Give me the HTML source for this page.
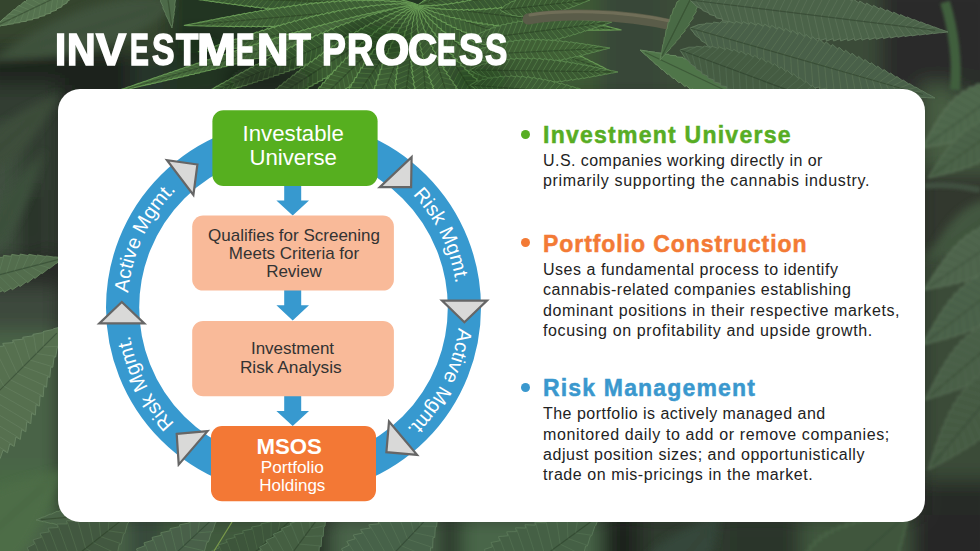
<!DOCTYPE html>
<html><head><meta charset="utf-8">
<style>
html,body{margin:0;padding:0;}
body{width:980px;height:551px;overflow:hidden;position:relative;background:#262925;font-family:"Liberation Sans",sans-serif;}
#bg{position:absolute;left:0;top:0;width:980px;height:551px;}
.tl{position:absolute;top:25px;font-weight:bold;font-size:44px;line-height:normal;color:#fff;white-space:nowrap;-webkit-text-stroke:1.6px #fff;transform-origin:0 0;}
.panel{position:absolute;left:58px;top:89px;width:867px;height:433px;background:#fff;border-radius:22px;}
#dia{position:absolute;left:0;top:0;}
.r{position:absolute;left:543px;white-space:nowrap;font-size:16px;line-height:20px;color:#222;}
.h{position:absolute;left:543px;white-space:nowrap;font-size:23px;font-weight:bold;line-height:28px;-webkit-text-stroke:0.5px currentColor;}
.dot{position:absolute;width:9px;height:9px;border-radius:50%;}
</style></head>
<body>
<svg id="bg" width="980" height="551" viewBox="0 0 980 551">
  <defs>
    <filter id="fT" x="-30%" y="-30%" width="160%" height="160%"><feGaussianBlur stdDeviation="10"/></filter>
    <filter id="fS" x="-10%" y="-10%" width="120%" height="120%"><feGaussianBlur stdDeviation="0.6"/></filter>
    <filter id="fM" x="-10%" y="-10%" width="120%" height="120%"><feGaussianBlur stdDeviation="1.8"/></filter>
    <filter id="fH" x="-20%" y="-20%" width="140%" height="140%"><feGaussianBlur stdDeviation="4"/></filter>
  </defs>
  <rect width="980" height="551" fill="#262925"/>
  <g filter="url(#fT)"><rect x="-20" y="-20" width="190" height="75" fill="#34442f"/><rect x="-20" y="50" width="155" height="60" fill="#1c211c"/><rect x="130" y="55" width="70" height="50" fill="#28342a"/><rect x="170" y="-20" width="310" height="120" fill="#213520"/><rect x="480" y="-20" width="130" height="120" fill="#3c5a36"/><rect x="600" y="-20" width="60" height="120" fill="#374638"/><rect x="660" y="-20" width="220" height="120" fill="#3a4c38"/><rect x="880" y="-20" width="120" height="120" fill="#292c29"/><rect x="-20" y="85" width="80" height="170" fill="#303e30"/><rect x="-20" y="130" width="38" height="130" fill="#3f5140"/><rect x="18" y="190" width="22" height="70" fill="#252d25"/><rect x="-20" y="285" width="80" height="45" fill="#3d483e"/><rect x="-20" y="330" width="80" height="140" fill="#4a6446"/><rect x="-20" y="470" width="80" height="110" fill="#4a6a45"/><rect x="920" y="85" width="80" height="85" fill="#465d43"/><rect x="955" y="70" width="50" height="30" fill="#2a2d2a"/><rect x="920" y="170" width="80" height="90" fill="#30392f"/><rect x="920" y="255" width="80" height="225" fill="#3a4b38"/><rect x="920" y="480" width="80" height="90" fill="#282928"/><rect x="-20" y="515" width="150" height="60" fill="#4a6446"/><rect x="130" y="515" width="30" height="60" fill="#34463a"/><rect x="160" y="515" width="140" height="60" fill="#3f5a3c"/><rect x="300" y="525" width="30" height="50" fill="#222a22"/><rect x="330" y="515" width="110" height="60" fill="#48634a"/><rect x="440" y="515" width="20" height="60" fill="#242a24"/><rect x="460" y="515" width="140" height="60" fill="#4a6648"/><rect x="600" y="515" width="40" height="60" fill="#1f241f"/><rect x="640" y="515" width="90" height="60" fill="#2e3a2e"/><rect x="730" y="515" width="70" height="60" fill="#2c362c"/><rect x="800" y="515" width="110" height="60" fill="#3f563d"/><rect x="910" y="515" width="90" height="60" fill="#262826"/></g>
  <g filter="url(#fH)"><path d="M-60.0,580.0 L-49.6,582.5 L-47.3,583.4 L-39.9,582.6 L-37.3,583.9 L-31.1,581.7 L-28.3,583.2 L-23.0,580.0 L-20.0,581.7 L-15.5,577.6 L-12.3,579.5 L-8.6,574.6 L-5.3,576.7 L-2.1,571.2 L1.2,573.3 L3.9,567.2 L7.3,569.3 L9.5,562.7 L12.8,564.8 L14.8,557.9 L18.0,559.9 L19.6,552.6 L22.8,554.5 L24.2,547.0 L27.2,548.7 L28.4,541.0 L31.3,542.6 L32.4,534.8 L35.1,536.1 L36.2,528.3 L38.6,529.4 L39.7,521.6 L42.0,522.4 L43.1,514.7 L45.1,515.3 L46.4,507.6 L48.1,507.9 L49.5,500.4 L51.0,500.5 L52.6,493.2 L53.8,492.9 L55.6,485.8 L56.6,485.3 L58.6,478.5 L59.3,477.6 L61.6,471.1 L62.0,470.0 L62.0,470.0 L60.9,470.3 L54.1,471.9 L53.2,472.5 L46.2,473.8 L45.6,474.7 L38.4,475.8 L38.0,477.0 L30.6,477.8 L30.5,479.3 L22.8,479.9 L23.0,481.7 L15.2,482.1 L15.6,484.2 L7.8,484.5 L8.4,486.8 L0.5,487.1 L1.4,489.7 L-6.5,490.0 L-5.5,492.7 L-13.4,493.1 L-12.1,496.1 L-19.9,496.5 L-18.5,499.7 L-26.1,500.3 L-24.5,503.6 L-31.9,504.5 L-30.3,507.9 L-37.4,509.1 L-35.6,512.6 L-42.4,514.2 L-40.6,517.7 L-47.0,519.8 L-45.2,523.3 L-51.1,525.9 L-49.4,529.4 L-54.6,532.6 L-53.0,536.0 L-57.6,540.0 L-56.1,543.2 L-59.9,548.1 L-58.7,551.1 L-61.5,557.0 L-60.5,559.7 L-62.1,567.0 L-61.4,569.4 L-60.0,580.0Z" fill="#4d6d47"/><path d="M-60.0,580.0 L55.9,475.5" stroke="#1a2a18" stroke-opacity="0.35" stroke-width="1.2"/><path d="M175.0,2.0 L167.9,-0.5 L166.5,-1.2 L160.1,-1.6 L158.6,-2.5 L152.5,-2.0 L151.0,-3.2 L145.0,-2.0 L143.4,-3.4 L137.6,-1.7 L136.0,-3.2 L130.4,-1.0 L128.7,-2.7 L123.2,-0.1 L121.6,-1.8 L116.2,1.2 L114.5,-0.6 L109.2,2.7 L107.5,0.9 L102.3,4.4 L100.6,2.6 L95.4,6.4 L93.7,4.6 L88.6,8.6 L87.0,6.8 L81.9,11.0 L80.3,9.3 L75.3,13.5 L73.7,11.9 L68.7,16.3 L67.1,14.8 L62.2,19.2 L60.6,17.8 L55.7,22.3 L54.1,21.0 L49.2,25.5 L47.7,24.3 L42.8,28.8 L41.4,27.8 L36.4,32.2 L35.0,31.3 L30.0,35.7 L28.7,35.0 L23.7,39.2 L22.4,38.7 L17.4,42.9 L16.2,42.5 L11.1,46.5 L9.9,46.4 L4.8,50.2 L3.7,50.3 L-1.5,54.0 L-2.5,54.2 L-7.8,57.7 L-8.8,58.1 L-14.1,61.4 L-15.0,62.0 L-15.0,62.0 L-13.9,61.9 L-7.7,61.6 L-6.6,61.4 L-0.3,61.3 L0.7,60.8 L7.0,60.9 L8.0,60.3 L14.4,60.5 L15.2,59.7 L21.7,60.0 L22.5,59.1 L29.0,59.6 L29.8,58.4 L36.3,59.0 L37.0,57.7 L43.6,58.4 L44.2,56.9 L50.8,57.7 L51.4,56.0 L58.0,56.8 L58.5,55.0 L65.1,55.9 L65.7,53.9 L72.3,54.8 L72.7,52.7 L79.3,53.5 L79.8,51.3 L86.3,52.1 L86.7,49.8 L93.3,50.4 L93.7,48.1 L100.2,48.6 L100.5,46.2 L107.0,46.5 L107.3,44.1 L113.7,44.3 L114.1,41.8 L120.4,41.7 L120.7,39.3 L127.0,38.9 L127.3,36.5 L133.4,35.8 L133.8,33.4 L139.8,32.4 L140.2,30.1 L146.1,28.7 L146.5,26.5 L152.3,24.6 L152.8,22.5 L158.3,20.1 L158.9,18.2 L164.2,15.1 L164.8,13.5 L169.9,9.5 L170.6,8.1 L175.0,2.0Z" fill="#3f523c"/><path d="M175.0,2.0 L-5.5,59.0" stroke="#1a2a18" stroke-opacity="0.35" stroke-width="1.2"/><path d="M-30.0,175.0 L-22.1,174.6 L-20.4,174.7 L-14.2,172.3 L-12.5,172.7 L-7.1,169.4 L-5.2,169.9 L-0.4,165.9 L1.6,166.5 L5.9,162.0 L7.9,162.6 L11.8,157.7 L13.8,158.2 L17.3,152.9 L19.3,153.4 L22.5,147.8 L24.4,148.3 L27.5,142.4 L29.3,142.8 L32.2,136.8 L33.9,137.0 L36.7,130.9 L38.3,131.0 L41.1,124.8 L42.5,124.8 L45.3,118.6 L46.5,118.4 L49.4,112.3 L50.5,111.9 L53.4,105.9 L54.3,105.3 L57.4,99.4 L58.2,98.6 L61.4,93.0 L62.0,92.0 L62.0,92.0 L61.0,92.5 L55.0,95.1 L54.1,95.8 L48.0,98.3 L47.3,99.1 L41.1,101.4 L40.5,102.5 L34.2,104.7 L33.8,105.9 L27.4,108.1 L27.2,109.4 L20.8,111.6 L20.7,113.1 L14.3,115.3 L14.4,117.0 L8.1,119.3 L8.3,121.1 L2.2,123.6 L2.4,125.5 L-3.5,128.2 L-3.2,130.2 L-8.8,133.2 L-8.5,135.2 L-13.8,138.6 L-13.4,140.6 L-18.3,144.5 L-18.0,146.5 L-22.4,150.8 L-22.1,152.8 L-25.9,157.8 L-25.7,159.6 L-28.8,165.5 L-28.7,167.1 L-30.0,175.0Z" fill="#3d4e3b"/><path d="M-30.0,175.0 L57.4,96.2" stroke="#1a2a18" stroke-opacity="0.35" stroke-width="1.2"/><path d="M-20.0,260.0 L-13.8,256.7 L-12.5,256.2 L-7.9,251.9 L-6.4,251.5 L-2.6,246.8 L-1.0,246.5 L2.3,241.4 L4.0,241.2 L6.8,235.9 L8.5,235.6 L11.0,230.1 L12.7,229.8 L14.8,224.1 L16.5,223.8 L18.4,217.9 L20.0,217.7 L21.7,211.6 L23.2,211.3 L24.7,205.2 L26.2,204.8 L27.6,198.7 L29.0,198.2 L30.3,192.0 L31.5,191.5 L32.9,185.3 L34.0,184.7 L35.4,178.5 L36.3,177.8 L37.8,171.7 L38.5,170.9 L40.1,164.8 L40.7,164.0 L42.4,157.9 L42.9,157.0 L44.7,151.0 L45.0,150.0 L45.0,150.0 L44.3,150.8 L39.9,155.2 L39.3,156.1 L34.8,160.5 L34.4,161.5 L29.8,165.7 L29.5,166.8 L24.8,171.0 L24.7,172.2 L19.9,176.4 L19.9,177.6 L15.1,181.8 L15.3,183.1 L10.5,187.3 L10.7,188.7 L6.0,192.9 L6.4,194.4 L1.8,198.7 L2.3,200.2 L-2.2,204.6 L-1.7,206.1 L-5.9,210.6 L-5.3,212.2 L-9.3,216.8 L-8.7,218.4 L-12.4,223.3 L-11.8,224.9 L-15.1,229.9 L-14.5,231.5 L-17.3,236.8 L-16.9,238.4 L-19.1,244.0 L-18.8,245.5 L-20.3,251.6 L-20.1,252.9 L-20.0,260.0Z" fill="#3e513c"/><path d="M-20.0,260.0 L41.8,155.5" stroke="#1a2a18" stroke-opacity="0.35" stroke-width="1.2"/><path d="M1010.0,200.0 L1001.4,198.3 L999.6,197.7 L993.1,198.8 L991.1,197.9 L985.5,200.4 L983.5,199.4 L978.6,202.7 L976.5,201.7 L972.2,205.9 L970.1,204.8 L966.2,209.6 L964.2,208.6 L960.7,214.0 L958.8,213.1 L955.6,218.8 L953.8,218.1 L950.8,224.1 L949.1,223.6 L946.2,229.8 L944.7,229.5 L941.9,235.7 L940.5,235.7 L937.7,241.9 L936.5,242.1 L933.6,248.2 L932.6,248.7 L929.6,254.6 L928.8,255.3 L925.6,261.0 L925.0,262.0 L925.0,262.0 L926.1,261.7 L932.5,260.4 L933.4,259.9 L940.0,258.8 L940.8,258.0 L947.5,257.1 L948.0,256.1 L954.8,255.3 L955.2,254.0 L962.0,253.2 L962.2,251.6 L968.9,250.8 L968.9,249.0 L975.6,248.0 L975.4,246.0 L981.9,244.8 L981.6,242.6 L987.8,241.0 L987.5,238.7 L993.2,236.5 L992.9,234.2 L998.2,231.4 L997.8,229.1 L1002.5,225.4 L1002.2,223.2 L1006.2,218.6 L1006.0,216.5 L1009.1,210.6 L1009.0,208.7 L1010.0,200.0Z" fill="#42573f"/><path d="M1010.0,200.0 L929.2,258.9" stroke="#1a2a18" stroke-opacity="0.35" stroke-width="1.2"/><path d="M640.0,610.0 L650.7,610.9 L653.1,611.5 L660.3,609.4 L663.0,610.2 L668.6,606.8 L671.4,607.8 L675.8,603.4 L678.9,604.5 L682.3,599.3 L685.3,600.4 L687.9,594.5 L691.0,595.6 L692.9,589.1 L695.9,590.2 L697.2,583.2 L700.1,584.2 L701.0,576.9 L703.7,577.7 L704.3,570.1 L706.7,570.7 L707.2,563.0 L709.4,563.4 L709.8,555.6 L711.6,555.7 L712.0,547.9 L713.6,547.8 L714.1,540.1 L715.4,539.7 L716.0,532.2 L717.0,531.5 L717.9,524.2 L718.5,523.3 L719.7,516.2 L720.0,515.0 L720.0,515.0 L718.9,515.5 L712.1,517.9 L711.3,518.6 L704.2,520.8 L703.7,521.8 L696.4,523.8 L696.2,525.1 L688.7,526.9 L688.9,528.4 L681.3,530.2 L681.8,532.0 L674.2,533.7 L674.9,535.8 L667.4,537.5 L668.4,539.8 L661.0,541.8 L662.3,544.2 L655.2,546.4 L656.7,549.1 L650.0,551.6 L651.6,554.3 L645.5,557.3 L647.1,560.1 L641.7,563.7 L643.4,566.5 L638.8,570.8 L640.4,573.6 L636.8,578.6 L638.3,581.3 L635.9,587.4 L637.1,589.9 L636.3,597.3 L637.3,599.6 L640.0,610.0Z" fill="#34463a"/><path d="M640.0,610.0 L716.0,519.8" stroke="#1a2a18" stroke-opacity="0.35" stroke-width="1.2"/></g>
  <g filter="url(#fM)"><path d="M945,2 C952,25 958,55 955,90" stroke="#3f5e3c" stroke-width="10" fill="none"/><path d="M1010.0,85.0 L999.5,82.5 L997.3,81.6 L989.5,82.8 L987.1,81.7 L980.5,84.6 L978.1,83.4 L972.5,87.6 L970.0,86.4 L965.1,91.7 L962.8,90.5 L958.5,96.7 L956.2,95.7 L952.4,102.5 L950.3,101.7 L946.8,109.0 L944.9,108.5 L941.6,116.0 L939.9,115.8 L936.6,123.4 L935.2,123.5 L931.9,131.1 L930.7,131.5 L927.3,138.9 L926.3,139.7 L922.7,146.8 L922.0,148.0 L922.0,148.0 L923.3,147.7 L931.2,146.6 L932.3,145.9 L940.4,145.1 L941.2,144.1 L949.4,143.4 L950.0,142.1 L958.3,141.5 L958.6,139.8 L966.8,139.1 L966.9,137.1 L974.9,136.1 L974.9,133.9 L982.5,132.4 L982.3,130.0 L989.5,127.9 L989.2,125.3 L995.8,122.4 L995.4,119.7 L1001.3,115.7 L1000.9,113.0 L1005.8,107.7 L1005.5,105.2 L1009.2,98.1 L1009.0,95.8 L1010.0,85.0Z" fill="#4e664b" stroke="#647d60" stroke-width="0.9"/><path d="M997.6,82.0L1010.0,85.0L1008.9,97.7M987.6,82.3L1004.6,88.9L1005.3,107.1M978.7,84.2L997.8,93.7L1000.7,114.9M970.7,87.3L991.0,98.6L995.2,121.5M963.4,91.5L984.3,103.4L988.9,127.0M956.9,96.6L977.5,108.3L981.9,131.5M950.9,102.6L970.7,113.1L974.3,135.3M945.4,109.2L964.0,118.0L966.3,138.3M940.3,116.4L957.2,122.8L957.8,140.8M935.5,124.0L950.4,127.6L949.1,142.9M930.9,131.9L943.7,132.5L940.1,144.7" fill="none" stroke="#647d60" stroke-opacity="0.45" stroke-width="1"/><path d="M1010.0,85.0 L926.4,144.8" stroke="#1a2a18" stroke-opacity="0.35" stroke-width="1.2"/><path d="M1010.0,120.0 L1000.3,118.6 L998.3,118.0 L990.8,119.7 L988.7,118.9 L982.3,122.2 L980.2,121.3 L974.6,125.7 L972.5,124.9 L967.5,130.2 L965.5,129.5 L961.0,135.5 L959.1,134.9 L954.9,141.5 L953.2,141.1 L949.3,147.9 L947.7,147.9 L943.9,154.9 L942.5,155.1 L938.8,162.1 L937.6,162.6 L933.7,169.4 L932.8,170.3 L928.7,176.9 L928.0,178.0 L928.0,178.0 L929.3,177.7 L936.9,176.1 L938.0,175.4 L945.7,174.1 L946.6,173.2 L954.5,171.9 L955.1,170.7 L963.0,169.4 L963.4,167.9 L971.2,166.5 L971.4,164.8 L978.9,163.1 L979.1,161.0 L986.2,158.8 L986.2,156.7 L992.9,153.8 L992.8,151.5 L998.8,147.7 L998.7,145.4 L1003.9,140.4 L1003.9,138.2 L1008.0,131.7 L1008.1,129.6 L1010.0,120.0Z" fill="#4a6147" stroke="#5f785b" stroke-width="0.9"/><path d="M998.5,118.3L1010.0,120.0L1007.8,131.4M989.1,119.5L1004.5,123.9L1003.5,139.9M980.7,122.0L997.7,128.7L998.3,147.0M973.0,125.6L990.9,133.5L992.4,153.0M966.0,130.2L984.0,138.4L985.7,158.1M959.6,135.7L977.2,143.2L978.4,162.3M953.6,141.8L970.4,148.0L970.7,165.9M948.1,148.4L963.5,152.9L962.6,168.9M942.8,155.5L956.7,157.7L954.2,171.5M937.8,162.9L949.9,162.5L945.5,173.8" fill="none" stroke="#5f785b" stroke-opacity="0.45" stroke-width="1"/><path d="M1010.0,120.0 L932.1,175.1" stroke="#1a2a18" stroke-opacity="0.35" stroke-width="1.2"/><path d="M925,186 C945,184 960,186 980,190" stroke="#3f5040" stroke-width="6" fill="none"/><path d="M800.0,610.0 L811.6,614.0 L814.1,615.3 L822.1,615.3 L825.0,616.9 L831.4,615.2 L834.6,617.2 L839.8,614.0 L843.2,616.3 L847.4,612.1 L851.0,614.5 L854.4,609.4 L858.1,611.9 L860.7,605.9 L864.4,608.5 L866.5,601.9 L870.1,604.4 L871.7,597.2 L875.3,599.6 L876.5,592.0 L879.9,594.2 L880.8,586.3 L884.0,588.3 L884.7,580.1 L887.7,581.9 L888.3,573.6 L891.1,575.1 L891.5,566.7 L894.1,567.9 L894.5,559.5 L896.8,560.5 L897.3,552.1 L899.3,552.7 L900.0,544.5 L901.6,544.8 L902.5,536.8 L903.8,536.7 L904.9,528.9 L905.9,528.5 L907.3,521.1 L907.9,520.2 L909.6,513.2 L910.0,512.0 L910.0,512.0 L908.8,512.2 L901.6,513.1 L900.7,513.7 L893.2,514.2 L892.6,515.1 L884.8,515.3 L884.5,516.6 L876.5,516.6 L876.6,518.2 L868.3,518.0 L868.7,520.0 L860.3,519.5 L861.0,521.9 L852.6,521.4 L853.6,524.1 L845.1,523.5 L846.3,526.5 L838.0,526.1 L839.4,529.3 L831.2,529.0 L832.9,532.5 L824.9,532.4 L826.7,536.1 L819.0,536.4 L821.0,540.2 L813.7,541.0 L815.7,544.9 L808.9,546.2 L811.0,550.1 L804.8,552.1 L806.9,556.0 L801.4,558.8 L803.4,562.6 L798.7,566.4 L800.6,570.0 L796.9,574.8 L798.5,578.2 L796.0,584.4 L797.3,587.5 L796.3,595.3 L797.3,598.0 L800.0,610.0Z" fill="#3f563d" stroke="#52704f" stroke-width="0.9"/><path d="M800.0,610.0 L904.5,516.9" stroke="#1a2a18" stroke-opacity="0.35" stroke-width="1.2"/><path d="M1020.0,225.0 L1010.0,222.8 L1008.0,222.0 L1000.3,223.2 L998.1,222.1 L991.4,224.9 L989.1,223.7 L983.3,227.6 L981.0,226.4 L975.8,231.3 L973.5,230.1 L968.8,235.8 L966.6,234.7 L962.3,241.0 L960.2,240.1 L956.2,246.8 L954.3,246.1 L950.5,253.1 L948.7,252.7 L945.1,259.8 L943.5,259.7 L939.8,266.9 L938.4,267.0 L934.7,274.1 L933.6,274.6 L929.7,281.5 L928.8,282.3 L924.7,288.9 L924.0,290.0 L924.0,290.0 L925.3,289.7 L932.9,288.4 L934.0,287.8 L941.9,286.8 L942.7,285.9 L950.7,285.1 L951.4,283.9 L959.4,283.2 L959.8,281.6 L967.8,280.9 L968.1,279.1 L976.0,278.2 L976.1,276.1 L983.8,274.9 L983.7,272.6 L991.1,271.0 L991.0,268.5 L998.0,266.3 L997.7,263.7 L1004.2,260.7 L1003.9,258.1 L1009.7,254.2 L1009.5,251.6 L1014.5,246.4 L1014.4,244.0 L1018.3,237.3 L1018.3,235.1 L1020.0,225.0Z" fill="#4d634b" stroke="#627a5f" stroke-width="0.9"/><path d="M1008.2,222.4L1020.0,225.0L1018.1,236.9M998.5,222.7L1014.5,228.7L1014.1,245.8M989.6,224.5L1007.7,233.4L1009.2,253.4M981.5,227.3L1000.8,238.0L1003.6,259.9M974.1,231.0L993.9,242.6L997.3,265.4M967.2,235.6L987.1,247.3L990.5,270.1M960.8,241.0L980.2,251.9L983.2,274.0M954.8,246.9L973.4,256.6L975.5,277.4M949.2,253.4L966.5,261.2L967.4,280.2M943.9,260.3L959.7,265.9L959.0,282.6M938.8,267.5L952.8,270.5L950.4,284.7M933.8,274.9L945.9,275.1L941.7,286.5" fill="none" stroke="#627a5f" stroke-opacity="0.45" stroke-width="1"/><path d="M1020.0,225.0 L928.8,286.8" stroke="#1a2a18" stroke-opacity="0.35" stroke-width="1.2"/><path d="M1020.0,270.0 L1010.0,268.4 L1007.9,267.7 L1000.3,269.3 L998.0,268.3 L991.5,271.3 L989.1,270.3 L983.5,274.4 L981.0,273.2 L976.0,278.2 L973.6,277.1 L969.2,282.8 L966.8,281.7 L962.9,288.1 L960.6,287.1 L956.9,293.9 L954.8,293.1 L951.4,300.2 L949.4,299.6 L946.2,306.9 L944.4,306.6 L941.2,313.9 L939.7,313.9 L936.4,321.2 L935.1,321.5 L931.8,328.7 L930.7,329.3 L927.2,336.3 L926.3,337.1 L922.7,343.9 L922.0,345.0 L922.0,345.0 L923.3,344.6 L930.7,342.9 L931.8,342.2 L939.5,340.7 L940.3,339.8 L948.1,338.5 L948.7,337.3 L956.6,336.1 L957.0,334.6 L964.9,333.4 L965.1,331.6 L973.0,330.4 L972.9,328.3 L980.7,326.9 L980.5,324.6 L988.0,322.9 L987.6,320.4 L994.8,318.3 L994.4,315.7 L1001.1,312.9 L1000.6,310.3 L1006.7,306.8 L1006.2,304.1 L1011.7,299.7 L1011.3,297.2 L1015.9,291.7 L1015.6,289.2 L1019.1,282.3 L1018.9,280.1 L1020.0,270.0Z" fill="#4a6048" stroke="#5f775c" stroke-width="0.9"/><path d="M1008.1,268.0L1020.0,270.0L1018.8,282.0M998.4,268.9L1014.8,274.0L1015.4,291.1M989.7,271.0L1008.2,279.0L1011.1,299.0M981.7,274.1L1001.7,284.0L1006.1,305.9M974.3,278.0L995.2,289.0L1000.4,312.0M967.5,282.6L988.6,294.0L994.1,317.4M961.3,288.0L982.1,299.0L987.3,322.0M955.5,294.0L975.6,304.0L980.0,326.0M950.0,300.4L969.0,309.0L972.4,329.6M944.9,307.3L962.5,314.0L964.4,332.7M940.1,314.5L956.0,319.0L956.2,335.5M935.4,321.9L949.4,324.0L947.8,338.1M930.9,329.5L942.9,329.0L939.2,340.5" fill="none" stroke="#5f775c" stroke-opacity="0.45" stroke-width="1"/><path d="M1020.0,270.0 L926.9,341.2" stroke="#1a2a18" stroke-opacity="0.35" stroke-width="1.2"/><path d="M1020.0,320.0 L1009.9,318.9 L1007.7,318.3 L1000.2,320.2 L997.9,319.4 L991.5,322.8 L989.0,321.8 L983.5,326.2 L981.0,325.2 L976.3,330.4 L973.8,329.4 L969.6,335.4 L967.2,334.4 L963.5,340.9 L961.2,340.1 L957.8,347.1 L955.6,346.4 L952.5,353.7 L950.5,353.2 L947.6,360.6 L945.8,360.4 L942.9,367.9 L941.3,368.0 L938.5,375.5 L937.1,375.8 L934.1,383.2 L933.0,383.8 L929.9,391.0 L929.0,391.9 L925.6,398.8 L925.0,400.0 L925.0,400.0 L926.3,399.6 L933.7,397.4 L934.7,396.7 L942.3,394.9 L943.1,393.9 L950.9,392.2 L951.4,390.9 L959.3,389.3 L959.6,387.8 L967.5,386.2 L967.6,384.4 L975.5,382.8 L975.4,380.7 L983.0,378.9 L982.8,376.7 L990.2,374.6 L989.7,372.1 L996.8,369.6 L996.3,367.0 L1002.9,363.9 L1002.3,361.3 L1008.3,357.5 L1007.7,354.9 L1013.0,350.2 L1012.4,347.6 L1016.8,341.9 L1016.4,339.5 L1019.6,332.4 L1019.4,330.2 L1020.0,320.0Z" fill="#485e46" stroke="#5c745a" stroke-width="0.9"/><path d="M1008.0,318.6L1020.0,320.0L1019.3,332.0M998.3,320.0L1014.9,324.3L1016.3,341.3M989.6,322.5L1008.6,329.6L1012.4,349.5M981.7,326.0L1002.3,334.9L1007.6,356.7M974.5,330.3L995.9,340.3L1002.1,363.1M967.9,335.3L989.6,345.6L996.1,368.7M961.9,341.0L983.3,350.9L989.5,373.7M956.3,347.2L976.9,356.3L982.4,378.1M951.2,353.9L970.6,361.6L974.8,382.1M946.3,361.1L964.3,366.9L967.0,385.6M941.8,368.5L957.9,372.3L958.9,388.8M937.4,376.2L951.6,377.6L950.6,391.8M933.2,384.1L945.3,382.9L942.1,394.6" fill="none" stroke="#5c745a" stroke-opacity="0.45" stroke-width="1"/><path d="M1020.0,320.0 L929.8,396.0" stroke="#1a2a18" stroke-opacity="0.35" stroke-width="1.2"/><path d="M1020.0,360.0 L1009.8,360.8 L1007.6,360.6 L1000.3,363.9 L997.9,363.5 L991.9,367.9 L989.3,367.3 L984.4,372.5 L981.6,371.9 L977.5,377.8 L974.7,377.1 L971.3,383.6 L968.5,382.9 L965.7,389.9 L963.0,389.3 L960.6,396.6 L958.0,396.1 L955.9,403.7 L953.5,403.3 L951.7,411.2 L949.4,410.9 L947.8,418.9 L945.8,418.9 L944.2,426.9 L942.4,427.0 L940.8,435.1 L939.3,435.4 L937.6,443.4 L936.3,444.0 L934.5,451.8 L933.5,452.6 L931.5,460.2 L930.7,461.3 L928.5,468.7 L928.0,470.0 L928.0,470.0 L929.2,469.3 L936.1,465.8 L937.0,464.9 L944.2,461.5 L944.8,460.4 L952.2,457.2 L952.5,455.9 L960.0,452.8 L960.1,451.2 L967.7,448.2 L967.6,446.5 L975.2,443.5 L974.8,441.5 L982.3,438.5 L981.7,436.3 L989.1,433.1 L988.3,430.8 L995.4,427.4 L994.5,425.0 L1001.3,421.3 L1000.2,418.8 L1006.5,414.7 L1005.4,412.1 L1011.2,407.6 L1010.0,405.0 L1015.1,399.9 L1014.0,397.3 L1018.2,391.5 L1017.2,389.0 L1020.5,382.4 L1019.7,380.1 L1021.6,372.3 L1021.0,370.2 L1020.0,360.0Z" fill="#455a43" stroke="#586f55" stroke-width="0.9"/><path d="M1007.9,360.9L1020.0,360.0L1021.3,372.1M998.4,364.0L1015.7,365.2L1019.9,381.9M990.0,367.9L1010.3,371.6L1017.5,390.9M982.4,372.6L1004.8,378.1L1014.3,399.2M975.6,377.9L999.4,384.6L1010.3,406.8M969.5,383.7L994.0,391.1L1005.6,413.9M963.9,390.1L988.6,397.5L1000.3,420.5M958.9,396.9L983.2,404.0L994.5,426.7M954.4,404.1L977.8,410.5L988.2,432.4M950.3,411.6L972.4,416.9L981.5,437.8M946.5,419.5L967.0,423.4L974.5,442.9M943.0,427.6L961.6,429.9L967.1,447.7M939.8,435.9L956.1,436.4L959.5,452.4M936.7,444.3L950.7,442.8L951.8,456.9M933.8,452.8L945.3,449.3L943.9,461.3" fill="none" stroke="#586f55" stroke-opacity="0.45" stroke-width="1"/><path d="M1020.0,360.0 L932.6,464.5" stroke="#1a2a18" stroke-opacity="0.35" stroke-width="1.2"/></g>
  <g filter="url(#fS)"><path d="M80.0,-14.0 L73.5,-15.2 L72.2,-15.6 L66.6,-14.9 L65.2,-15.5 L60.0,-13.9 L58.6,-14.5 L53.7,-12.3 L52.3,-13.0 L47.7,-10.2 L46.3,-11.0 L41.8,-7.8 L40.4,-8.4 L36.1,-4.9 L34.8,-5.5 L30.6,-1.7 L29.4,-2.2 L25.3,1.8 L24.1,1.5 L20.0,5.6 L18.9,5.4 L14.9,9.5 L13.8,9.5 L9.8,13.6 L8.8,13.8 L4.8,17.8 L3.8,18.1 L-0.2,22.1 L-1.1,22.6 L-5.2,26.4 L-6.0,27.0 L-6.0,27.0 L-5.0,26.8 L0.5,26.0 L1.4,25.6 L7.1,24.9 L7.9,24.4 L13.6,23.8 L14.3,23.1 L20.1,22.6 L20.7,21.8 L26.5,21.3 L27.0,20.2 L32.7,19.7 L33.2,18.5 L38.9,17.9 L39.3,16.6 L44.9,15.7 L45.3,14.3 L50.8,13.2 L51.1,11.7 L56.4,10.3 L56.7,8.8 L61.8,6.9 L62.1,5.4 L67.0,2.9 L67.3,1.5 L71.8,-1.6 L72.2,-3.0 L76.3,-6.9 L76.8,-8.2 L80.0,-14.0Z" fill="#55724f" stroke="#6f8f66" stroke-width="0.9"/><path d="M72.3,-15.4L80.0,-14.0L76.2,-7.1M65.4,-15.1L75.4,-11.8L71.7,-2.0M58.8,-14.1L69.7,-9.1L66.8,2.5M52.6,-12.5L63.9,-6.3L61.6,6.4M46.5,-10.4L58.2,-3.6L56.1,9.8M40.7,-7.9L52.5,-0.9L50.5,12.7M35.1,-4.9L46.7,1.9L44.7,15.2M29.6,-1.7L41.0,4.6L38.7,17.4M24.3,1.9L35.3,7.3L32.5,19.3M19.1,5.8L29.5,10.1L26.3,20.9M14.0,9.8L23.8,12.8L19.9,22.3M8.9,14.0L18.1,15.5L13.5,23.6M3.9,18.3L12.3,18.3L7.0,24.8" fill="none" stroke="#6a8a62" stroke-opacity="0.45" stroke-width="1"/><path d="M80.0,-14.0 L-1.7,24.9" stroke="#1a2a18" stroke-opacity="0.35" stroke-width="1.2"/><path d="M163.0,-35.0 L160.0,-28.5 L159.2,-27.3 L158.7,-21.2 L157.8,-20.0 L158.5,-14.0 L157.7,-12.8 L159.3,-7.0 L158.7,-5.8 L160.9,-0.1 L160.4,1.1 L163.1,6.8 L162.8,7.9 L165.7,13.5 L165.7,14.6 L168.6,20.3 L168.8,21.3 L171.6,27.0 L172.0,28.0 L172.0,28.0 L172.1,26.9 L173.2,20.7 L173.1,19.6 L174.3,13.4 L174.0,12.4 L175.2,6.1 L174.6,5.1 L175.6,-1.1 L174.8,-2.0 L175.3,-8.2 L174.4,-9.1 L174.3,-15.2 L173.2,-16.1 L172.2,-22.0 L171.0,-22.9 L168.8,-28.7 L167.7,-29.6 L163.0,-35.0Z" fill="#4d6a48" stroke="#62805c" stroke-width="0.9"/><path d="M163.0,-35.0 L171.6,24.8" stroke="#1a2a18" stroke-opacity="0.35" stroke-width="1.2"/><path d="M418.0,5.0 L413.3,3.1 L412.5,2.7 L407.8,1.6 L407.0,1.1 L402.2,0.3 L401.4,-0.3 L396.7,-0.8 L395.9,-1.6 L391.2,-1.9 L390.3,-2.7 L385.6,-2.8 L384.8,-3.7 L380.0,-3.7 L379.2,-4.6 L374.5,-4.4 L373.7,-5.4 L368.9,-5.2 L368.1,-6.2 L363.4,-5.8 L362.6,-6.9 L357.8,-6.4 L357.0,-7.5 L352.2,-6.9 L351.4,-8.0 L346.7,-7.3 L345.9,-8.5 L341.1,-7.7 L340.3,-8.9 L335.5,-8.1 L334.7,-9.2 L329.9,-8.3 L329.2,-9.5 L324.4,-8.6 L323.6,-9.7 L318.8,-8.8 L318.0,-9.9 L313.2,-8.9 L312.4,-10.0 L307.6,-9.0 L306.8,-10.1 L302.0,-9.0 L301.2,-10.1 L296.5,-9.0 L295.7,-10.1 L290.9,-9.0 L290.1,-10.0 L285.3,-8.9 L284.5,-9.9 L279.7,-8.8 L278.9,-9.8 L274.1,-8.7 L273.3,-9.6 L268.5,-8.5 L267.7,-9.4 L262.9,-8.3 L262.1,-9.2 L257.3,-8.1 L256.5,-8.9 L251.7,-7.8 L250.9,-8.6 L246.1,-7.6 L245.3,-8.3 L240.6,-7.3 L239.7,-7.9 L235.0,-7.0 L234.1,-7.6 L229.4,-6.7 L228.5,-7.2 L223.8,-6.3 L222.9,-6.8 L218.2,-6.0 L217.3,-6.4 L212.6,-5.6 L211.7,-6.0 L207.0,-5.3 L206.1,-5.5 L201.4,-4.9 L200.5,-5.1 L195.8,-4.5 L194.9,-4.7 L190.2,-4.2 L189.3,-4.2 L184.6,-3.8 L183.7,-3.8 L179.0,-3.4 L178.1,-3.4 L178.1,-3.4 L179.0,-3.3 L183.7,-2.6 L184.5,-2.5 L189.3,-1.7 L190.1,-1.7 L194.8,-0.9 L195.7,-1.0 L200.4,-0.1 L201.2,-0.2 L205.9,0.7 L206.8,0.5 L211.5,1.6 L212.3,1.3 L217.0,2.4 L217.9,2.0 L222.6,3.1 L223.4,2.8 L228.2,3.9 L229.0,3.5 L233.7,4.7 L234.6,4.2 L239.3,5.5 L240.1,4.9 L244.8,6.2 L245.7,5.6 L250.4,6.9 L251.3,6.2 L256.0,7.6 L256.8,6.9 L261.5,8.2 L262.4,7.5 L267.1,8.9 L267.9,8.0 L272.6,9.5 L273.5,8.6 L278.2,10.0 L279.1,9.1 L283.8,10.6 L284.6,9.6 L289.3,11.1 L290.2,10.1 L294.9,11.5 L295.8,10.5 L300.5,11.9 L301.4,10.9 L306.0,12.3 L306.9,11.2 L311.6,12.6 L312.5,11.5 L317.2,12.9 L318.1,11.8 L322.8,13.1 L323.7,12.0 L328.4,13.3 L329.2,12.2 L333.9,13.4 L334.8,12.3 L339.5,13.4 L340.4,12.3 L345.1,13.4 L346.0,12.3 L350.7,13.3 L351.6,12.3 L356.3,13.2 L357.2,12.1 L361.9,13.0 L362.7,12.0 L367.5,12.7 L368.3,11.7 L373.1,12.3 L373.9,11.4 L378.7,11.9 L379.5,11.0 L384.3,11.3 L385.1,10.5 L389.9,10.7 L390.7,10.0 L395.5,10.0 L396.3,9.3 L401.1,9.1 L402.0,8.5 L406.7,8.1 L407.6,7.6 L412.3,6.9 L413.2,6.5 L418.0,5.0Z" fill="#395830" stroke="#689a55" stroke-width="1.1"/><path d="M412.5,2.8L418.0,5.0L412.4,6.8M407.0,1.2L413.5,4.8L406.7,8.0M401.4,-0.1L408.0,4.6L401.1,8.9M395.9,-1.3L402.4,4.5L395.5,9.7M390.3,-2.3L396.8,4.3L389.9,10.4M384.8,-3.3L391.2,4.1L384.3,11.0M379.2,-4.2L385.6,3.9L378.7,11.5M373.7,-5.0L380.1,3.7L373.1,11.9M368.1,-5.7L374.5,3.5L367.5,12.2M362.5,-6.4L368.9,3.3L361.9,12.5M357.0,-7.0L363.3,3.1L356.3,12.7M351.4,-7.5L357.8,2.9L350.7,12.8M345.8,-7.9L352.2,2.7L345.1,12.9M340.3,-8.3L346.6,2.5L339.5,12.9M334.7,-8.7L341.0,2.3L334.0,12.8M329.1,-8.9L335.4,2.1L328.4,12.7M323.6,-9.2L329.9,1.9L322.8,12.5M318.0,-9.3L324.3,1.7L317.2,12.3M312.4,-9.5L318.7,1.5L311.6,12.1M306.8,-9.5L313.1,1.3L306.1,11.8M301.2,-9.6L307.6,1.1L300.5,11.4M295.6,-9.6L302.0,0.9L294.9,11.0M290.1,-9.5L296.4,0.8L289.4,10.5M284.5,-9.4L290.8,0.6L283.8,10.1M278.9,-9.3L285.2,0.4L278.2,9.6M273.3,-9.1L279.7,0.2L272.7,9.0M267.7,-8.9L274.1,-0.0L267.1,8.4M262.1,-8.7L268.5,-0.2L261.5,7.8M256.5,-8.5L262.9,-0.4L256.0,7.2M250.9,-8.2L257.4,-0.6L250.4,6.5M245.3,-7.9L251.8,-0.8L244.8,5.8M239.7,-7.6L246.2,-1.0L239.3,5.1M234.1,-7.2L240.6,-1.2L233.7,4.4M228.5,-6.9L235.0,-1.4L228.2,3.7M222.9,-6.5L229.5,-1.6L222.6,2.9M217.3,-6.2L223.9,-1.8L217.0,2.1M211.7,-5.8L218.3,-2.0L211.5,1.4M206.1,-5.4L212.7,-2.2L205.9,0.6M200.5,-5.0L207.2,-2.4L200.4,-0.2M194.9,-4.6L201.6,-2.6L194.8,-1.0M189.3,-4.2L196.0,-2.8L189.3,-1.8" fill="none" stroke="#64984f" stroke-opacity="0.35" stroke-width="1"/><path d="M418.0,5.0 L190.1,-3.0" stroke="#1a2a18" stroke-opacity="0.35" stroke-width="1.2"/><path d="M418.0,5.0 L413.1,3.7 L412.2,3.3 L407.4,2.9 L406.5,2.4 L401.8,2.2 L400.9,1.7 L396.1,1.8 L395.2,1.1 L390.4,1.4 L389.5,0.7 L384.8,1.1 L383.9,0.3 L379.2,0.9 L378.3,0.1 L373.5,0.8 L372.6,-0.1 L367.9,0.8 L367.0,-0.1 L362.3,0.9 L361.4,-0.1 L356.7,1.0 L355.8,-0.0 L351.1,1.2 L350.2,0.1 L345.5,1.4 L344.6,0.3 L339.9,1.7 L339.0,0.6 L334.3,2.1 L333.4,1.0 L328.8,2.5 L327.8,1.4 L323.2,3.0 L322.2,1.9 L317.6,3.5 L316.7,2.4 L312.0,4.1 L311.1,3.0 L306.5,4.7 L305.6,3.7 L300.9,5.3 L300.0,4.3 L295.4,6.0 L294.4,5.1 L289.8,6.8 L288.9,5.9 L284.3,7.6 L283.3,6.7 L278.7,8.4 L277.8,7.5 L273.2,9.2 L272.3,8.4 L267.6,10.1 L266.7,9.3 L262.1,11.0 L261.2,10.3 L256.6,11.9 L255.7,11.3 L251.0,12.9 L250.1,12.3 L245.5,13.8 L244.6,13.3 L240.0,14.8 L239.1,14.4 L234.4,15.8 L233.6,15.4 L228.9,16.9 L228.0,16.5 L223.4,17.9 L222.5,17.6 L217.9,18.9 L217.0,18.7 L212.3,20.0 L211.5,19.8 L206.8,21.1 L206.0,21.0 L201.3,22.1 L200.4,22.1 L195.8,23.2 L194.9,23.2 L190.2,24.3 L189.4,24.4 L184.7,25.3 L183.9,25.5 L183.9,25.5 L184.7,25.5 L189.5,25.6 L190.4,25.6 L195.2,25.8 L196.0,25.7 L200.8,25.9 L201.6,25.8 L206.4,26.1 L207.2,25.9 L212.0,26.2 L212.9,25.9 L217.7,26.4 L218.5,26.0 L223.3,26.5 L224.1,26.1 L228.9,26.6 L229.7,26.1 L234.6,26.8 L235.3,26.2 L240.2,26.8 L241.0,26.2 L245.8,26.9 L246.6,26.2 L251.4,27.0 L252.2,26.2 L257.0,27.0 L257.8,26.2 L262.7,27.0 L263.4,26.2 L268.3,27.0 L269.0,26.1 L273.9,26.9 L274.6,26.0 L279.5,26.9 L280.3,25.9 L285.1,26.7 L285.9,25.7 L290.7,26.6 L291.5,25.5 L296.3,26.4 L297.1,25.3 L301.9,26.1 L302.6,25.0 L307.5,25.8 L308.2,24.7 L313.1,25.5 L313.8,24.3 L318.7,25.1 L319.4,23.9 L324.2,24.7 L325.0,23.5 L329.8,24.2 L330.5,23.0 L335.4,23.6 L336.1,22.4 L340.9,23.0 L341.7,21.8 L346.5,22.3 L347.2,21.1 L352.1,21.6 L352.8,20.4 L357.6,20.8 L358.3,19.6 L363.1,19.9 L363.9,18.7 L368.7,18.9 L369.4,17.8 L374.2,17.9 L374.9,16.8 L379.7,16.7 L380.5,15.7 L385.2,15.5 L386.0,14.6 L390.7,14.2 L391.5,13.3 L396.2,12.8 L397.0,12.0 L401.7,11.3 L402.5,10.6 L407.2,9.6 L408.0,9.0 L412.6,7.6 L413.4,7.1 L418.0,5.0Z" fill="#3e5e35" stroke="#689a55" stroke-width="1.1"/><path d="M412.2,3.4L418.0,5.0L412.6,7.5M406.6,2.6L413.5,5.4L407.2,9.4M400.9,1.9L408.0,5.9L401.7,11.0M395.2,1.4L402.4,6.4L396.2,12.5M389.6,1.0L396.8,6.9L390.7,13.9M383.9,0.7L391.2,7.3L385.2,15.1M378.3,0.5L385.7,7.8L379.7,16.3M372.7,0.4L380.1,8.3L374.2,17.4M367.0,0.3L374.5,8.8L368.6,18.4M361.4,0.4L368.9,9.3L363.1,19.4M355.8,0.5L363.4,9.8L357.6,20.2M350.2,0.7L357.8,10.3L352.0,21.0M344.6,0.9L352.2,10.8L346.5,21.8M339.0,1.2L346.7,11.2L340.9,22.5M333.5,1.6L341.1,11.7L335.3,23.1M327.9,2.0L335.5,12.2L329.8,23.6M322.3,2.5L329.9,12.7L324.2,24.1M316.7,3.0L324.4,13.2L318.6,24.6M311.2,3.6L318.8,13.7L313.0,25.0M305.6,4.2L313.2,14.2L307.4,25.3M300.0,4.9L307.6,14.7L301.9,25.6M294.5,5.6L302.1,15.1L296.3,25.8M288.9,6.4L296.5,15.6L290.7,26.1M283.4,7.2L290.9,16.1L285.1,26.2M277.8,8.0L285.3,16.6L279.5,26.4M272.3,8.9L279.8,17.1L273.8,26.5M266.8,9.8L274.2,17.6L268.2,26.6M261.2,10.7L268.6,18.1L262.6,26.6M255.7,11.7L263.0,18.6L257.0,26.6M250.2,12.6L257.5,19.0L251.4,26.6M244.6,13.7L251.9,19.5L245.8,26.6M239.1,14.7L246.3,20.0L240.2,26.5M233.6,15.7L240.7,20.5L234.5,26.5M228.1,16.8L235.2,21.0L228.9,26.4M222.5,17.8L229.6,21.5L223.3,26.3M217.0,18.9L224.0,22.0L217.7,26.2M211.5,20.0L218.5,22.5L212.0,26.1M206.0,21.1L212.9,22.9L206.4,26.0M200.5,22.2L207.3,23.4L200.8,25.8M194.9,23.3L201.7,23.9L195.1,25.7" fill="none" stroke="#64984f" stroke-opacity="0.35" stroke-width="1"/><path d="M418.0,5.0 L195.6,24.5" stroke="#1a2a18" stroke-opacity="0.35" stroke-width="1.2"/><path d="M418.0,5.0 L413.0,4.2 L412.0,4.0 L407.2,4.1 L406.2,3.7 L401.4,4.1 L400.5,3.6 L395.7,4.3 L394.7,3.7 L390.0,4.6 L389.0,4.0 L384.4,5.0 L383.4,4.3 L378.7,5.5 L377.7,4.8 L373.1,6.1 L372.1,5.3 L367.5,6.8 L366.4,6.0 L361.9,7.6 L360.8,6.7 L356.3,8.4 L355.3,7.5 L350.8,9.3 L349.7,8.3 L345.2,10.2 L344.2,9.3 L339.7,11.2 L338.6,10.3 L334.2,12.3 L333.1,11.4 L328.7,13.5 L327.6,12.5 L323.2,14.7 L322.1,13.7 L317.7,15.9 L316.6,15.0 L312.2,17.2 L311.1,16.3 L306.7,18.6 L305.7,17.7 L301.3,19.9 L300.2,19.1 L295.8,21.4 L294.8,20.6 L290.4,22.9 L289.4,22.1 L285.0,24.4 L283.9,23.7 L279.5,25.9 L278.5,25.2 L274.1,27.5 L273.1,26.9 L268.7,29.1 L267.7,28.5 L263.3,30.7 L262.3,30.2 L257.9,32.4 L257.0,31.9 L252.5,34.1 L251.6,33.7 L247.1,35.8 L246.2,35.4 L241.7,37.5 L240.8,37.2 L236.4,39.2 L235.5,39.0 L231.0,40.9 L230.1,40.8 L225.6,42.7 L224.7,42.6 L220.2,44.5 L219.4,44.5 L214.8,46.2 L214.0,46.3 L209.5,48.0 L208.6,48.1 L204.1,49.8 L203.3,49.9 L198.7,51.5 L197.9,51.8 L197.9,51.8 L198.8,51.7 L203.6,51.3 L204.4,51.1 L209.2,50.8 L210.0,50.5 L214.8,50.3 L215.6,50.0 L220.5,49.7 L221.3,49.4 L226.1,49.2 L226.9,48.8 L231.8,48.7 L232.5,48.2 L237.4,48.2 L238.2,47.6 L243.0,47.6 L243.8,47.0 L248.7,47.1 L249.4,46.4 L254.3,46.5 L255.0,45.8 L259.9,45.9 L260.6,45.1 L265.5,45.3 L266.2,44.4 L271.2,44.6 L271.8,43.7 L276.8,43.9 L277.4,43.0 L282.4,43.2 L283.0,42.2 L288.0,42.5 L288.6,41.4 L293.5,41.7 L294.2,40.6 L299.1,40.9 L299.7,39.7 L304.7,40.0 L305.3,38.8 L310.2,39.1 L310.8,37.9 L315.8,38.1 L316.4,36.9 L321.3,37.1 L321.9,35.8 L326.8,36.0 L327.4,34.8 L332.3,34.9 L332.9,33.6 L337.8,33.7 L338.4,32.4 L343.3,32.5 L343.9,31.2 L348.8,31.1 L349.4,29.8 L354.2,29.7 L354.8,28.5 L359.7,28.3 L360.3,27.0 L365.1,26.7 L365.7,25.5 L370.5,25.1 L371.1,23.9 L375.9,23.4 L376.5,22.2 L381.3,21.6 L381.9,20.5 L386.6,19.7 L387.3,18.7 L391.9,17.7 L392.6,16.7 L397.3,15.6 L397.9,14.7 L402.5,13.4 L403.2,12.6 L407.8,11.0 L408.5,10.3 L413.0,8.4 L413.7,7.7 L418.0,5.0Z" fill="#3b5b33" stroke="#689a55" stroke-width="1.1"/><path d="M412.1,4.1L418.0,5.0L412.9,8.3M406.3,3.9L413.6,5.9L407.7,10.8M400.5,3.9L408.1,7.1L402.5,13.1M394.8,4.0L402.6,8.3L397.2,15.3M389.1,4.3L397.1,9.4L391.9,17.4M383.4,4.7L391.6,10.6L386.5,19.3M377.8,5.2L386.1,11.8L381.2,21.2M372.2,5.8L380.6,13.0L375.8,22.9M366.5,6.4L375.1,14.1L370.4,24.6M361.0,7.2L369.6,15.3L365.0,26.2M355.4,8.0L364.1,16.5L359.6,27.7M349.8,8.9L358.6,17.6L354.1,29.2M344.3,9.8L353.1,18.8L348.7,30.6M338.7,10.8L347.6,20.0L343.2,31.9M333.2,11.9L342.1,21.1L337.7,33.2M327.7,13.1L336.6,22.3L332.2,34.3M322.2,14.3L331.1,23.5L326.7,35.5M316.7,15.5L325.6,24.6L321.2,36.6M311.3,16.9L320.1,25.8L315.7,37.6M305.8,18.2L314.6,27.0L310.1,38.6M300.3,19.6L309.1,28.2L304.6,39.5M294.9,21.1L303.6,29.3L299.0,40.4M289.5,22.6L298.1,30.5L293.4,41.2M284.0,24.1L292.6,31.7L287.9,42.0M278.6,25.7L287.1,32.8L282.3,42.8M273.2,27.3L281.5,34.0L276.7,43.5M267.8,28.9L276.0,35.2L271.1,44.2M262.4,30.6L270.5,36.3L265.5,44.9M257.0,32.3L265.0,37.5L259.8,45.5M251.6,34.0L259.5,38.7L254.2,46.2M246.3,35.7L254.0,39.9L248.6,46.8M240.9,37.5L248.5,41.0L243.0,47.4M235.5,39.2L243.0,42.2L237.4,47.9M230.1,41.0L237.5,43.4L231.7,48.5M224.8,42.8L232.0,44.5L226.1,49.1M219.4,44.6L226.5,45.7L220.5,49.6M214.0,46.4L221.0,46.9L214.8,50.2M208.7,48.2L215.5,48.0L209.2,50.7" fill="none" stroke="#64984f" stroke-opacity="0.35" stroke-width="1"/><path d="M418.0,5.0 L208.9,49.4" stroke="#1a2a18" stroke-opacity="0.35" stroke-width="1.2"/><path d="M418.0,5.0 L413.2,5.4 L412.3,5.4 L407.6,6.2 L406.7,6.2 L402.1,7.1 L401.2,7.0 L396.6,8.2 L395.6,8.0 L391.1,9.2 L390.1,9.0 L385.6,10.3 L384.6,10.1 L380.1,11.4 L379.1,11.1 L374.6,12.6 L373.7,12.3 L369.2,13.8 L368.2,13.4 L363.7,15.0 L362.7,14.6 L358.3,16.3 L357.3,15.9 L352.8,17.6 L351.8,17.1 L347.4,18.9 L346.4,18.4 L342.0,20.2 L341.0,19.8 L336.6,21.6 L335.6,21.1 L331.2,23.0 L330.2,22.5 L325.8,24.4 L324.7,23.9 L320.4,25.8 L319.4,25.3 L315.0,27.3 L314.0,26.7 L309.6,28.7 L308.6,28.2 L304.2,30.2 L303.2,29.7 L298.9,31.8 L297.8,31.2 L293.5,33.3 L292.5,32.8 L288.1,34.8 L287.1,34.3 L282.8,36.4 L281.8,35.9 L277.4,38.0 L276.4,37.5 L272.1,39.6 L271.1,39.1 L266.7,41.2 L265.7,40.7 L261.4,42.8 L260.4,42.4 L256.1,44.5 L255.1,44.0 L250.8,46.2 L249.8,45.7 L245.4,47.8 L244.4,47.4 L240.1,49.5 L239.1,49.1 L234.8,51.2 L233.8,50.8 L229.5,52.9 L228.5,52.6 L224.2,54.7 L223.2,54.3 L218.9,56.4 L217.9,56.1 L213.6,58.1 L212.6,57.8 L208.3,59.9 L207.3,59.6 L203.0,61.7 L202.0,61.4 L197.7,63.4 L196.7,63.2 L192.4,65.2 L191.5,65.0 L187.1,67.0 L186.2,66.8 L181.8,68.8 L180.9,68.7 L176.5,70.6 L175.6,70.5 L171.2,72.4 L170.3,72.3 L165.9,74.2 L165.1,74.1 L160.6,76.0 L159.8,76.0 L155.4,77.8 L154.5,77.8 L150.1,79.6 L149.2,79.7 L144.8,81.4 L144.0,81.5 L139.5,83.3 L138.7,83.4 L134.2,85.1 L133.4,85.2 L129.0,86.9 L128.1,87.1 L123.7,88.7 L122.9,88.9 L118.4,90.6 L117.6,90.8 L113.1,92.4 L112.3,92.7 L112.3,92.7 L113.1,92.5 L117.8,91.4 L118.6,91.2 L123.2,90.2 L124.0,90.0 L128.7,89.0 L129.5,88.7 L134.1,87.8 L134.9,87.5 L139.6,86.5 L140.4,86.2 L145.0,85.3 L145.8,84.9 L150.5,84.1 L151.2,83.7 L155.9,82.9 L156.7,82.4 L161.4,81.6 L162.1,81.2 L166.8,80.4 L167.6,79.9 L172.3,79.2 L173.0,78.6 L177.7,77.9 L178.4,77.4 L183.2,76.7 L183.9,76.1 L188.6,75.4 L189.3,74.8 L194.1,74.2 L194.8,73.5 L199.5,72.9 L200.2,72.2 L204.9,71.6 L205.6,70.9 L210.4,70.3 L211.0,69.6 L215.8,69.0 L216.5,68.3 L221.2,67.7 L221.9,66.9 L226.7,66.4 L227.3,65.6 L232.1,65.1 L232.7,64.2 L237.5,63.7 L238.1,62.9 L242.9,62.4 L243.5,61.5 L248.3,61.0 L249.0,60.1 L253.7,59.6 L254.4,58.7 L259.2,58.2 L259.8,57.3 L264.5,56.8 L265.2,55.9 L269.9,55.4 L270.5,54.4 L275.3,53.9 L275.9,53.0 L280.7,52.5 L281.3,51.5 L286.1,51.0 L286.7,50.0 L291.5,49.5 L292.1,48.5 L296.8,48.0 L297.4,47.0 L302.2,46.4 L302.8,45.4 L307.6,44.9 L308.1,43.9 L312.9,43.3 L313.5,42.3 L318.2,41.7 L318.8,40.7 L323.6,40.1 L324.2,39.1 L328.9,38.4 L329.5,37.4 L334.2,36.7 L334.8,35.8 L339.6,35.0 L340.2,34.1 L344.9,33.3 L345.5,32.4 L350.2,31.5 L350.8,30.6 L355.5,29.8 L356.1,28.9 L360.7,27.9 L361.4,27.1 L366.0,26.1 L366.6,25.3 L371.3,24.2 L371.9,23.4 L376.5,22.3 L377.2,21.5 L381.8,20.4 L382.4,19.6 L387.0,18.4 L387.7,17.7 L392.2,16.4 L392.9,15.7 L397.5,14.3 L398.1,13.7 L402.7,12.2 L403.4,11.6 L407.8,10.0 L408.5,9.5 L413.0,7.7 L413.7,7.2 L418.0,5.0Z" fill="#44663b" stroke="#689a55" stroke-width="1.1"/><path d="M412.3,5.4L418.0,5.0L413.0,7.6M406.8,6.3L413.7,6.2L407.8,9.9M401.2,7.2L408.3,7.8L402.6,12.1M395.7,8.1L403.0,9.3L397.4,14.2M390.2,9.2L397.6,10.8L392.2,16.2M384.7,10.3L392.3,12.4L387.0,18.2M379.2,11.4L386.9,13.9L381.7,20.2M373.7,12.5L381.5,15.5L376.5,22.1M368.3,13.7L376.2,17.0L371.2,24.0M362.8,14.9L370.8,18.5L365.9,25.8M357.4,16.2L365.4,20.1L360.7,27.6M351.9,17.5L360.1,21.6L355.4,29.4M346.5,18.8L354.7,23.1L350.1,31.2M341.1,20.1L349.4,24.7L344.8,33.0M335.7,21.5L344.0,26.2L339.5,34.7M330.3,22.8L338.6,27.8L334.1,36.4M324.9,24.2L333.3,29.3L328.8,38.0M319.5,25.7L327.9,30.8L323.5,39.7M314.1,27.1L322.5,32.4L318.1,41.3M308.7,28.6L317.2,33.9L312.8,42.9M303.3,30.1L311.8,35.4L307.4,44.5M297.9,31.6L306.5,37.0L302.1,46.1M292.6,33.1L301.1,38.5L296.7,47.6M287.2,34.7L295.7,40.1L291.4,49.1M281.9,36.3L290.4,41.6L286.0,50.6M276.5,37.9L285.0,43.1L280.6,52.1M271.2,39.5L279.6,44.7L275.2,53.6M265.8,41.1L274.3,46.2L269.8,55.0M260.5,42.7L268.9,47.7L264.4,56.5M255.2,44.4L263.6,49.3L259.0,57.9M249.9,46.1L258.2,50.8L253.6,59.3M244.5,47.7L252.8,52.4L248.2,60.7M239.2,49.4L247.5,53.9L242.8,62.0M233.9,51.2L242.1,55.4L237.4,63.4M228.6,52.9L236.7,57.0L232.0,64.8M223.3,54.6L231.4,58.5L226.6,66.1M218.0,56.4L226.0,60.1L221.2,67.4M212.7,58.1L220.6,61.6L215.7,68.7M207.4,59.9L215.3,63.1L210.3,70.0M202.1,61.7L209.9,64.7L204.9,71.3M196.8,63.5L204.6,66.2L199.4,72.6M191.5,65.2L199.2,67.7L194.0,73.9M186.2,67.0L193.8,69.3L188.6,75.2M180.9,68.9L188.5,70.8L183.1,76.5M175.7,70.7L183.1,72.4L177.7,77.7M170.4,72.5L177.7,73.9L172.2,79.0M165.1,74.3L172.4,75.4L166.8,80.2M159.8,76.1L167.0,77.0L161.4,81.5M154.5,78.0L161.7,78.5L155.9,82.7M149.3,79.8L156.3,80.0L150.5,84.0M144.0,81.6L150.9,81.6L145.0,85.2M138.7,83.5L145.6,83.1L139.6,86.5M133.4,85.3L140.2,84.7L134.1,87.7M128.1,87.1L134.8,86.2L128.7,88.9M122.9,89.0L129.5,87.7L123.2,90.2" fill="none" stroke="#64984f" stroke-opacity="0.35" stroke-width="1"/><path d="M418.0,5.0 L127.6,88.3" stroke="#1a2a18" stroke-opacity="0.35" stroke-width="1.2"/><path d="M418.0,5.0 L413.0,5.2 L412.0,5.1 L407.3,6.1 L406.3,5.9 L401.8,7.2 L400.7,7.0 L396.2,8.5 L395.2,8.1 L390.8,9.8 L389.7,9.4 L385.4,11.3 L384.2,10.8 L380.0,12.8 L378.8,12.2 L374.6,14.4 L373.4,13.8 L369.3,16.0 L368.1,15.4 L364.0,17.8 L362.8,17.1 L358.7,19.5 L357.5,18.8 L353.4,21.4 L352.2,20.6 L348.2,23.3 L347.0,22.5 L343.0,25.2 L341.8,24.4 L337.8,27.2 L336.6,26.4 L332.7,29.3 L331.4,28.5 L327.5,31.4 L326.3,30.6 L322.4,33.5 L321.1,32.7 L317.3,35.7 L316.0,34.9 L312.2,38.0 L311.0,37.2 L307.1,40.2 L305.9,39.5 L302.1,42.6 L300.8,41.8 L297.0,44.9 L295.8,44.2 L292.0,47.3 L290.8,46.6 L287.0,49.7 L285.8,49.1 L282.0,52.2 L280.8,51.5 L277.0,54.6 L275.9,54.1 L272.1,57.2 L270.9,56.6 L267.1,59.7 L266.0,59.2 L262.1,62.2 L261.1,61.8 L257.2,64.8 L256.1,64.4 L252.3,67.4 L251.2,67.1 L247.3,70.0 L246.3,69.8 L242.4,72.7 L241.4,72.4 L237.5,75.3 L236.5,75.1 L232.6,78.0 L231.7,77.9 L227.7,80.7 L226.8,80.6 L222.8,83.4 L221.9,83.3 L217.9,86.0 L217.0,86.1 L213.0,88.7 L212.2,88.9 L208.2,91.4 L207.3,91.6 L203.3,94.2 L202.5,94.4 L198.4,96.9 L197.6,97.1 L193.5,99.6 L192.7,99.9 L188.6,102.3 L187.9,102.7 L187.9,102.7 L188.7,102.4 L193.2,101.1 L194.0,100.8 L198.6,99.5 L199.4,99.2 L204.0,98.0 L204.7,97.5 L209.3,96.4 L210.0,95.9 L214.7,94.8 L215.4,94.3 L220.1,93.2 L220.7,92.6 L225.4,91.6 L226.1,91.0 L230.8,90.0 L231.4,89.3 L236.1,88.4 L236.7,87.6 L241.5,86.8 L242.0,86.0 L246.8,85.2 L247.4,84.3 L252.2,83.5 L252.7,82.6 L257.5,81.8 L258.0,80.8 L262.8,80.2 L263.3,79.1 L268.1,78.4 L268.6,77.3 L273.4,76.7 L273.8,75.6 L278.7,74.9 L279.1,73.8 L284.0,73.2 L284.4,71.9 L289.2,71.3 L289.6,70.1 L294.5,69.5 L294.8,68.2 L299.7,67.6 L300.1,66.2 L304.9,65.7 L305.3,64.3 L310.1,63.7 L310.5,62.3 L315.3,61.7 L315.6,60.3 L320.5,59.6 L320.8,58.2 L325.6,57.6 L325.9,56.1 L330.8,55.4 L331.0,54.0 L335.9,53.2 L336.2,51.8 L341.0,51.0 L341.2,49.5 L346.0,48.7 L346.3,47.2 L351.1,46.3 L351.3,44.9 L356.1,43.9 L356.4,42.5 L361.1,41.5 L361.4,40.1 L366.0,38.9 L366.3,37.6 L371.0,36.4 L371.3,35.0 L375.9,33.7 L376.2,32.4 L380.7,31.0 L381.1,29.7 L385.6,28.2 L386.0,26.9 L390.4,25.3 L390.8,24.1 L395.2,22.3 L395.6,21.2 L399.9,19.2 L400.4,18.2 L404.6,16.1 L405.1,15.1 L409.2,12.7 L409.8,11.9 L413.8,9.2 L414.3,8.5 L418.0,5.0Z" fill="#35562e" stroke="#689a55" stroke-width="1.1"/><path d="M412.1,5.2L418.0,5.0L413.7,9.1M406.4,6.1L413.9,6.7L409.1,12.6M400.8,7.2L408.8,8.9L404.5,15.8M395.3,8.4L403.7,11.1L399.8,19.0M389.8,9.7L398.6,13.2L395.0,22.0M384.4,11.1L393.5,15.4L390.2,24.9M379.0,12.6L388.3,17.6L385.4,27.8M373.6,14.2L383.2,19.8L380.6,30.5M368.3,15.8L378.1,21.9L375.7,33.2M363.0,17.5L373.0,24.1L370.7,35.9M357.7,19.3L367.9,26.3L365.8,38.4M352.4,21.1L362.8,28.4L360.8,41.0M347.2,23.0L357.7,30.6L355.8,43.4M342.0,25.0L352.5,32.8L350.8,45.8M336.8,27.0L347.4,35.0L345.8,48.1M331.6,29.0L342.3,37.1L340.7,50.4M326.5,31.1L337.2,39.3L335.6,52.7M321.4,33.3L332.1,41.5L330.5,54.8M316.3,35.5L327.0,43.6L325.4,57.0M311.2,37.7L321.9,45.8L320.3,59.1M306.1,40.0L316.7,48.0L315.1,61.1M301.1,42.4L311.6,50.2L309.9,63.2M296.1,44.7L306.5,52.3L304.7,65.1M291.0,47.1L301.4,54.5L299.5,67.1M286.0,49.6L296.3,56.7L294.3,69.0M281.0,52.0L291.2,58.8L289.0,70.8M276.1,54.5L286.1,61.0L283.8,72.7M271.1,57.1L280.9,63.2L278.5,74.5M266.2,59.6L275.8,65.3L273.2,76.3M261.2,62.2L270.7,67.5L267.9,78.0M256.3,64.8L265.6,69.7L262.6,79.8M251.4,67.5L260.5,71.9L257.3,81.5M246.5,70.1L255.4,74.0L252.0,83.2M241.6,72.8L250.3,76.2L246.7,84.8M236.7,75.4L245.1,78.4L241.4,86.5M231.8,78.1L240.0,80.5L236.0,88.2M226.9,80.8L234.9,82.7L230.7,89.8M222.0,83.6L229.8,84.9L225.3,91.4M217.1,86.3L224.7,87.1L220.0,93.0M212.2,89.0L219.6,89.2L214.6,94.7M207.4,91.7L214.5,91.4L209.3,96.3M202.5,94.5L209.4,93.6L203.9,97.9M197.6,97.2L204.2,95.7L198.6,99.5" fill="none" stroke="#64984f" stroke-opacity="0.35" stroke-width="1"/><path d="M418.0,5.0 L199.4,97.8" stroke="#1a2a18" stroke-opacity="0.35" stroke-width="1.2"/><path d="M418.0,5.0 L413.0,5.9 L412.1,6.0 L407.6,7.7 L406.6,7.6 L402.3,9.6 L401.2,9.5 L397.1,11.7 L396.0,11.5 L392.0,13.9 L390.8,13.6 L386.9,16.2 L385.7,15.9 L381.9,18.6 L380.7,18.2 L377.0,21.1 L375.7,20.6 L372.1,23.6 L370.7,23.1 L367.2,26.2 L365.9,25.7 L362.4,28.9 L361.0,28.3 L357.6,31.6 L356.2,31.1 L352.8,34.4 L351.5,33.9 L348.1,37.3 L346.8,36.7 L343.5,40.2 L342.1,39.6 L338.8,43.2 L337.5,42.6 L334.3,46.2 L332.9,45.6 L329.7,49.3 L328.3,48.7 L325.2,52.4 L323.8,51.8 L320.6,55.5 L319.3,55.0 L316.2,58.7 L314.9,58.3 L311.7,62.0 L310.4,61.5 L307.3,65.3 L306.0,64.8 L302.9,68.6 L301.6,68.2 L298.5,71.9 L297.3,71.6 L294.1,75.3 L293.0,75.0 L289.8,78.7 L288.6,78.5 L285.4,82.1 L284.3,81.9 L281.1,85.6 L280.0,85.4 L276.8,89.0 L275.8,88.9 L272.5,92.5 L271.5,92.5 L268.2,96.0 L267.3,96.0 L263.9,99.5 L263.0,99.6 L259.7,103.0 L258.8,103.2 L255.4,106.6 L254.6,106.8 L251.2,110.1 L250.4,110.4 L246.9,113.7 L246.1,114.0 L242.6,117.2 L241.9,117.6 L238.4,120.7 L237.7,121.2 L234.1,124.3 L233.5,124.8 L233.5,124.8 L234.2,124.5 L238.5,122.4 L239.2,122.0 L243.5,120.1 L244.2,119.6 L248.5,117.7 L249.1,117.1 L253.5,115.3 L254.1,114.7 L258.5,112.9 L259.1,112.2 L263.5,110.5 L264.0,109.8 L268.5,108.1 L269.0,107.3 L273.5,105.7 L273.9,104.8 L278.5,103.2 L278.9,102.3 L283.5,100.8 L283.8,99.8 L288.4,98.3 L288.7,97.3 L293.4,95.8 L293.6,94.7 L298.3,93.3 L298.5,92.2 L303.2,90.8 L303.4,89.6 L308.1,88.2 L308.3,87.0 L312.9,85.6 L313.1,84.3 L317.8,82.9 L317.9,81.6 L322.6,80.3 L322.7,78.9 L327.4,77.6 L327.5,76.2 L332.2,74.8 L332.2,73.4 L336.9,72.0 L336.9,70.5 L341.6,69.1 L341.6,67.7 L346.3,66.2 L346.3,64.7 L350.9,63.3 L350.9,61.8 L355.5,60.2 L355.5,58.8 L360.1,57.2 L360.1,55.7 L364.6,54.0 L364.6,52.5 L369.1,50.8 L369.1,49.4 L373.5,47.6 L373.5,46.1 L377.9,44.2 L377.9,42.8 L382.2,40.8 L382.3,39.4 L386.5,37.3 L386.6,35.9 L390.8,33.7 L390.9,32.4 L394.9,30.1 L395.1,28.8 L399.1,26.3 L399.3,25.1 L403.1,22.5 L403.4,21.3 L407.1,18.5 L407.4,17.4 L411.0,14.4 L411.3,13.4 L414.7,10.0 L415.1,9.2 L418.0,5.0Z" fill="#3a5b32" stroke="#689a55" stroke-width="1.1"/><path d="M412.1,6.1L418.0,5.0L414.6,9.9M406.7,7.8L414.3,7.4L410.9,14.2M401.4,9.7L409.7,10.4L406.9,18.3M396.2,11.8L405.1,13.4L402.9,22.2M391.0,14.0L400.5,16.4L398.8,26.0M385.9,16.2L395.9,19.4L394.7,29.7M380.9,18.6L391.2,22.4L390.5,33.3M376.0,21.0L386.6,25.4L386.2,36.9M371.0,23.6L382.0,28.4L381.9,40.4M366.2,26.2L377.4,31.4L377.6,43.8M361.3,28.8L372.8,34.4L373.2,47.1M356.6,31.6L368.2,37.4L368.7,50.3M351.8,34.4L363.6,40.3L364.3,53.5M347.1,37.2L359.0,43.3L359.7,56.7M342.4,40.1L354.3,46.3L355.2,59.7M337.8,43.1L349.7,49.3L350.6,62.7M333.2,46.1L345.1,52.3L345.9,65.7M328.7,49.2L340.5,55.3L341.3,68.6M324.1,52.4L335.9,58.3L336.6,71.5M319.7,55.5L331.3,61.3L331.8,74.3M315.2,58.7L326.7,64.3L327.1,77.1M310.7,62.0L322.1,67.3L322.3,79.8M306.3,65.3L317.4,70.3L317.5,82.5M301.9,68.6L312.8,73.3L312.7,85.2M297.6,72.0L308.2,76.3L307.8,87.8M293.2,75.4L303.6,79.3L302.9,90.4M288.9,78.8L299.0,82.3L298.0,92.9M284.6,82.3L294.4,85.3L293.1,95.5M280.3,85.7L289.8,88.3L288.2,98.0M276.0,89.2L285.2,91.3L283.3,100.5M271.7,92.8L280.5,94.3L278.3,103.0M267.4,96.3L275.9,97.3L273.4,105.4M263.2,99.8L271.3,100.3L268.4,107.9M258.9,103.4L266.7,103.3L263.4,110.3M254.7,106.9L262.1,106.2L258.4,112.7M250.4,110.5L257.5,109.2L253.5,115.2M246.2,114.1L252.9,112.2L248.5,117.6M242.0,117.7L248.3,115.2L243.5,120.0" fill="none" stroke="#64984f" stroke-opacity="0.35" stroke-width="1"/><path d="M418.0,5.0 L242.7,118.8" stroke="#1a2a18" stroke-opacity="0.35" stroke-width="1.2"/><path d="M418.0,5.0 L413.2,6.8 L412.2,7.0 L408.0,9.5 L407.0,9.6 L403.1,12.4 L402.0,12.4 L398.3,15.4 L397.1,15.4 L393.7,18.6 L392.4,18.5 L389.1,21.8 L387.8,21.7 L384.6,25.2 L383.2,25.0 L380.1,28.6 L378.8,28.3 L375.8,32.1 L374.4,31.8 L371.5,35.6 L370.1,35.3 L367.3,39.2 L365.8,38.9 L363.1,42.9 L361.6,42.6 L359.0,46.7 L357.5,46.4 L355.0,50.5 L353.5,50.2 L351.0,54.3 L349.5,54.0 L347.0,58.3 L345.6,58.0 L343.1,62.2 L341.7,62.0 L339.3,66.2 L337.9,66.0 L335.5,70.3 L334.1,70.1 L331.7,74.4 L330.4,74.2 L328.0,78.5 L326.7,78.4 L324.3,82.7 L323.0,82.6 L320.6,86.9 L319.4,86.8 L317.0,91.1 L315.8,91.1 L313.4,95.4 L312.2,95.4 L309.8,99.7 L308.7,99.8 L306.2,104.0 L305.2,104.1 L302.7,108.3 L301.7,108.5 L299.1,112.7 L298.2,112.9 L295.6,117.0 L294.8,117.3 L292.1,121.4 L291.3,121.7 L288.6,125.7 L287.9,126.2 L285.1,130.1 L284.4,130.6 L281.6,134.5 L281.0,135.0 L278.1,138.9 L277.6,139.5 L274.7,143.3 L274.1,143.9 L274.1,143.9 L274.8,143.4 L278.7,140.7 L279.3,140.1 L283.2,137.4 L283.8,136.8 L287.8,134.1 L288.3,133.4 L292.4,130.8 L292.8,130.1 L296.9,127.5 L297.3,126.7 L301.5,124.2 L301.8,123.4 L306.0,120.9 L306.3,120.0 L310.5,117.6 L310.7,116.6 L315.0,114.3 L315.2,113.3 L319.5,110.9 L319.6,109.8 L323.9,107.5 L324.0,106.4 L328.4,104.1 L328.4,103.0 L332.8,100.7 L332.8,99.5 L337.1,97.2 L337.1,96.0 L341.5,93.7 L341.4,92.4 L345.8,90.2 L345.6,88.8 L350.0,86.6 L349.9,85.2 L354.2,82.9 L354.1,81.5 L358.4,79.3 L358.2,77.8 L362.5,75.5 L362.3,74.1 L366.6,71.7 L366.3,70.3 L370.6,67.9 L370.3,66.4 L374.6,64.0 L374.3,62.5 L378.4,60.0 L378.2,58.5 L382.3,56.0 L382.0,54.5 L386.0,51.9 L385.8,50.4 L389.7,47.7 L389.5,46.3 L393.3,43.4 L393.1,42.0 L396.8,39.1 L396.7,37.7 L400.3,34.6 L400.2,33.3 L403.6,30.1 L403.6,28.8 L406.9,25.5 L406.9,24.3 L410.0,20.7 L410.1,19.6 L413.0,15.8 L413.2,14.8 L415.8,10.7 L416.1,9.8 L418.0,5.0Z" fill="#3c5d33" stroke="#689a55" stroke-width="1.1"/><path d="M412.3,7.1L418.0,5.0L415.7,10.6M407.1,9.8L414.8,8.1L412.9,15.7M402.2,12.6L410.8,11.9L409.8,20.5M397.4,15.7L406.8,15.8L406.6,25.2M392.7,18.8L402.8,19.7L403.3,29.8M388.1,22.0L398.8,23.5L400.0,34.3M383.6,25.3L394.8,27.4L396.5,38.7M379.1,28.7L390.8,31.2L392.9,43.0M374.7,32.2L386.8,35.1L389.3,47.3M370.5,35.7L382.8,39.0L385.6,51.4M366.2,39.4L378.8,42.8L381.9,55.5M362.1,43.0L374.8,46.7L378.0,59.6M358.0,46.8L370.8,50.5L374.1,63.5M353.9,50.6L366.8,54.4L370.2,67.4M349.9,54.5L362.9,58.3L366.2,71.3M346.0,58.4L358.9,62.1L362.1,75.1M342.1,62.4L354.9,66.0L358.0,78.8M338.3,66.4L350.9,69.8L353.8,82.5M334.5,70.5L346.9,73.7L349.6,86.2M330.8,74.6L342.9,77.6L345.4,89.8M327.0,78.8L338.9,81.4L341.1,93.3M323.4,83.0L334.9,85.3L336.8,96.8M319.7,87.2L330.9,89.1L332.4,100.3M316.1,91.4L326.9,93.0L328.1,103.8M312.5,95.7L322.9,96.8L323.6,107.2M309.0,100.0L318.9,100.7L319.2,110.6M305.4,104.4L314.9,104.6L314.8,114.0M301.9,108.7L310.9,108.4L310.3,117.4M298.4,113.1L306.9,112.3L305.8,120.7M294.9,117.5L302.9,116.1L301.3,124.1M291.5,121.9L298.9,120.0L296.8,127.4M288.0,126.3L294.9,123.9L292.3,130.7M284.5,130.7L290.9,127.7L287.7,134.0M281.1,135.1L286.9,131.6L283.2,137.3" fill="none" stroke="#64984f" stroke-opacity="0.35" stroke-width="1"/><path d="M418.0,5.0 L281.3,137.0" stroke="#1a2a18" stroke-opacity="0.35" stroke-width="1.2"/><path d="M418.0,5.0 L413.5,7.7 L412.6,8.1 L408.9,11.4 L407.9,11.7 L404.7,15.3 L403.5,15.5 L400.5,19.3 L399.3,19.4 L396.6,23.3 L395.3,23.5 L392.7,27.5 L391.4,27.6 L389.0,31.7 L387.6,31.8 L385.3,36.0 L383.9,36.1 L381.8,40.4 L380.3,40.4 L378.3,44.9 L376.9,44.9 L375.0,49.4 L373.5,49.4 L371.7,53.9 L370.2,53.9 L368.5,58.5 L367.0,58.5 L365.4,63.2 L363.9,63.2 L362.4,67.9 L360.9,67.9 L359.4,72.6 L358.0,72.7 L356.5,77.4 L355.1,77.5 L353.6,82.3 L352.3,82.4 L350.8,87.1 L349.5,87.3 L348.1,92.1 L346.8,92.2 L345.4,97.0 L344.1,97.2 L342.7,102.0 L341.5,102.2 L340.1,106.9 L339.0,107.2 L337.5,112.0 L336.4,112.3 L334.9,117.0 L333.9,117.4 L332.4,122.0 L331.5,122.4 L329.8,127.1 L329.0,127.6 L327.3,132.2 L326.6,132.7 L324.8,137.2 L324.2,137.8 L322.3,142.3 L321.8,142.9 L319.9,147.4 L319.4,148.1 L317.4,152.5 L317.0,153.2 L314.9,157.6 L314.5,158.4 L314.5,158.4 L315.1,157.7 L318.4,154.2 L318.9,153.5 L322.3,150.1 L322.7,149.3 L326.2,145.9 L326.5,145.1 L330.0,141.8 L330.3,140.9 L333.9,137.6 L334.1,136.7 L337.7,133.4 L337.8,132.5 L341.5,129.2 L341.6,128.3 L345.3,125.0 L345.3,124.0 L349.1,120.8 L349.0,119.7 L352.8,116.6 L352.7,115.5 L356.5,112.3 L356.3,111.1 L360.2,108.0 L359.9,106.8 L363.8,103.7 L363.5,102.5 L367.4,99.3 L367.0,98.1 L370.9,94.9 L370.5,93.6 L374.3,90.5 L373.9,89.2 L377.7,86.0 L377.2,84.7 L381.0,81.5 L380.5,80.1 L384.3,76.9 L383.8,75.6 L387.5,72.3 L386.9,70.9 L390.5,67.6 L390.0,66.2 L393.5,62.9 L393.0,61.5 L396.4,58.1 L395.9,56.7 L399.3,53.2 L398.7,51.8 L402.0,48.3 L401.5,46.9 L404.5,43.3 L404.1,41.9 L407.0,38.2 L406.6,36.9 L409.4,33.0 L409.0,31.7 L411.6,27.7 L411.3,26.5 L413.7,22.4 L413.5,21.2 L415.6,16.9 L415.5,15.8 L417.2,11.2 L417.2,10.2 L418.0,5.0Z" fill="#385830" stroke="#689a55" stroke-width="1.1"/><path d="M412.7,8.2L418.0,5.0L417.1,11.1M408.1,11.8L415.5,8.7L415.4,16.7M403.8,15.7L412.4,13.4L413.4,22.2M399.6,19.7L409.2,18.0L411.3,27.5M395.6,23.7L406.1,22.7L409.0,32.8M391.7,27.9L403.0,27.3L406.6,37.9M388.0,32.1L399.8,32.0L404.1,43.0M384.3,36.4L396.7,36.6L401.5,48.0M380.8,40.8L393.5,41.3L398.8,52.9M377.3,45.2L390.4,45.9L396.0,57.8M374.0,49.7L387.3,50.5L393.0,62.5M370.7,54.3L384.1,55.2L390.0,67.3M367.5,58.9L381.0,59.8L386.9,72.0M364.4,63.5L377.9,64.5L383.8,76.6M361.4,68.3L374.7,69.1L380.5,81.2M358.5,73.0L371.6,73.8L377.2,85.7M355.6,77.8L368.5,78.4L373.9,90.2M352.7,82.7L365.3,83.1L370.4,94.6M349.9,87.6L362.2,87.7L366.9,99.0M347.2,92.5L359.1,92.4L363.4,103.4M344.5,97.5L355.9,97.0L359.8,107.7M341.9,102.4L352.8,101.7L356.2,112.0M339.3,107.5L349.7,106.3L352.5,116.3M336.8,112.5L346.5,111.0L348.8,120.6M334.2,117.5L343.4,115.6L345.0,124.8M331.7,122.6L340.3,120.3L341.3,129.1M329.2,127.7L337.1,124.9L337.5,133.3M326.8,132.8L334.0,129.6L333.7,137.5M324.3,137.9L330.9,134.2L329.9,141.7M321.9,143.0L327.7,138.9L326.0,145.8M319.4,148.1L324.6,143.5L322.2,150.0" fill="none" stroke="#64984f" stroke-opacity="0.35" stroke-width="1"/><path d="M418.0,5.0 L319.7,150.7" stroke="#1a2a18" stroke-opacity="0.35" stroke-width="1.2"/><path d="M418.0,5.0 L414.0,8.6 L413.2,9.2 L410.3,13.3 L409.3,13.8 L406.9,18.0 L405.8,18.5 L403.7,22.9 L402.5,23.3 L400.7,27.8 L399.4,28.2 L397.9,32.8 L396.5,33.2 L395.2,37.8 L393.8,38.2 L392.6,42.9 L391.2,43.3 L390.2,48.0 L388.7,48.4 L387.9,53.2 L386.4,53.6 L385.7,58.4 L384.2,58.8 L383.6,63.7 L382.1,64.1 L381.6,69.0 L380.2,69.4 L379.7,74.4 L378.3,74.7 L377.9,79.7 L376.5,80.1 L376.2,85.2 L374.9,85.6 L374.5,90.6 L373.3,91.0 L373.0,96.1 L371.8,96.5 L371.5,101.5 L370.3,102.0 L370.0,107.1 L368.9,107.6 L368.6,112.6 L367.6,113.1 L367.2,118.1 L366.3,118.7 L365.9,123.7 L365.1,124.3 L364.6,129.3 L363.9,129.9 L363.4,134.9 L362.7,135.5 L362.1,140.5 L361.6,141.2 L360.9,146.1 L360.5,146.8 L359.7,151.7 L359.3,152.4 L358.5,157.3 L358.2,158.1 L357.3,162.9 L357.1,163.7 L357.1,163.7 L357.5,163.0 L360.0,158.8 L360.4,158.0 L363.0,153.8 L363.2,153.0 L365.9,148.9 L366.0,148.0 L368.8,143.9 L368.9,143.0 L371.7,139.0 L371.7,138.1 L374.6,134.0 L374.5,133.1 L377.5,129.1 L377.3,128.1 L380.3,124.1 L380.0,123.0 L383.1,119.1 L382.7,118.0 L385.8,114.0 L385.4,113.0 L388.5,109.0 L388.0,107.9 L391.1,103.9 L390.5,102.8 L393.7,98.8 L393.0,97.7 L396.1,93.7 L395.4,92.5 L398.5,88.6 L397.8,87.4 L400.8,83.4 L400.0,82.2 L403.0,78.2 L402.2,76.9 L405.1,72.9 L404.3,71.7 L407.1,67.6 L406.3,66.4 L409.0,62.2 L408.1,61.0 L410.7,56.8 L409.9,55.6 L412.3,51.4 L411.5,50.2 L413.8,45.9 L413.0,44.7 L415.1,40.3 L414.4,39.1 L416.3,34.7 L415.6,33.5 L417.2,29.0 L416.6,27.8 L418.0,23.2 L417.5,22.1 L418.5,17.3 L418.2,16.3 L418.8,11.4 L418.5,10.4 L418.0,5.0Z" fill="#3e5f35" stroke="#689a55" stroke-width="1.1"/><path d="M413.3,9.3L418.0,5.0L418.6,11.3M409.6,13.9L416.4,9.2L418.3,17.3M406.1,18.6L414.3,14.5L417.7,23.1M402.9,23.5L412.3,19.8L416.9,28.8M399.9,28.4L410.3,25.1L415.8,34.5M397.0,33.4L408.3,30.4L414.6,40.1M394.3,38.4L406.2,35.7L413.3,45.7M391.7,43.5L404.2,41.0L411.8,51.2M389.3,48.6L402.2,46.3L410.2,56.6M387.0,53.8L400.1,51.6L408.4,62.0M384.8,59.0L398.1,56.8L406.5,67.4M382.7,64.3L396.1,62.1L404.6,72.7M380.7,69.6L394.0,67.4L402.5,77.9M378.9,75.0L392.0,72.7L400.3,83.2M377.1,80.3L390.0,78.0L398.0,88.4M375.4,85.8L387.9,83.3L395.6,93.5M373.8,91.2L385.9,88.6L393.2,98.7M372.3,96.7L383.9,93.9L390.6,103.8M370.8,102.2L381.9,99.2L388.1,108.8M369.4,107.7L379.8,104.5L385.4,113.9M368.0,113.3L377.8,109.7L382.7,118.9M366.7,118.8L375.8,115.0L380.0,123.9M365.4,124.4L373.7,120.3L377.2,128.9M364.2,130.0L371.7,125.6L374.3,133.9M363.0,135.6L369.7,130.9L371.5,138.9M361.8,141.2L367.6,136.2L368.6,143.9M360.6,146.8L365.6,141.5L365.8,148.8M359.4,152.5L363.6,146.8L362.9,153.8" fill="none" stroke="#64984f" stroke-opacity="0.35" stroke-width="1"/><path d="M418.0,5.0 L360.1,155.8" stroke="#1a2a18" stroke-opacity="0.35" stroke-width="1.2"/><path d="M418.0,5.0 L414.9,9.3 L414.2,10.0 L412.3,14.5 L411.5,15.2 L410.1,19.8 L409.1,20.5 L408.0,25.1 L407.0,25.7 L406.2,30.4 L405.1,31.0 L404.6,35.7 L403.4,36.4 L403.1,41.1 L401.9,41.7 L401.8,46.5 L400.5,47.1 L400.7,51.9 L399.3,52.5 L399.6,57.3 L398.3,57.9 L398.7,62.7 L397.4,63.4 L397.9,68.2 L396.6,68.9 L397.3,73.7 L396.0,74.3 L396.7,79.2 L395.4,79.8 L396.2,84.7 L395.0,85.3 L395.8,90.2 L394.7,90.9 L395.5,95.7 L394.4,96.4 L395.3,101.3 L394.3,102.0 L395.2,106.8 L394.2,107.5 L395.1,112.4 L394.2,113.1 L395.0,117.9 L394.2,118.7 L395.0,123.5 L394.3,124.2 L395.1,129.1 L394.5,129.8 L395.1,134.7 L394.6,135.4 L395.2,140.2 L394.8,141.0 L395.3,145.8 L395.1,146.6 L395.5,151.4 L395.3,152.2 L395.6,157.0 L395.5,157.8 L395.7,162.6 L395.7,163.4 L395.7,163.4 L396.0,162.6 L397.5,158.1 L397.6,157.3 L399.3,152.8 L399.3,152.0 L401.0,147.5 L401.0,146.6 L402.8,142.1 L402.6,141.3 L404.5,136.8 L404.2,135.9 L406.2,131.5 L405.9,130.6 L407.9,126.1 L407.4,125.3 L409.5,120.8 L409.0,119.9 L411.1,115.5 L410.5,114.5 L412.6,110.1 L411.9,109.2 L414.1,104.7 L413.3,103.8 L415.4,99.4 L414.6,98.4 L416.8,94.0 L415.8,93.0 L418.0,88.6 L417.0,87.6 L419.1,83.2 L418.0,82.2 L420.1,77.7 L419.0,76.7 L421.0,72.3 L419.9,71.3 L421.7,66.8 L420.6,65.8 L422.4,61.3 L421.3,60.3 L422.9,55.8 L421.8,54.8 L423.2,50.3 L422.1,49.3 L423.4,44.8 L422.3,43.8 L423.4,39.2 L422.4,38.2 L423.3,33.6 L422.3,32.6 L422.9,28.0 L422.0,27.0 L422.3,22.3 L421.6,21.4 L421.5,16.6 L420.8,15.7 L420.3,10.9 L419.8,10.0 L418.0,5.0Z" fill="#385830" stroke="#689a55" stroke-width="1.1"/><path d="M414.3,10.1L418.0,5.0L420.1,10.9M411.7,15.3L417.4,9.4L421.2,16.6M409.4,20.5L416.6,14.8L422.0,22.3M407.4,25.8L415.9,20.3L422.5,27.9M405.5,31.1L415.1,25.8L422.8,33.5M403.9,36.4L414.3,31.2L422.9,39.1M402.4,41.8L413.5,36.7L422.9,44.7M401.1,47.2L412.8,42.2L422.6,50.2M399.9,52.6L412.0,47.6L422.3,55.7M398.9,58.0L411.2,53.1L421.8,61.2M398.0,63.5L410.5,58.5L421.1,66.7M397.2,68.9L409.7,64.0L420.4,72.2M396.6,74.4L408.9,69.5L419.5,77.6M396.0,79.9L408.2,74.9L418.5,83.1M395.6,85.4L407.4,80.4L417.4,88.5M395.2,90.9L406.6,85.9L416.2,93.9M395.0,96.5L405.9,91.3L414.9,99.3M394.8,102.0L405.1,96.8L413.6,104.7M394.7,107.6L404.3,102.3L412.1,110.0M394.6,113.1L403.6,107.7L410.7,115.4M394.6,118.7L402.8,113.2L409.1,120.8M394.7,124.3L402.0,118.6L407.5,126.1M394.8,129.9L401.3,124.1L405.9,131.4M394.9,135.5L400.5,129.6L404.3,136.8M395.0,141.1L399.7,135.0L402.6,142.1M395.2,146.7L399.0,140.5L400.9,147.5M395.4,152.2L398.2,146.0L399.2,152.8" fill="none" stroke="#64984f" stroke-opacity="0.35" stroke-width="1"/><path d="M418.0,5.0 L396.8,155.5" stroke="#1a2a18" stroke-opacity="0.35" stroke-width="1.2"/><path d="M418.0,5.0 L415.8,9.9 L415.3,10.8 L414.4,15.6 L413.7,16.5 L413.3,21.3 L412.5,22.2 L412.5,27.0 L411.6,27.9 L411.9,32.6 L410.9,33.5 L411.6,38.2 L410.5,39.1 L411.4,43.8 L410.2,44.7 L411.3,49.4 L410.2,50.3 L411.5,54.9 L410.3,55.9 L411.8,60.5 L410.6,61.4 L412.2,66.0 L411.1,67.0 L412.8,71.5 L411.7,72.5 L413.5,77.1 L412.4,78.0 L414.3,82.6 L413.2,83.5 L415.2,88.1 L414.2,89.0 L416.2,93.6 L415.3,94.5 L417.3,99.0 L416.5,99.9 L418.4,104.5 L417.7,105.4 L419.7,110.0 L419.0,110.9 L421.0,115.4 L420.4,116.3 L422.3,120.9 L421.9,121.8 L423.7,126.4 L423.3,127.2 L425.1,131.8 L424.9,132.7 L426.5,137.3 L426.4,138.1 L428.0,142.7 L428.0,143.5 L429.4,148.2 L429.5,149.0 L430.9,153.6 L431.1,154.4 L431.1,154.4 L431.1,153.6 L431.7,148.8 L431.6,148.0 L432.3,143.2 L432.1,142.3 L432.8,137.5 L432.6,136.7 L433.4,131.9 L433.1,131.1 L434.0,126.3 L433.5,125.5 L434.5,120.7 L433.9,119.9 L434.9,115.1 L434.3,114.3 L435.4,109.4 L434.6,108.7 L435.7,103.8 L434.9,103.1 L436.0,98.2 L435.1,97.5 L436.2,92.6 L435.2,91.9 L436.3,87.0 L435.2,86.3 L436.3,81.5 L435.1,80.7 L436.2,75.9 L435.0,75.2 L436.0,70.3 L434.7,69.6 L435.6,64.8 L434.3,64.1 L435.1,59.3 L433.8,58.6 L434.4,53.8 L433.1,53.0 L433.6,48.3 L432.3,47.5 L432.5,42.8 L431.3,42.0 L431.3,37.3 L430.1,36.6 L429.9,31.8 L428.8,31.1 L428.3,26.4 L427.2,25.7 L426.4,21.0 L425.4,20.2 L424.3,15.6 L423.4,14.8 L421.7,10.3 L421.0,9.5 L418.0,5.0Z" fill="#3b5c33" stroke="#689a55" stroke-width="1.1"/><path d="M415.4,10.8L418.0,5.0L421.5,10.3M413.9,16.5L418.4,9.4L424.0,15.6M412.8,22.2L418.9,15.0L426.1,21.0M412.0,27.8L419.4,20.5L427.9,26.4M411.4,33.5L419.8,26.0L429.5,31.9M411.0,39.1L420.3,31.6L430.8,37.3M410.8,44.7L420.8,37.1L432.0,42.8M410.8,50.2L421.3,42.6L433.0,48.3M410.9,55.8L421.8,48.2L433.8,53.8M411.2,61.4L422.3,53.7L434.5,59.3M411.7,66.9L422.7,59.2L435.0,64.9M412.3,72.4L423.2,64.8L435.4,70.4M413.0,77.9L423.7,70.3L435.6,76.0M413.8,83.4L424.2,75.8L435.7,81.5M414.8,88.9L424.7,81.4L435.8,87.1M415.8,94.4L425.2,86.9L435.7,92.7M416.9,99.9L425.7,92.4L435.5,98.3M418.2,105.4L426.1,98.0L435.3,103.9M419.4,110.8L426.6,103.5L435.0,109.5M420.8,116.3L427.1,109.0L434.6,115.1M422.2,121.7L427.6,114.6L434.2,120.7M423.6,127.2L428.1,120.1L433.7,126.3M425.1,132.6L428.6,125.7L433.2,131.9M426.6,138.1L429.0,131.2L432.7,137.6M428.1,143.5L429.5,136.7L432.1,143.2" fill="none" stroke="#64984f" stroke-opacity="0.35" stroke-width="1"/><path d="M418.0,5.0 L430.4,147.0" stroke="#1a2a18" stroke-opacity="0.35" stroke-width="1.2"/><path d="M418.0,5.0 L417.1,10.2 L416.8,11.2 L417.1,16.0 L416.6,17.1 L417.3,21.7 L416.8,22.8 L417.8,27.4 L417.2,28.5 L418.5,33.0 L417.8,34.1 L419.4,38.5 L418.6,39.6 L420.5,43.9 L419.6,45.1 L421.6,49.4 L420.7,50.5 L423.0,54.7 L422.0,55.9 L424.4,60.1 L423.5,61.2 L426.0,65.4 L425.1,66.5 L427.7,70.6 L426.8,71.8 L429.5,75.8 L428.6,77.0 L431.4,81.0 L430.5,82.2 L433.3,86.2 L432.5,87.3 L435.4,91.3 L434.7,92.4 L437.6,96.4 L436.9,97.5 L439.8,101.5 L439.2,102.5 L442.1,106.5 L441.6,107.6 L444.4,111.6 L444.0,112.6 L446.8,116.6 L446.5,117.6 L449.3,121.6 L449.0,122.6 L451.8,126.6 L451.6,127.5 L454.3,131.6 L454.2,132.5 L456.8,136.5 L456.8,137.4 L459.4,141.5 L459.5,142.4 L461.9,146.5 L462.1,147.3 L464.5,151.5 L464.8,152.2 L467.1,156.4 L467.4,157.2 L467.4,157.2 L467.3,156.3 L466.7,151.6 L466.5,150.8 L465.9,146.1 L465.6,145.3 L465.2,140.5 L464.8,139.8 L464.4,134.9 L463.9,134.2 L463.6,129.4 L463.0,128.7 L462.8,123.9 L462.1,123.2 L462.0,118.3 L461.2,117.7 L461.1,112.8 L460.2,112.2 L460.2,107.3 L459.2,106.8 L459.2,101.8 L458.2,101.3 L458.2,96.4 L457.1,95.9 L457.1,90.9 L455.9,90.4 L455.9,85.5 L454.6,85.0 L454.6,80.1 L453.3,79.7 L453.2,74.8 L451.9,74.3 L451.7,69.4 L450.4,69.0 L450.2,64.2 L448.7,63.8 L448.5,58.9 L447.0,58.5 L446.6,53.7 L445.2,53.3 L444.7,48.6 L443.2,48.1 L442.5,43.4 L441.1,43.0 L440.3,38.4 L438.9,37.9 L437.9,33.4 L436.5,32.9 L435.3,28.4 L434.0,27.9 L432.5,23.5 L431.3,23.0 L429.5,18.7 L428.4,18.2 L426.2,13.9 L425.2,13.4 L422.6,9.3 L421.8,8.7 L418.0,5.0Z" fill="#3e5f35" stroke="#689a55" stroke-width="1.1"/><path d="M416.9,11.1L418.0,5.0L422.5,9.3M416.8,17.0L419.4,9.2L426.0,14.0M417.1,22.7L421.1,14.4L429.2,18.8M417.6,28.3L422.8,19.7L432.1,23.6M418.2,33.9L424.5,24.9L434.8,28.5M419.1,39.5L426.2,30.2L437.4,33.5M420.1,44.9L427.9,35.4L439.8,38.5M421.3,50.3L429.6,40.7L442.0,43.6M422.6,55.7L431.3,45.9L444.1,48.7M424.1,61.0L433.0,51.2L446.0,53.9M425.6,66.3L434.7,56.4L447.9,59.1M427.3,71.6L436.4,61.7L449.6,64.4M429.2,76.8L438.1,66.9L451.2,69.6M431.1,82.0L439.8,72.2L452.7,75.0M433.1,87.1L441.5,77.4L454.0,80.3M435.2,92.2L443.2,82.7L455.3,85.7M437.4,97.3L444.9,87.9L456.6,91.1M439.7,102.4L446.6,93.2L457.7,96.5M442.0,107.4L448.3,98.4L458.8,102.0M444.4,112.4L450.1,103.6L459.8,107.4M446.8,117.5L451.8,108.9L460.8,112.9M449.3,122.4L453.5,114.1L461.7,118.4M451.9,127.4L455.2,119.4L462.6,123.9M454.4,132.4L456.9,124.6L463.4,129.5M457.0,137.4L458.6,129.9L464.2,135.0M459.6,142.3L460.3,135.1L465.0,140.5M462.2,147.3L462.0,140.4L465.8,146.1" fill="none" stroke="#64984f" stroke-opacity="0.35" stroke-width="1"/><path d="M418.0,5.0 L465.0,149.6" stroke="#1a2a18" stroke-opacity="0.35" stroke-width="1.2"/><path d="M418.0,5.0 L418.6,10.3 L418.5,11.3 L420.1,16.0 L419.9,17.1 L421.8,21.6 L421.6,22.7 L423.8,27.0 L423.4,28.2 L425.9,32.4 L425.5,33.6 L428.1,37.6 L427.7,38.9 L430.5,42.8 L430.0,44.1 L433.0,47.9 L432.4,49.2 L435.6,52.9 L435.0,54.3 L438.3,57.9 L437.7,59.2 L441.1,62.8 L440.5,64.1 L444.1,67.6 L443.5,69.0 L447.1,72.4 L446.5,73.8 L450.1,77.1 L449.6,78.5 L453.3,81.8 L452.8,83.1 L456.5,86.4 L456.0,87.7 L459.8,91.0 L459.4,92.3 L463.2,95.6 L462.8,96.8 L466.6,100.1 L466.2,101.3 L470.1,104.6 L469.8,105.8 L473.6,109.1 L473.4,110.2 L477.1,113.5 L477.0,114.6 L480.7,117.9 L480.6,119.0 L484.3,122.3 L484.3,123.3 L488.0,126.7 L488.1,127.6 L491.7,131.0 L491.8,131.9 L495.4,135.4 L495.6,136.2 L499.1,139.7 L499.4,140.5 L502.8,144.1 L503.2,144.8 L506.5,148.4 L506.9,149.1 L510.2,152.8 L510.7,153.4 L510.7,153.4 L510.4,152.6 L508.5,148.1 L508.1,147.4 L506.3,142.8 L505.8,142.2 L504.2,137.6 L503.6,136.9 L501.9,132.3 L501.3,131.7 L499.7,127.0 L499.0,126.5 L497.5,121.7 L496.7,121.3 L495.2,116.5 L494.3,116.1 L493.0,111.3 L492.0,110.9 L490.6,106.1 L489.6,105.7 L488.3,100.9 L487.2,100.6 L485.9,95.7 L484.7,95.5 L483.4,90.6 L482.2,90.4 L480.9,85.5 L479.6,85.3 L478.3,80.5 L477.0,80.3 L475.7,75.4 L474.3,75.3 L473.0,70.5 L471.6,70.4 L470.2,65.6 L468.7,65.5 L467.3,60.7 L465.8,60.6 L464.3,55.9 L462.8,55.9 L461.3,51.2 L459.8,51.1 L458.1,46.5 L456.6,46.4 L454.8,41.9 L453.3,41.8 L451.4,37.4 L450.0,37.3 L447.9,32.9 L446.5,32.8 L444.2,28.5 L442.9,28.4 L440.4,24.3 L439.1,24.1 L436.5,20.1 L435.3,19.8 L432.4,16.0 L431.2,15.7 L428.1,12.0 L427.0,11.7 L423.5,8.2 L422.5,7.8 L418.0,5.0Z" fill="#395930" stroke="#689a55" stroke-width="1.1"/><path d="M418.6,11.3L418.0,5.0L423.3,8.3M420.1,17.0L420.4,8.8L427.9,12.1M421.8,22.6L423.4,13.6L432.1,16.1M423.8,28.0L426.4,18.4L436.2,20.3M425.8,33.4L429.4,23.2L440.1,24.5M428.1,38.6L432.4,28.0L443.8,28.8M430.4,43.8L435.4,32.8L447.4,33.2M432.9,48.9L438.3,37.6L450.9,37.7M435.5,54.0L441.3,42.3L454.3,42.2M438.2,58.9L444.3,47.1L457.6,46.8M441.1,63.8L447.3,51.9L460.8,51.5M444.0,68.6L450.3,56.7L463.8,56.2M447.0,73.4L453.3,61.5L466.8,61.0M450.1,78.1L456.3,66.3L469.7,65.9M453.3,82.8L459.3,71.1L472.5,70.8M456.5,87.4L462.3,75.9L475.2,75.8M459.8,92.0L465.3,80.6L477.9,80.8M463.2,96.6L468.3,85.4L480.5,85.8M466.7,101.1L471.2,90.2L483.0,90.9M470.2,105.5L474.2,95.0L485.5,96.0M473.7,110.0L477.2,99.8L487.9,101.1M477.3,114.4L480.2,104.6L490.3,106.3M481.0,118.8L483.2,109.4L492.7,111.5M484.6,123.1L486.2,114.2L495.0,116.7M488.3,127.5L489.2,118.9L497.3,121.9M492.0,131.8L492.2,123.7L499.5,127.1M495.7,136.1L495.2,128.5L501.8,132.4M499.5,140.5L498.2,133.3L504.0,137.6M503.2,144.8L501.2,138.1L506.3,142.9" fill="none" stroke="#64984f" stroke-opacity="0.35" stroke-width="1"/><path d="M418.0,5.0 L506.1,146.0" stroke="#1a2a18" stroke-opacity="0.35" stroke-width="1.2"/><path d="M418.0,5.0 L419.8,9.9 L420.0,10.9 L422.6,15.0 L422.7,16.1 L425.6,19.9 L425.6,21.1 L428.7,24.7 L428.7,25.9 L431.9,29.4 L431.8,30.7 L435.3,34.0 L435.1,35.3 L438.7,38.4 L438.5,39.8 L442.2,42.8 L442.0,44.2 L445.8,47.1 L445.6,48.5 L449.5,51.3 L449.2,52.8 L453.3,55.5 L453.0,57.0 L457.1,59.6 L456.8,61.1 L460.9,63.6 L460.7,65.1 L464.9,67.6 L464.6,69.0 L468.9,71.5 L468.6,72.9 L472.9,75.3 L472.7,76.7 L477.1,79.1 L476.8,80.5 L481.2,82.9 L481.0,84.2 L485.4,86.6 L485.3,87.9 L489.7,90.2 L489.6,91.5 L493.9,93.8 L493.9,95.1 L498.3,97.4 L498.2,98.6 L502.6,101.0 L502.6,102.1 L507.0,104.5 L507.1,105.6 L511.4,108.0 L511.5,109.0 L515.8,111.5 L516.0,112.5 L520.3,114.9 L520.5,115.9 L524.7,118.4 L525.0,119.2 L529.2,121.8 L529.6,122.6 L533.7,125.2 L534.1,126.0 L538.2,128.6 L538.7,129.3 L542.7,132.0 L543.2,132.7 L547.2,135.4 L547.8,136.0 L551.7,138.8 L552.4,139.4 L552.4,139.4 L551.8,138.7 L549.0,134.8 L548.4,134.2 L545.7,130.2 L545.0,129.7 L542.3,125.7 L541.6,125.2 L539.0,121.1 L538.2,120.7 L535.6,116.6 L534.8,116.2 L532.2,112.0 L531.4,111.7 L528.9,107.5 L527.9,107.3 L525.5,103.0 L524.5,102.8 L522.0,98.5 L521.0,98.4 L518.6,94.1 L517.5,94.0 L515.1,89.6 L514.0,89.6 L511.6,85.2 L510.4,85.3 L508.1,80.9 L506.8,80.9 L504.5,76.6 L503.2,76.7 L500.9,72.3 L499.6,72.4 L497.2,68.0 L495.9,68.2 L493.5,63.8 L492.1,64.1 L489.7,59.7 L488.3,59.9 L485.9,55.6 L484.5,55.9 L482.0,51.6 L480.6,51.9 L478.1,47.7 L476.6,47.9 L474.1,43.8 L472.6,44.1 L470.0,40.0 L468.5,40.3 L465.8,36.2 L464.3,36.5 L461.5,32.6 L460.1,32.8 L457.2,29.0 L455.8,29.2 L452.8,25.5 L451.4,25.7 L448.3,22.1 L447.0,22.3 L443.7,18.8 L442.4,18.9 L438.9,15.7 L437.7,15.7 L434.1,12.6 L432.9,12.6 L429.1,9.7 L428.0,9.6 L423.9,7.0 L422.9,6.8 L418.0,5.0Z" fill="#3c5d33" stroke="#689a55" stroke-width="1.1"/><path d="M420.1,10.8L418.0,5.0L423.8,7.1M422.9,15.9L421.2,8.2L428.9,9.9M425.8,20.9L425.1,12.1L433.9,12.8M428.9,25.7L429.1,16.1L438.7,15.9M432.1,30.4L433.0,20.0L443.4,19.1M435.5,35.0L437.0,24.0L448.0,22.5M438.9,39.4L440.9,27.9L452.4,25.9M442.4,43.8L444.9,31.9L456.8,29.4M446.0,48.1L448.8,35.8L461.1,33.0M449.6,52.4L452.8,39.8L465.4,36.6M453.4,56.5L456.7,43.7L469.5,40.4M457.2,60.6L460.7,47.7L473.6,44.2M461.1,64.6L464.6,51.6L477.6,48.1M465.1,68.6L468.6,55.6L481.6,52.1M469.1,72.5L472.5,59.5L485.5,56.1M473.1,76.3L476.5,63.5L489.3,60.1M477.3,80.1L480.4,67.4L493.1,64.3M481.4,83.8L484.4,71.4L496.8,68.4M485.7,87.5L488.3,75.3L500.5,72.7M489.9,91.1L492.3,79.3L504.1,76.9M494.2,94.7L496.2,83.2L507.7,81.2M498.6,98.3L500.2,87.2L511.3,85.6M503.0,101.8L504.1,91.1L514.8,90.0M507.4,105.3L508.1,95.1L518.3,94.4M511.8,108.8L512.0,99.0L521.8,98.8M516.3,112.2L516.0,103.0L525.2,103.3M520.7,115.6L519.9,106.9L528.6,107.7M525.2,119.1L523.9,110.9L532.1,112.2M529.7,122.5L527.9,114.9L535.5,116.7M534.2,125.8L531.8,118.8L538.8,121.2M538.8,129.2L535.8,122.8L542.2,125.8M543.3,132.6L539.7,126.7L545.6,130.3" fill="none" stroke="#64984f" stroke-opacity="0.35" stroke-width="1"/><path d="M418.0,5.0 L545.6,132.6" stroke="#1a2a18" stroke-opacity="0.35" stroke-width="1.2"/><path d="M418.0,5.0 L420.9,9.3 L421.3,10.2 L424.8,13.6 L425.1,14.6 L428.8,17.6 L429.1,18.7 L432.9,21.5 L433.1,22.7 L437.1,25.3 L437.3,26.6 L441.3,29.0 L441.5,30.3 L445.7,32.6 L445.8,33.9 L450.0,36.0 L450.1,37.4 L454.5,39.4 L454.6,40.9 L459.0,42.7 L459.0,44.2 L463.5,45.9 L463.6,47.4 L468.1,49.1 L468.1,50.6 L472.7,52.2 L472.8,53.7 L477.4,55.2 L477.4,56.7 L482.1,58.1 L482.2,59.6 L486.8,61.0 L486.9,62.5 L491.6,63.8 L491.7,65.2 L496.5,66.6 L496.6,68.0 L501.3,69.3 L501.4,70.7 L506.2,71.9 L506.4,73.3 L511.1,74.6 L511.3,75.9 L516.1,77.1 L516.3,78.4 L521.0,79.7 L521.3,80.9 L526.0,82.2 L526.3,83.3 L531.0,84.7 L531.3,85.7 L536.0,87.1 L536.4,88.1 L541.1,89.5 L541.5,90.5 L546.1,91.9 L546.6,92.8 L551.2,94.3 L551.7,95.1 L556.3,96.6 L556.8,97.4 L561.4,99.0 L561.9,99.7 L566.5,101.3 L567.1,102.0 L571.6,103.7 L572.2,104.2 L576.6,106.0 L577.3,106.5 L581.7,108.3 L582.5,108.7 L586.8,110.6 L587.6,111.0 L587.6,111.0 L587.0,110.4 L583.3,107.4 L582.6,106.9 L579.0,103.7 L578.3,103.3 L574.8,100.1 L574.0,99.8 L570.5,96.5 L569.7,96.2 L566.2,92.8 L565.3,92.7 L561.9,89.2 L561.0,89.1 L557.6,85.6 L556.6,85.6 L553.3,82.1 L552.3,82.1 L548.9,78.5 L547.9,78.6 L544.6,75.0 L543.5,75.1 L540.2,71.5 L539.1,71.7 L535.9,68.0 L534.7,68.2 L531.5,64.6 L530.3,64.9 L527.0,61.1 L525.8,61.5 L522.6,57.8 L521.3,58.2 L518.1,54.5 L516.8,54.9 L513.6,51.2 L512.3,51.7 L509.0,48.0 L507.7,48.5 L504.5,44.8 L503.1,45.4 L499.8,41.8 L498.5,42.3 L495.2,38.7 L493.8,39.3 L490.5,35.8 L489.1,36.4 L485.7,32.9 L484.4,33.5 L480.9,30.1 L479.6,30.7 L476.1,27.3 L474.7,27.9 L471.2,24.7 L469.9,25.3 L466.3,22.1 L464.9,22.7 L461.2,19.7 L459.9,20.2 L456.2,17.3 L454.9,17.8 L451.0,15.0 L449.8,15.5 L445.8,12.9 L444.6,13.2 L440.6,10.8 L439.4,11.1 L435.2,8.9 L434.1,9.1 L429.7,7.2 L428.7,7.3 L424.1,5.7 L423.1,5.7 L418.0,5.0Z" fill="#395a31" stroke="#689a55" stroke-width="1.1"/><path d="M421.4,10.0L418.0,5.0L424.0,5.8M425.2,14.4L421.8,7.4L429.6,7.4M429.2,18.5L426.5,10.3L435.0,9.2M433.3,22.4L431.2,13.2L440.4,11.1M437.5,26.2L435.9,16.2L445.6,13.2M441.7,29.9L440.6,19.1L450.8,15.4M446.0,33.5L445.3,22.1L455.9,17.7M450.4,37.0L450.0,25.0L461.0,20.1M454.8,40.4L454.7,28.0L466.0,22.6M459.3,43.7L459.5,30.9L470.9,25.2M463.9,46.9L464.2,33.9L475.8,27.8M468.4,50.1L468.9,36.8L480.6,30.6M473.1,53.1L473.6,39.7L485.4,33.4M477.8,56.1L478.3,42.7L490.2,36.3M482.5,59.1L483.0,45.6L494.9,39.3M487.2,61.9L487.7,48.6L499.5,42.3M492.0,64.7L492.4,51.5L504.1,45.4M496.9,67.5L497.2,54.5L508.7,48.5M501.7,70.2L501.9,57.4L513.3,51.7M506.6,72.8L506.6,60.3L517.8,54.9M511.6,75.4L511.3,63.3L522.3,58.2M516.5,78.0L516.0,66.2L526.8,61.6M521.5,80.5L520.7,69.2L531.2,65.0M526.5,82.9L525.4,72.1L535.6,68.4M531.5,85.4L530.1,75.1L540.0,71.8M536.6,87.8L534.8,78.0L544.4,75.3M541.7,90.2L539.6,81.0L548.8,78.8M546.7,92.5L544.3,83.9L553.1,82.3M551.8,94.9L549.0,86.8L557.4,85.9M556.9,97.2L553.7,89.8L561.8,89.4M562.0,99.5L558.4,92.7L566.1,93.0M567.1,101.8L563.1,95.7L570.4,96.6M572.3,104.1L567.8,98.6L574.7,100.2M577.4,106.4L572.5,101.6L579.0,103.8" fill="none" stroke="#64984f" stroke-opacity="0.35" stroke-width="1"/><path d="M418.0,5.0 L579.1,105.7" stroke="#1a2a18" stroke-opacity="0.35" stroke-width="1.2"/><path d="M418.0,5.0 L421.8,8.5 L422.4,9.2 L426.5,11.8 L427.1,12.6 L431.3,14.8 L431.9,15.8 L436.2,17.7 L436.7,18.7 L441.1,20.4 L441.6,21.5 L446.1,23.0 L446.5,24.2 L451.1,25.5 L451.5,26.8 L456.1,27.9 L456.5,29.2 L461.2,30.2 L461.6,31.6 L466.3,32.4 L466.7,33.8 L471.4,34.5 L471.8,35.9 L476.6,36.6 L477.0,38.0 L481.7,38.5 L482.1,40.0 L487.0,40.4 L487.3,41.9 L492.2,42.3 L492.6,43.7 L497.4,44.0 L497.8,45.4 L502.7,45.7 L503.1,47.1 L508.0,47.4 L508.4,48.7 L513.3,48.9 L513.7,50.3 L518.7,50.5 L519.1,51.8 L524.0,51.9 L524.5,53.2 L529.4,53.4 L529.8,54.6 L534.8,54.8 L535.2,55.9 L540.2,56.1 L540.7,57.2 L545.6,57.4 L546.1,58.5 L551.0,58.7 L551.5,59.7 L556.4,60.0 L557.0,60.9 L561.9,61.2 L562.4,62.0 L567.3,62.4 L567.9,63.1 L572.7,63.6 L573.4,64.3 L578.2,64.7 L578.9,65.4 L583.7,65.9 L584.4,66.4 L589.1,67.0 L589.9,67.5 L594.6,68.2 L595.3,68.6 L600.1,69.3 L600.8,69.6 L605.5,70.4 L606.3,70.7 L611.0,71.6 L611.8,71.7 L611.8,71.7 L611.1,71.4 L606.8,69.2 L606.1,68.9 L601.9,66.6 L601.1,66.4 L596.9,64.1 L596.1,63.9 L591.9,61.6 L591.0,61.5 L586.9,59.0 L586.0,59.0 L581.9,56.5 L581.0,56.6 L576.9,54.0 L576.0,54.1 L571.9,51.5 L571.0,51.7 L566.9,49.0 L565.9,49.3 L561.9,46.6 L560.9,46.9 L556.9,44.1 L555.9,44.6 L551.8,41.7 L550.8,42.2 L546.8,39.4 L545.7,39.9 L541.7,37.1 L540.6,37.7 L536.7,34.8 L535.6,35.5 L531.6,32.6 L530.4,33.3 L526.5,30.4 L525.3,31.1 L521.3,28.3 L520.2,29.1 L516.2,26.2 L515.0,27.0 L511.0,24.2 L509.8,25.1 L505.8,22.3 L504.6,23.2 L500.6,20.4 L499.4,21.3 L495.3,18.6 L494.2,19.5 L490.1,16.9 L488.9,17.8 L484.8,15.3 L483.6,16.2 L479.5,13.7 L478.3,14.6 L474.1,12.3 L472.9,13.1 L468.7,10.9 L467.5,11.7 L463.3,9.7 L462.1,10.4 L457.8,8.5 L456.7,9.2 L452.3,7.4 L451.2,8.1 L446.8,6.5 L445.7,7.1 L441.2,5.7 L440.1,6.2 L435.6,5.1 L434.5,5.5 L429.9,4.6 L428.9,4.9 L424.1,4.4 L423.1,4.6 L418.0,5.0Z" fill="#3e5e35" stroke="#689a55" stroke-width="1.1"/><path d="M422.4,9.1L418.0,5.0L424.0,4.5M427.2,12.4L422.2,6.4L429.8,4.8M432.0,15.5L427.4,8.2L435.5,5.3M436.8,18.4L432.7,10.1L441.1,6.0M441.7,21.2L437.9,11.9L446.6,6.9M446.7,23.8L443.1,13.7L452.2,7.9M451.7,26.3L448.4,15.5L457.7,8.9M456.7,28.7L453.6,17.3L463.1,10.1M461.8,31.0L458.9,19.1L468.5,11.4M466.9,33.3L464.1,20.9L473.9,12.8M472.0,35.4L469.3,22.7L479.3,14.3M477.1,37.4L474.6,24.5L484.6,15.8M482.3,39.4L479.8,26.3L489.9,17.5M487.5,41.3L485.1,28.1L495.1,19.2M492.8,43.1L490.3,29.9L500.4,21.0M498.0,44.9L495.5,31.7L505.6,22.9M503.3,46.5L500.8,33.5L510.8,24.8M508.6,48.2L506.0,35.3L516.0,26.8M513.9,49.7L511.2,37.1L521.1,28.8M519.3,51.2L516.5,38.9L526.3,30.9M524.6,52.7L521.7,40.7L531.4,33.1M530.0,54.1L527.0,42.5L536.5,35.3M535.4,55.4L532.2,44.3L541.6,37.5M540.8,56.8L537.4,46.1L546.6,39.8M546.2,58.0L542.7,47.9L551.7,42.2M551.7,59.3L547.9,49.7L556.7,44.5M557.1,60.5L553.2,51.5L561.8,46.9M562.6,61.7L558.4,53.3L566.8,49.3M568.0,62.9L563.6,55.1L571.8,51.8M573.5,64.0L568.9,57.0L576.8,54.2M578.9,65.1L574.1,58.8L581.8,56.7M584.4,66.2L579.4,60.6L586.9,59.2M589.9,67.4L584.6,62.4L591.9,61.7M595.4,68.5L589.8,64.2L596.8,64.2M600.9,69.5L595.1,66.0L601.8,66.7" fill="none" stroke="#64984f" stroke-opacity="0.35" stroke-width="1"/><path d="M418.0,5.0 L602.1,68.4" stroke="#1a2a18" stroke-opacity="0.35" stroke-width="1.2"/><path d="M418.0,5.0 L422.4,7.5 L423.2,8.0 L427.8,9.6 L428.5,10.3 L433.1,11.5 L433.9,12.2 L438.5,13.2 L439.2,14.0 L443.9,14.7 L444.6,15.7 L449.3,16.2 L450.0,17.2 L454.7,17.5 L455.4,18.6 L460.1,18.8 L460.8,19.9 L465.6,20.0 L466.3,21.1 L471.0,21.0 L471.7,22.2 L476.5,22.0 L477.2,23.3 L481.9,22.9 L482.6,24.2 L487.4,23.8 L488.1,25.0 L492.9,24.5 L493.6,25.8 L498.4,25.2 L499.1,26.5 L503.9,25.9 L504.6,27.1 L509.4,26.4 L510.1,27.6 L514.9,27.0 L515.6,28.1 L520.5,27.4 L521.2,28.6 L526.0,27.8 L526.7,28.9 L531.5,28.2 L532.2,29.2 L537.1,28.5 L537.8,29.5 L542.6,28.8 L543.4,29.7 L548.2,29.0 L548.9,29.9 L553.7,29.2 L554.5,30.0 L559.3,29.4 L560.1,30.1 L564.9,29.5 L565.6,30.2 L570.4,29.6 L571.2,30.2 L576.0,29.7 L576.8,30.3 L581.6,29.8 L582.4,30.3 L587.2,29.8 L587.9,30.3 L592.7,29.9 L593.5,30.2 L598.3,29.9 L599.1,30.2 L603.9,29.9 L604.7,30.1 L609.5,29.9 L610.3,30.1 L615.1,30.0 L615.9,30.0 L620.6,30.0 L621.5,30.0 L621.5,30.0 L620.7,29.8 L616.1,28.6 L615.2,28.5 L610.7,27.2 L609.8,27.1 L605.2,25.8 L604.4,25.8 L599.8,24.4 L599.0,24.5 L594.4,23.0 L593.6,23.2 L589.0,21.6 L588.1,21.8 L583.6,20.2 L582.7,20.6 L578.2,18.9 L577.3,19.3 L572.8,17.6 L571.9,18.0 L567.3,16.3 L566.4,16.8 L561.9,15.0 L561.0,15.6 L556.5,13.7 L555.6,14.4 L551.0,12.5 L550.1,13.2 L545.6,11.3 L544.7,12.1 L540.2,10.2 L539.2,11.0 L534.7,9.1 L533.8,10.0 L529.3,8.1 L528.3,9.0 L523.8,7.1 L522.9,8.0 L518.3,6.2 L517.4,7.1 L512.9,5.3 L511.9,6.3 L507.4,4.5 L506.4,5.5 L501.9,3.8 L500.9,4.8 L496.4,3.1 L495.4,4.2 L490.9,2.5 L489.9,3.6 L485.4,2.0 L484.4,3.1 L479.8,1.6 L478.9,2.6 L474.3,1.3 L473.3,2.3 L468.7,1.0 L467.8,2.0 L463.2,0.9 L462.2,1.8 L457.6,0.8 L456.6,1.7 L452.0,0.9 L451.1,1.7 L446.4,1.1 L445.5,1.8 L440.8,1.4 L439.9,2.0 L435.1,1.8 L434.2,2.4 L429.5,2.4 L428.6,2.9 L423.8,3.3 L422.9,3.7 L418.0,5.0Z" fill="#3b5b33" stroke="#689a55" stroke-width="1.1"/><path d="M423.2,7.9L418.0,5.0L423.8,3.4M428.5,10.1L422.4,5.5L429.5,2.6M433.9,12.0L427.9,6.2L435.1,2.1M439.3,13.7L433.4,6.9L440.7,1.7M444.6,15.3L438.9,7.6L446.3,1.4M450.0,16.8L444.4,8.2L451.9,1.3M455.5,18.2L449.9,8.9L457.5,1.3M460.9,19.5L455.4,9.6L463.1,1.3M466.3,20.6L460.9,10.3L468.7,1.5M471.8,21.7L466.4,10.9L474.2,1.8M477.2,22.7L471.9,11.6L479.8,2.1M482.7,23.6L477.4,12.3L485.3,2.6M488.2,24.5L482.9,13.0L490.8,3.1M493.7,25.2L488.4,13.6L496.3,3.7M499.2,25.9L493.9,14.3L501.8,4.3M504.7,26.5L499.4,15.0L507.3,5.1M510.2,27.1L504.9,15.7L512.8,5.9M515.7,27.6L510.4,16.3L518.3,6.7M521.2,28.0L515.9,17.0L523.7,7.6M526.8,28.4L521.4,17.7L529.2,8.6M532.3,28.7L526.9,18.4L534.7,9.6M537.9,29.0L532.4,19.0L540.1,10.7M543.4,29.3L537.9,19.7L545.6,11.8M549.0,29.5L543.4,20.4L551.0,13.0M554.5,29.6L548.9,21.1L556.4,14.1M560.1,29.8L554.4,21.7L561.9,15.4M565.7,29.9L559.9,22.4L567.3,16.6M571.2,29.9L565.4,23.1L572.7,17.9M576.8,30.0L570.9,23.8L578.1,19.2M582.4,30.0L576.4,24.4L583.6,20.5M588.0,30.0L581.9,25.1L589.0,21.8M593.6,30.0L587.4,25.8L594.4,23.2M599.1,30.0L592.9,26.5L599.8,24.5M604.7,30.0L598.4,27.1L605.2,25.9M610.3,30.0L603.9,27.8L610.6,27.3" fill="none" stroke="#64984f" stroke-opacity="0.35" stroke-width="1"/><path d="M418.0,5.0 L611.3,28.7" stroke="#1a2a18" stroke-opacity="0.35" stroke-width="1.2"/><path d="M418.0,5.0 L422.9,6.4 L423.8,6.8 L428.6,7.4 L429.5,7.9 L434.3,8.1 L435.1,8.7 L439.9,8.6 L440.8,9.3 L445.6,8.9 L446.5,9.7 L451.2,9.2 L452.1,10.0 L456.8,9.3 L457.7,10.2 L462.4,9.4 L463.3,10.3 L468.0,9.3 L468.9,10.3 L473.6,9.2 L474.5,10.1 L479.2,8.9 L480.1,9.9 L484.8,8.6 L485.7,9.6 L490.4,8.2 L491.3,9.2 L495.9,7.7 L496.9,8.7 L501.5,7.2 L502.4,8.1 L507.0,6.6 L508.0,7.5 L512.6,5.9 L513.5,6.8 L518.1,5.1 L519.1,6.0 L523.7,4.4 L524.6,5.2 L529.2,3.5 L530.1,4.3 L534.8,2.6 L535.7,3.3 L540.3,1.7 L541.2,2.4 L545.8,0.7 L546.7,1.3 L551.3,-0.3 L552.2,0.3 L556.8,-1.3 L557.7,-0.8 L562.4,-2.4 L563.2,-2.0 L567.9,-3.5 L568.7,-3.1 L573.4,-4.6 L574.3,-4.3 L578.9,-5.7 L579.8,-5.5 L584.4,-6.8 L585.3,-6.7 L589.9,-8.0 L590.8,-7.9 L595.4,-9.1 L596.3,-9.1 L600.9,-10.2 L601.8,-10.3 L606.5,-11.4 L607.3,-11.6 L607.3,-11.6 L606.4,-11.6 L601.6,-11.8 L600.8,-11.8 L596.0,-12.0 L595.2,-11.9 L590.4,-12.3 L589.6,-12.1 L584.8,-12.5 L583.9,-12.3 L579.1,-12.8 L578.3,-12.4 L573.5,-13.0 L572.7,-12.6 L567.9,-13.2 L567.1,-12.7 L562.2,-13.4 L561.4,-12.8 L556.6,-13.5 L555.8,-12.9 L551.0,-13.6 L550.2,-13.0 L545.4,-13.7 L544.6,-13.0 L539.8,-13.8 L539.0,-13.0 L534.2,-13.8 L533.4,-12.9 L528.5,-13.8 L527.8,-12.8 L522.9,-13.7 L522.2,-12.7 L517.4,-13.5 L516.6,-12.5 L511.8,-13.3 L511.0,-12.3 L506.2,-13.1 L505.4,-12.0 L500.6,-12.7 L499.8,-11.6 L495.0,-12.3 L494.3,-11.2 L489.5,-11.8 L488.7,-10.7 L483.9,-11.3 L483.1,-10.1 L478.3,-10.6 L477.6,-9.5 L472.8,-9.9 L472.1,-8.8 L467.3,-9.0 L466.5,-7.9 L461.7,-8.1 L461.0,-7.0 L456.2,-7.0 L455.5,-6.0 L450.7,-5.9 L450.0,-4.9 L445.2,-4.6 L444.4,-3.7 L439.7,-3.2 L439.0,-2.3 L434.3,-1.6 L433.5,-0.8 L428.8,0.2 L428.0,0.8 L423.4,2.2 L422.6,2.7 L418.0,5.0Z" fill="#395830" stroke="#689a55" stroke-width="1.1"/><path d="M423.8,6.7L418.0,5.0L423.4,2.3M429.5,7.7L422.5,4.6L428.8,0.4M435.1,8.4L428.0,4.1L434.3,-1.3M440.8,8.9L433.6,3.6L439.8,-2.8M446.4,9.3L439.2,3.1L445.2,-4.2M452.1,9.6L444.7,2.7L450.7,-5.5M457.7,9.8L450.3,2.2L456.3,-6.6M463.3,9.8L455.9,1.7L461.8,-7.6M468.9,9.8L461.4,1.2L467.3,-8.5M474.5,9.6L467.0,0.7L472.8,-9.4M480.1,9.4L472.6,0.2L478.4,-10.1M485.7,9.1L478.1,-0.3L483.9,-10.8M491.2,8.7L483.7,-0.7L489.5,-11.3M496.8,8.2L489.3,-1.2L495.1,-11.8M502.4,7.6L494.8,-1.7L500.6,-12.2M507.9,7.0L500.4,-2.2L506.2,-12.6M513.5,6.3L506.0,-2.7L511.8,-12.8M519.0,5.5L511.5,-3.2L517.4,-13.1M524.6,4.7L517.1,-3.7L523.0,-13.2M530.1,3.8L522.7,-4.2L528.6,-13.3M535.6,2.9L528.2,-4.6L534.2,-13.4M541.1,2.0L533.8,-5.1L539.8,-13.4M546.7,1.0L539.4,-5.6L545.4,-13.4M552.2,-0.1L544.9,-6.1L551.0,-13.3M557.7,-1.2L550.5,-6.6L556.6,-13.2M563.2,-2.2L556.1,-7.1L562.3,-13.1M568.7,-3.4L561.6,-7.6L567.9,-12.9M574.2,-4.5L567.2,-8.1L573.5,-12.8M579.7,-5.7L572.8,-8.5L579.1,-12.6M585.3,-6.8L578.3,-9.0L584.8,-12.4M590.8,-8.0L583.9,-9.5L590.4,-12.2M596.3,-9.2L589.5,-10.0L596.0,-12.0" fill="none" stroke="#64984f" stroke-opacity="0.35" stroke-width="1"/><path d="M418.0,5.0 L597.8,-10.7" stroke="#1a2a18" stroke-opacity="0.35" stroke-width="1.2"/><path d="M418.0,5.0 L423.1,5.6 L424.1,5.8 L429.0,5.5 L430.0,5.8 L434.8,5.1 L435.7,5.6 L440.5,4.6 L441.5,5.1 L446.2,3.9 L447.2,4.5 L451.8,3.1 L452.9,3.7 L457.4,2.2 L458.5,2.9 L463.0,1.2 L464.1,1.9 L468.6,0.0 L469.7,0.7 L474.1,-1.2 L475.2,-0.5 L479.6,-2.5 L480.7,-1.8 L485.1,-4.0 L486.2,-3.2 L490.6,-5.5 L491.6,-4.8 L496.0,-7.0 L497.1,-6.4 L501.4,-8.7 L502.5,-8.1 L506.9,-10.4 L507.9,-9.8 L512.2,-12.2 L513.3,-11.6 L517.6,-14.0 L518.6,-13.5 L523.0,-15.9 L524.0,-15.5 L528.3,-17.9 L529.3,-17.5 L533.7,-19.8 L534.6,-19.5 L539.0,-21.9 L539.9,-21.6 L544.3,-23.9 L545.2,-23.7 L549.6,-26.0 L550.5,-25.8 L554.9,-28.1 L555.8,-28.0 L560.2,-30.2 L561.1,-30.2 L565.5,-32.3 L566.4,-32.4 L570.8,-34.4 L571.7,-34.6 L576.1,-36.5 L576.9,-36.8 L581.4,-38.7 L582.2,-39.0 L582.2,-39.0 L581.4,-38.9 L576.5,-38.3 L575.7,-38.1 L570.9,-37.5 L570.1,-37.3 L565.2,-36.8 L564.4,-36.5 L559.5,-36.1 L558.8,-35.7 L553.9,-35.3 L553.1,-34.8 L548.2,-34.6 L547.5,-34.0 L542.5,-33.8 L541.8,-33.1 L536.9,-32.9 L536.2,-32.2 L531.3,-32.1 L530.6,-31.3 L525.6,-31.2 L525.0,-30.4 L520.0,-30.3 L519.4,-29.4 L514.4,-29.3 L513.8,-28.3 L508.8,-28.2 L508.2,-27.2 L503.3,-27.1 L502.7,-26.1 L497.7,-25.9 L497.1,-24.9 L492.2,-24.7 L491.6,-23.6 L486.7,-23.4 L486.1,-22.2 L481.2,-21.9 L480.6,-20.8 L475.7,-20.4 L475.1,-19.3 L470.3,-18.8 L469.7,-17.7 L464.9,-17.1 L464.3,-16.0 L459.5,-15.3 L458.9,-14.2 L454.1,-13.4 L453.6,-12.3 L448.8,-11.3 L448.2,-10.3 L443.5,-9.2 L442.9,-8.2 L438.3,-6.8 L437.7,-5.9 L433.1,-4.4 L432.4,-3.5 L427.9,-1.7 L427.3,-0.9 L422.9,1.3 L422.2,1.9 L418.0,5.0Z" fill="#385730" stroke="#689a55" stroke-width="1.1"/><path d="M424.1,5.7L418.0,5.0L422.9,1.4M429.9,5.6L422.4,3.8L428.0,-1.5M435.7,5.3L427.9,2.4L433.2,-4.1M441.4,4.8L433.3,0.9L438.4,-6.5M447.1,4.2L438.8,-0.6L443.6,-8.8M452.8,3.4L444.3,-2.0L448.9,-11.0M458.4,2.5L449.7,-3.5L454.2,-13.0M464.0,1.4L455.2,-5.0L459.6,-14.9M469.5,0.3L460.7,-6.4L465.0,-16.7M475.1,-0.9L466.2,-7.9L470.4,-18.4M480.6,-2.3L471.6,-9.4L475.8,-20.0M486.1,-3.7L477.1,-10.8L481.3,-21.5M491.5,-5.2L482.6,-12.3L486.8,-22.9M497.0,-6.8L488.1,-13.8L492.3,-24.2M502.4,-8.5L493.5,-15.2L497.8,-25.5M507.8,-10.3L499.0,-16.7L503.4,-26.7M513.2,-12.1L504.5,-18.2L508.9,-27.8M518.5,-13.9L510.0,-19.6L514.5,-28.9M523.9,-15.8L515.4,-21.1L520.1,-29.9M529.2,-17.8L520.9,-22.6L525.7,-30.9M534.5,-19.8L526.4,-24.0L531.3,-31.8M539.9,-21.9L531.9,-25.5L537.0,-32.7M545.2,-24.0L537.3,-27.0L542.6,-33.5M550.5,-26.1L542.8,-28.4L548.3,-34.3M555.8,-28.2L548.3,-29.9L553.9,-35.1M561.1,-30.3L553.7,-31.4L559.6,-35.9M566.3,-32.5L559.2,-32.8L565.2,-36.7M571.6,-34.7L564.7,-34.3L570.9,-37.5" fill="none" stroke="#64984f" stroke-opacity="0.35" stroke-width="1"/><path d="M418.0,5.0 L574.0,-36.8" stroke="#1a2a18" stroke-opacity="0.35" stroke-width="1.2"/><path d="M470.0,40.0 L475.0,42.2 L475.9,42.8 L480.7,43.6 L481.6,44.3 L486.4,44.6 L487.3,45.4 L492.0,45.2 L493.0,46.2 L497.6,45.7 L498.6,46.7 L503.2,45.9 L504.2,47.0 L508.8,45.9 L509.7,47.0 L514.3,45.7 L515.3,46.9 L519.8,45.3 L520.8,46.5 L525.3,44.8 L526.2,46.0 L530.7,44.1 L531.7,45.2 L536.2,43.2 L537.1,44.4 L541.6,42.3 L542.6,43.3 L547.0,41.2 L548.0,42.2 L552.4,39.9 L553.4,40.9 L557.8,38.6 L558.7,39.5 L563.2,37.2 L564.1,38.0 L568.5,35.7 L569.4,36.4 L573.9,34.2 L574.8,34.7 L579.2,32.6 L580.1,33.0 L584.6,30.9 L585.4,31.2 L589.9,29.2 L590.7,29.4 L595.2,27.5 L596.1,27.6 L600.5,25.8 L601.4,25.7 L605.9,24.0 L606.7,23.9 L611.2,22.3 L612.0,22.0 L612.0,22.0 L611.2,21.9 L606.4,21.5 L605.6,21.6 L600.8,21.0 L600.0,21.2 L595.2,20.6 L594.4,20.9 L589.6,20.1 L588.8,20.5 L584.0,19.7 L583.2,20.2 L578.4,19.3 L577.6,19.9 L572.8,19.0 L572.0,19.7 L567.2,18.7 L566.5,19.5 L561.6,18.5 L560.9,19.4 L556.0,18.4 L555.3,19.4 L550.5,18.4 L549.8,19.5 L545.0,18.4 L544.3,19.7 L539.4,18.7 L538.8,20.0 L533.9,19.0 L533.3,20.4 L528.4,19.5 L527.8,20.9 L523.0,20.2 L522.3,21.6 L517.5,21.0 L516.9,22.4 L512.1,22.0 L511.5,23.4 L506.7,23.3 L506.1,24.6 L501.4,24.7 L500.7,26.0 L496.0,26.3 L495.3,27.6 L490.7,28.2 L490.0,29.4 L485.4,30.4 L484.7,31.5 L480.2,32.9 L479.5,33.9 L475.0,35.8 L474.3,36.6 L470.0,40.0Z" fill="#3c5d34" stroke="#5e8a50" stroke-width="0.9"/><path d="M475.9,42.6L470.0,40.0L475.0,36.0M481.6,44.0L474.4,39.4L480.2,33.2M487.3,45.1L479.8,38.8L485.5,30.8M492.9,45.8L485.3,38.1L490.8,28.7M498.5,46.2L490.8,37.4L496.1,26.8M504.1,46.4L496.2,36.7L501.4,25.2M509.7,46.5L501.7,36.0L506.8,23.9M515.2,46.3L507.1,35.3L512.2,22.7M520.7,45.9L512.6,34.6L517.6,21.7M526.2,45.3L518.1,33.9L523.1,20.8M531.6,44.6L523.5,33.2L528.5,20.2M537.1,43.7L529.0,32.5L534.0,19.7M542.5,42.7L534.4,31.8L539.5,19.3M547.9,41.6L539.9,31.1L545.0,19.0M553.3,40.3L545.4,30.4L550.6,18.9M558.7,39.0L550.8,29.8L556.1,18.9M564.0,37.5L556.3,29.1L561.7,19.0M569.4,36.0L561.8,28.4L567.2,19.1M574.7,34.3L567.2,27.7L572.8,19.3M580.1,32.7L572.7,27.0L578.4,19.6M585.4,31.0L578.1,26.3L584.0,20.0M590.7,29.2L583.6,25.6L589.6,20.3M596.0,27.4L589.1,24.9L595.2,20.7M601.4,25.6L594.5,24.2L600.8,21.2" fill="none" stroke="#6a9a58" stroke-opacity="0.45" stroke-width="1"/><path d="M470.0,40.0 L604.9,22.9" stroke="#1a2a18" stroke-opacity="0.35" stroke-width="1.2"/><path d="M470.0,55.0 L474.9,57.6 L475.8,58.3 L480.6,59.5 L481.5,60.3 L486.3,61.0 L487.2,61.9 L492.0,62.1 L492.9,63.1 L497.6,62.9 L498.5,64.1 L503.3,63.5 L504.2,64.8 L508.9,63.9 L509.8,65.2 L514.5,64.1 L515.4,65.4 L520.1,64.1 L521.0,65.4 L525.7,63.9 L526.6,65.2 L531.3,63.6 L532.2,64.8 L536.9,63.1 L537.8,64.2 L542.5,62.4 L543.4,63.5 L548.1,61.7 L549.0,62.7 L553.7,60.8 L554.5,61.7 L559.2,59.8 L560.1,60.6 L564.8,58.7 L565.7,59.5 L570.3,57.5 L571.2,58.2 L575.9,56.3 L576.8,56.8 L581.4,55.0 L582.3,55.4 L587.0,53.7 L587.8,54.0 L592.5,52.4 L593.4,52.5 L598.1,51.0 L598.9,51.0 L603.6,49.6 L604.5,49.5 L609.2,48.2 L610.0,48.0 L610.0,48.0 L609.2,47.9 L604.3,47.1 L603.5,47.1 L598.7,46.1 L597.8,46.2 L593.0,45.2 L592.2,45.4 L587.4,44.2 L586.5,44.6 L581.7,43.4 L580.9,43.8 L576.0,42.5 L575.2,43.1 L570.4,41.7 L569.6,42.5 L564.7,41.0 L563.9,41.9 L559.1,40.4 L558.3,41.3 L553.5,39.9 L552.7,40.9 L547.8,39.5 L547.0,40.6 L542.2,39.2 L541.4,40.4 L536.6,39.0 L535.8,40.3 L531.0,39.0 L530.2,40.3 L525.4,39.2 L524.6,40.6 L519.8,39.6 L519.0,40.9 L514.2,40.1 L513.4,41.5 L508.6,40.9 L507.8,42.2 L503.0,41.9 L502.3,43.2 L497.5,43.1 L496.7,44.4 L491.9,44.6 L491.2,45.8 L486.4,46.4 L485.6,47.4 L480.9,48.5 L480.1,49.4 L475.4,51.1 L474.6,51.9 L470.0,55.0Z" fill="#3f6136" stroke="#5e8a50" stroke-width="0.9"/><path d="M475.8,58.1L470.0,55.0L475.4,51.3M481.5,60.1L474.5,54.8L480.9,48.8M487.2,61.5L480.1,54.5L486.4,46.8M492.8,62.7L485.7,54.2L492.0,45.1M498.5,63.6L491.3,53.9L497.5,43.6M504.1,64.2L496.9,53.7L503.1,42.5M509.8,64.6L502.5,53.4L508.6,41.5M515.4,64.8L508.1,53.1L514.2,40.8M521.0,64.7L513.7,52.8L519.8,40.2M526.6,64.5L519.3,52.5L525.4,39.9M532.2,64.2L524.9,52.3L531.0,39.7M537.8,63.6L530.5,52.0L536.6,39.7M543.4,62.9L536.1,51.7L542.2,39.8M549.0,62.1L541.7,51.4L547.8,40.0M554.5,61.2L547.3,51.1L553.5,40.4M560.1,60.1L552.9,50.9L559.1,40.9M565.6,59.0L558.5,50.6L564.8,41.5M571.2,57.8L564.1,50.3L570.4,42.1M576.7,56.5L569.7,50.0L576.1,42.9M582.3,55.1L575.3,49.7L581.7,43.7M587.8,53.8L580.9,49.5L587.4,44.5M593.4,52.3L586.5,49.2L593.0,45.3M598.9,50.9L592.1,48.9L598.7,46.2" fill="none" stroke="#6a9a58" stroke-opacity="0.45" stroke-width="1"/><path d="M470.0,55.0 L603.0,48.4" stroke="#1a2a18" stroke-opacity="0.35" stroke-width="1.2"/><path d="M470.0,70.0 L474.8,72.9 L475.6,73.6 L480.5,75.0 L481.3,75.9 L486.1,76.8 L487.0,77.8 L491.8,78.3 L492.6,79.4 L497.5,79.5 L498.3,80.7 L503.2,80.5 L504.0,81.7 L508.8,81.2 L509.7,82.5 L514.5,81.8 L515.4,83.1 L520.2,82.2 L521.1,83.5 L525.9,82.4 L526.7,83.8 L531.6,82.5 L532.4,83.8 L537.3,82.4 L538.1,83.7 L543.0,82.2 L543.8,83.4 L548.7,81.9 L549.5,83.0 L554.4,81.4 L555.2,82.5 L560.1,80.9 L560.9,81.9 L565.8,80.3 L566.6,81.1 L571.5,79.5 L572.3,80.3 L577.2,78.7 L578.0,79.4 L582.9,77.9 L583.8,78.5 L588.6,77.0 L589.5,77.4 L594.3,76.1 L595.2,76.4 L600.0,75.1 L600.9,75.3 L605.7,74.1 L606.6,74.2 L611.4,73.1 L612.3,73.1 L617.1,72.1 L618.0,72.0 L618.0,72.0 L617.1,71.8 L612.3,70.7 L611.5,70.7 L606.6,69.5 L605.8,69.5 L601.0,68.2 L600.1,68.4 L595.3,67.0 L594.4,67.3 L589.6,65.8 L588.8,66.2 L583.9,64.6 L583.1,65.2 L578.3,63.5 L577.4,64.2 L572.6,62.5 L571.7,63.2 L566.9,61.5 L566.0,62.3 L561.2,60.6 L560.4,61.5 L555.5,59.8 L554.7,60.8 L549.9,59.1 L549.0,60.2 L544.2,58.6 L543.3,59.7 L538.5,58.2 L537.6,59.4 L532.8,57.9 L531.9,59.2 L527.1,57.8 L526.2,59.1 L521.4,57.8 L520.5,59.2 L515.7,58.1 L514.8,59.4 L510.0,58.5 L509.1,59.8 L504.3,59.2 L503.4,60.4 L498.6,60.1 L497.7,61.3 L492.9,61.2 L492.0,62.3 L487.2,62.7 L486.3,63.6 L481.5,64.4 L480.6,65.2 L475.7,66.6 L474.9,67.3 L470.0,70.0Z" fill="#3a5a32" stroke="#5e8a50" stroke-width="0.9"/><path d="M475.6,73.4L470.0,70.0L475.7,66.7M481.3,75.6L474.6,70.1L481.5,64.7M487.0,77.4L480.2,70.1L487.2,63.0M492.7,78.9L485.9,70.2L492.9,61.7M498.3,80.2L491.6,70.3L498.6,60.6M504.0,81.1L497.3,70.4L504.3,59.8M509.7,81.9L503.0,70.4L510.0,59.1M515.4,82.5L508.7,70.5L515.7,58.7M521.1,82.9L514.4,70.6L521.4,58.5M526.8,83.1L520.1,70.7L527.1,58.4M532.4,83.2L525.8,70.8L532.8,58.5M538.1,83.1L531.5,70.8L538.5,58.8M543.8,82.8L537.2,70.9L544.2,59.2M549.5,82.4L542.9,71.0L549.8,59.7M555.2,81.9L548.6,71.1L555.5,60.4M560.9,81.3L554.2,71.1L561.2,61.1M566.6,80.6L559.9,71.2L566.9,62.0M572.3,79.9L565.6,71.3L572.6,62.9M578.1,79.0L571.3,71.4L578.3,63.9M583.8,78.1L577.0,71.4L583.9,65.0M589.5,77.2L582.7,71.5L589.6,66.1M595.2,76.2L588.4,71.6L595.3,67.2M600.9,75.1L594.1,71.7L601.0,68.4M606.6,74.1L599.8,71.8L606.6,69.6" fill="none" stroke="#6a9a58" stroke-opacity="0.45" stroke-width="1"/><path d="M470.0,70.0 L610.6,71.9" stroke="#1a2a18" stroke-opacity="0.35" stroke-width="1.2"/><path d="M470.0,85.0 L474.6,88.4 L475.4,89.3 L480.0,91.1 L480.8,92.1 L485.6,93.4 L486.3,94.5 L491.1,95.2 L491.9,96.4 L496.7,96.8 L497.4,98.1 L502.3,98.1 L503.0,99.4 L507.9,99.1 L508.6,100.5 L513.5,99.9 L514.2,101.3 L519.1,100.5 L519.9,101.9 L524.8,100.9 L525.5,102.2 L530.4,101.1 L531.2,102.4 L536.1,101.2 L536.9,102.4 L541.8,101.0 L542.6,102.2 L547.5,100.8 L548.3,101.8 L553.2,100.4 L554.0,101.4 L559.0,100.0 L559.8,100.8 L564.7,99.4 L565.5,100.1 L570.4,98.8 L571.2,99.4 L576.2,98.1 L577.0,98.5 L581.9,97.4 L582.7,97.7 L587.6,96.6 L588.5,96.8 L593.4,95.9 L594.2,95.9 L599.1,95.1 L600.0,95.0 L600.0,95.0 L599.2,94.8 L594.5,93.2 L593.6,93.1 L588.9,91.5 L588.0,91.5 L583.4,89.7 L582.5,89.9 L577.8,88.0 L576.9,88.3 L572.2,86.3 L571.4,86.7 L566.7,84.7 L565.8,85.2 L561.1,83.1 L560.2,83.8 L555.5,81.7 L554.6,82.5 L550.0,80.3 L549.0,81.2 L544.4,79.1 L543.4,80.1 L538.8,78.1 L537.8,79.2 L533.1,77.2 L532.2,78.3 L527.5,76.5 L526.6,77.7 L521.9,76.0 L520.9,77.2 L516.2,75.7 L515.3,76.9 L510.5,75.6 L509.6,76.8 L504.8,75.8 L503.9,77.0 L499.1,76.3 L498.2,77.4 L493.4,77.0 L492.4,78.1 L487.6,78.1 L486.7,79.1 L481.8,79.6 L480.9,80.5 L475.9,81.6 L475.0,82.3 L470.0,85.0Z" fill="#3c5d34" stroke="#5e8a50" stroke-width="0.9"/><path d="M475.4,89.1L470.0,85.0L475.9,81.8M480.8,91.8L474.5,85.3L481.8,79.9M486.4,94.1L480.2,85.8L487.6,78.5M491.9,96.0L485.8,86.2L493.3,77.5M497.5,97.5L491.5,86.7L499.1,76.8M503.0,98.8L497.1,87.1L504.8,76.4M508.7,99.9L502.8,87.5L510.5,76.2M514.3,100.7L508.4,88.0L516.2,76.3M519.9,101.2L514.1,88.4L521.8,76.6M525.6,101.6L519.7,88.8L527.5,77.1M531.3,101.8L525.4,89.3L533.1,77.8M536.9,101.8L531.0,89.7L538.7,78.7M542.6,101.6L536.7,90.1L544.3,79.7M548.3,101.3L542.3,90.6L549.9,80.9M554.1,100.9L548.0,91.0L555.5,82.2M559.8,100.3L553.7,91.4L561.1,83.6M565.5,99.7L559.3,91.9L566.7,85.1M571.3,99.0L565.0,92.3L572.2,86.6M577.0,98.3L570.6,92.7L577.8,88.2M582.8,97.5L576.3,93.2L583.3,89.9M588.5,96.7L581.9,93.6L588.9,91.6" fill="none" stroke="#6a9a58" stroke-opacity="0.45" stroke-width="1"/><path d="M470.0,85.0 L593.5,94.5" stroke="#1a2a18" stroke-opacity="0.35" stroke-width="1.2"/><path d="M500.0,10.0 L505.2,12.8 L506.1,13.6 L511.0,14.6 L512.0,15.5 L516.9,15.7 L517.8,16.7 L522.6,16.3 L523.6,17.3 L528.3,16.4 L529.3,17.4 L534.0,16.1 L535.0,17.2 L539.6,15.5 L540.6,16.5 L545.2,14.6 L546.2,15.5 L550.8,13.4 L551.7,14.1 L556.3,11.9 L557.2,12.5 L561.8,10.2 L562.7,10.7 L567.3,8.4 L568.2,8.8 L572.8,6.5 L573.7,6.7 L578.3,4.5 L579.1,4.5 L583.7,2.4 L584.6,2.2 L589.2,0.3 L590.0,0.0 L590.0,0.0 L589.1,-0.1 L584.2,-1.0 L583.3,-1.0 L578.4,-2.0 L577.6,-1.8 L572.6,-2.9 L571.8,-2.5 L566.8,-3.8 L566.0,-3.2 L561.0,-4.5 L560.3,-3.8 L555.3,-5.0 L554.5,-4.2 L549.5,-5.4 L548.8,-4.4 L543.8,-5.5 L543.1,-4.4 L538.2,-5.2 L537.4,-4.1 L532.5,-4.7 L531.8,-3.5 L527.0,-3.7 L526.2,-2.5 L521.4,-2.3 L520.7,-1.1 L515.9,-0.4 L515.2,0.8 L510.5,2.0 L509.8,3.1 L505.2,5.2 L504.4,6.1 L500.0,10.0Z" fill="#3a5a32" stroke="#5e8a50" stroke-width="0.9"/><path d="M506.1,13.3L500.0,10.0L505.2,5.4M512.0,15.1L504.5,9.5L510.5,2.4M517.8,16.2L510.1,8.9L516.0,0.0M523.5,16.8L515.8,8.2L521.5,-1.8M529.2,16.9L521.4,7.6L527.0,-3.2M534.9,16.6L527.0,7.0L532.6,-4.1M540.5,15.9L532.6,6.4L538.2,-4.7M546.1,14.9L538.2,5.8L543.9,-4.9M551.7,13.6L543.9,5.1L549.6,-4.9M557.2,12.1L549.5,4.5L555.3,-4.6M562.7,10.4L555.1,3.9L561.1,-4.1M568.2,8.4L560.8,3.2L566.8,-3.4M573.6,6.4L566.4,2.6L572.6,-2.7M579.1,4.3L572.0,2.0L578.4,-1.8" fill="none" stroke="#6a9a58" stroke-opacity="0.45" stroke-width="1"/><path d="M500.0,10.0 L585.5,0.5" stroke="#1a2a18" stroke-opacity="0.35" stroke-width="1.2"/><path d="M528,19 C560,13 620,13 672,25" stroke="#5a5c48" stroke-width="11" fill="none" stroke-linecap="round"/><path d="M530,15 C560,10 620,10 670,21" stroke="#76735c" stroke-width="3" fill="none" stroke-linecap="round" opacity="0.8"/><path d="M735.0,95.0 L731.5,88.4 L731.1,86.9 L726.6,82.5 L726.2,80.9 L721.2,77.5 L720.8,75.8 L715.5,73.1 L715.2,71.4 L709.5,69.3 L709.2,67.6 L703.3,66.1 L703.0,64.3 L696.9,63.2 L696.5,61.6 L690.3,60.8 L689.9,59.3 L683.6,58.7 L683.0,57.4 L676.7,56.9 L676.1,55.7 L669.7,55.3 L669.0,54.3 L662.6,53.9 L661.8,53.1 L655.4,52.6 L654.6,52.0 L648.3,51.4 L647.3,51.0 L641.1,50.2 L640.0,50.0 L640.0,50.0 L640.8,50.7 L645.4,55.0 L646.3,55.5 L650.8,60.0 L651.8,60.3 L656.2,64.9 L657.3,65.0 L661.7,69.7 L662.9,69.6 L667.3,74.3 L668.6,74.0 L673.0,78.6 L674.3,78.2 L678.8,82.7 L680.2,82.1 L684.8,86.4 L686.3,85.7 L691.0,89.7 L692.6,88.8 L697.5,92.4 L699.0,91.6 L704.2,94.6 L705.7,93.8 L711.2,96.2 L712.7,95.4 L718.5,97.1 L720.0,96.4 L726.3,97.1 L727.7,96.5 L735.0,95.0Z" fill="#50744a" stroke="#6a8f62" stroke-width="0.9"/><path d="M735.0,95.0 L644.8,52.2" stroke="#1a2a18" stroke-opacity="0.35" stroke-width="1.2"/><path d="M700.0,-20.0 L693.5,-16.2 L692.1,-15.6 L687.7,-10.8 L686.1,-10.3 L682.7,-4.9 L681.2,-4.4 L678.5,1.4 L677.0,1.8 L675.0,7.9 L673.5,8.4 L671.9,14.7 L670.6,15.3 L669.4,21.8 L668.2,22.4 L667.1,29.0 L666.1,29.7 L665.2,36.4 L664.4,37.2 L663.5,43.8 L662.8,44.7 L661.8,51.3 L661.4,52.4 L660.2,58.9 L660.0,60.0 L660.0,60.0 L660.8,59.1 L665.3,54.3 L665.8,53.3 L670.5,48.6 L670.9,47.5 L675.6,42.8 L675.8,41.6 L680.6,36.9 L680.5,35.7 L685.2,30.9 L685.0,29.6 L689.4,24.7 L689.1,23.3 L693.2,18.2 L692.7,16.8 L696.3,11.5 L695.8,10.0 L698.8,4.4 L698.3,2.9 L700.5,-3.1 L700.0,-4.6 L701.3,-11.0 L700.9,-12.5 L700.0,-20.0Z" fill="#4a6a45" stroke="#62845a" stroke-width="0.9"/><path d="M700.0,-20.0 L662.0,56.0" stroke="#1a2a18" stroke-opacity="0.35" stroke-width="1.2"/><path d="M690.0,-25.0 L695.7,-20.3 L696.7,-19.1 L702.6,-16.5 L703.6,-15.1 L709.5,-13.4 L710.5,-11.8 L716.4,-10.7 L717.4,-8.9 L723.4,-8.4 L724.3,-6.4 L730.3,-6.4 L731.3,-4.3 L737.3,-4.6 L738.3,-2.5 L744.3,-3.2 L745.3,-1.0 L751.4,-2.0 L752.3,0.2 L758.4,-1.1 L759.3,1.2 L765.4,-0.4 L766.4,1.9 L772.5,0.1 L773.4,2.3 L779.6,0.3 L780.5,2.5 L786.7,0.4 L787.6,2.6 L793.8,0.3 L794.7,2.4 L800.9,0.1 L801.8,2.0 L808.0,-0.3 L809.0,1.5 L815.2,-0.8 L816.1,0.9 L822.3,-1.5 L823.3,0.1 L829.4,-2.2 L830.4,-0.8 L836.6,-3.1 L837.6,-1.9 L843.7,-4.0 L844.7,-3.0 L850.9,-5.0 L851.9,-4.1 L858.1,-6.1 L859.1,-5.4 L865.2,-7.2 L866.3,-6.7 L872.4,-8.3 L873.5,-8.0 L879.6,-9.5 L880.6,-9.3 L886.8,-10.7 L887.8,-10.7 L893.9,-11.8 L895.0,-12.0 L895.0,-12.0 L894.0,-12.3 L888.0,-14.2 L887.0,-14.4 L881.1,-16.5 L880.0,-16.4 L874.1,-18.7 L873.1,-18.5 L867.2,-20.9 L866.1,-20.5 L860.2,-23.1 L859.1,-22.5 L853.3,-25.2 L852.1,-24.5 L846.3,-27.3 L845.2,-26.4 L839.3,-29.3 L838.2,-28.2 L832.3,-31.2 L831.2,-30.0 L825.4,-33.0 L824.2,-31.6 L818.4,-34.7 L817.2,-33.2 L811.4,-36.3 L810.2,-34.6 L804.4,-37.7 L803.2,-35.9 L797.3,-38.9 L796.2,-37.0 L790.3,-40.0 L789.1,-38.0 L783.3,-40.9 L782.1,-38.8 L776.2,-41.5 L775.0,-39.4 L769.1,-42.0 L767.9,-39.9 L762.1,-42.2 L760.9,-40.0 L755.0,-42.2 L753.8,-40.0 L747.8,-41.8 L746.6,-39.7 L740.7,-41.2 L739.5,-39.2 L733.6,-40.3 L732.4,-38.4 L726.4,-39.1 L725.2,-37.3 L719.2,-37.5 L718.0,-35.9 L712.0,-35.6 L710.8,-34.1 L704.7,-33.1 L703.6,-31.8 L697.4,-30.0 L696.3,-29.0 L690.0,-25.0Z" fill="#465c44" stroke="#5c7459" stroke-width="0.9"/><path d="M696.7,-19.4L690.0,-25.0L697.4,-29.7M703.6,-15.5L695.7,-24.6L704.7,-32.7M710.5,-12.3L702.7,-24.2L711.9,-35.0M717.4,-9.6L709.8,-23.7L719.1,-36.8M724.4,-7.2L716.9,-23.3L726.3,-38.3M731.3,-5.2L723.9,-22.8L733.5,-39.4M738.3,-3.4L731.0,-22.4L740.7,-40.3M745.3,-2.0L738.1,-22.0L747.8,-40.8M752.3,-0.8L745.1,-21.5L754.9,-41.1M759.4,0.1L752.2,-21.1L762.0,-41.1M766.4,0.8L759.3,-20.6L769.1,-40.9M773.5,1.2L766.3,-20.2L776.1,-40.5M780.6,1.5L773.4,-19.7L783.2,-39.8M787.7,1.5L780.5,-19.3L790.2,-38.9M794.8,1.4L787.6,-18.8L797.3,-37.9M801.9,1.0L794.6,-18.4L804.3,-36.7M809.0,0.6L801.7,-17.9L811.3,-35.3M816.2,-0.0L808.8,-17.5L818.3,-33.8M823.3,-0.8L815.8,-17.0L825.3,-32.2M830.5,-1.6L822.9,-16.6L832.3,-30.5M837.6,-2.5L830.0,-16.1L839.3,-28.6M844.8,-3.6L837.0,-15.7L846.3,-26.7M852.0,-4.7L844.1,-15.2L853.2,-24.7M859.1,-5.8L851.2,-14.8L860.2,-22.7M866.3,-7.0L858.2,-14.3L867.2,-20.6M873.5,-8.2L865.3,-13.9L874.1,-18.4M880.6,-9.5L872.4,-13.4L881.1,-16.3" fill="none" stroke="#61795d" stroke-opacity="0.45" stroke-width="1"/><path d="M690.0,-25.0 L884.8,-12.7" stroke="#1a2a18" stroke-opacity="0.35" stroke-width="1.2"/><path d="M690.0,0.0 L695.4,5.0 L696.3,6.2 L702.0,9.2 L702.8,10.6 L708.6,12.8 L709.4,14.4 L715.3,16.0 L716.1,17.9 L722.0,18.9 L722.8,21.0 L728.8,21.5 L729.5,23.7 L735.5,23.9 L736.3,26.3 L742.3,26.1 L743.1,28.6 L749.2,28.1 L749.9,30.6 L756.0,29.8 L756.8,32.5 L762.9,31.4 L763.7,34.1 L769.8,32.8 L770.6,35.6 L776.8,34.1 L777.5,36.8 L783.7,35.1 L784.4,37.9 L790.7,36.1 L791.4,38.8 L797.7,36.8 L798.4,39.5 L804.7,37.5 L805.4,40.1 L811.7,38.0 L812.4,40.5 L818.7,38.3 L819.5,40.8 L825.8,38.6 L826.5,41.0 L832.8,38.7 L833.6,41.0 L839.9,38.7 L840.7,40.9 L847.0,38.7 L847.8,40.8 L854.1,38.5 L854.9,40.5 L861.2,38.3 L862.0,40.1 L868.3,38.0 L869.2,39.7 L875.4,37.7 L876.3,39.2 L882.6,37.3 L883.5,38.6 L889.7,36.8 L890.6,38.0 L896.8,36.3 L897.8,37.3 L904.0,35.7 L904.9,36.6 L911.1,35.2 L912.1,35.9 L918.3,34.6 L919.3,35.1 L925.5,34.0 L926.5,34.4 L932.6,33.3 L933.6,33.6 L939.8,32.7 L940.8,32.8 L946.9,32.1 L948.0,32.0 L948.0,32.0 L947.0,31.6 L941.2,29.5 L940.2,29.3 L934.5,27.0 L933.4,26.9 L927.7,24.5 L926.6,24.6 L920.9,21.9 L919.8,22.3 L914.2,19.5 L913.0,19.9 L907.4,17.0 L906.2,17.6 L900.6,14.6 L899.4,15.4 L893.8,12.2 L892.6,13.1 L887.0,9.8 L885.8,10.9 L880.2,7.5 L879.0,8.8 L873.4,5.3 L872.2,6.7 L866.6,3.1 L865.4,4.7 L859.8,1.0 L858.5,2.7 L853.0,-1.0 L851.7,0.8 L846.1,-2.9 L844.8,-1.0 L839.3,-4.7 L838.0,-2.6 L832.4,-6.4 L831.1,-4.2 L825.5,-7.9 L824.2,-5.7 L818.6,-9.4 L817.3,-7.1 L811.7,-10.7 L810.3,-8.3 L804.8,-11.8 L803.4,-9.4 L797.8,-12.8 L796.4,-10.4 L790.8,-13.7 L789.4,-11.2 L783.8,-14.3 L782.5,-11.8 L776.8,-14.8 L775.4,-12.3 L769.8,-15.1 L768.4,-12.7 L762.7,-15.2 L761.3,-12.8 L755.6,-15.1 L754.2,-12.8 L748.5,-14.7 L747.1,-12.5 L741.3,-14.2 L740.0,-12.1 L734.1,-13.4 L732.8,-11.4 L726.9,-12.3 L725.6,-10.5 L719.7,-10.9 L718.4,-9.3 L712.4,-9.3 L711.1,-7.8 L705.0,-7.2 L703.8,-6.0 L697.6,-4.5 L696.5,-3.5 L690.0,0.0Z" fill="#4c634a" stroke="#627b5f" stroke-width="0.9"/><path d="M696.3,6.0L690.0,0.0L697.6,-4.2M702.9,10.2L695.6,0.7L705.0,-6.7M709.5,13.9L702.6,1.6L712.3,-8.7M716.2,17.1L709.5,2.4L719.6,-10.2M722.9,20.1L716.5,3.3L726.8,-11.5M729.7,22.8L723.5,4.2L734.0,-12.4M736.4,25.3L730.4,5.0L741.2,-13.2M743.2,27.5L737.4,5.9L748.3,-13.7M750.1,29.5L744.4,6.7L755.4,-13.9M756.9,31.3L751.4,7.6L762.5,-14.0M763.8,32.9L758.3,8.5L769.6,-13.9M770.7,34.3L765.3,9.3L776.6,-13.5M777.6,35.5L772.3,10.2L783.7,-13.0M784.6,36.6L779.3,11.1L790.7,-12.4M791.6,37.5L786.2,11.9L797.6,-11.5M798.5,38.2L793.2,12.8L804.6,-10.5M805.6,38.8L800.2,13.7L811.5,-9.4M812.6,39.3L807.1,14.5L818.5,-8.1M819.6,39.6L814.1,15.4L825.4,-6.7M826.7,39.8L821.1,16.3L832.2,-5.2M833.7,39.9L828.1,17.1L839.1,-3.5M840.8,39.8L835.0,18.0L846.0,-1.8M847.9,39.7L842.0,18.9L852.8,0.1M855.0,39.5L849.0,19.7L859.7,2.0M862.1,39.2L856.0,20.6L866.5,4.0M869.3,38.8L862.9,21.4L873.3,6.1M876.4,38.4L869.9,22.3L880.1,8.3M883.5,37.9L876.9,23.2L886.9,10.5M890.7,37.4L883.8,24.0L893.7,12.8M897.8,36.8L890.8,24.9L900.5,15.1M905.0,36.1L897.8,25.8L907.3,17.5M912.2,35.5L904.8,26.6L914.1,19.9M919.3,34.8L911.7,27.5L920.9,22.3M926.5,34.1L918.7,28.4L927.7,24.7M933.7,33.4L925.7,29.2L934.4,27.1" fill="none" stroke="#657e62" stroke-opacity="0.45" stroke-width="1"/><path d="M690.0,0.0 L935.1,30.4" stroke="#1a2a18" stroke-opacity="0.35" stroke-width="1.2"/><path d="M690.0,28.0 L694.6,33.9 L695.3,35.2 L700.5,39.1 L701.1,40.7 L706.5,43.7 L707.1,45.5 L712.6,48.0 L713.2,50.0 L718.9,51.9 L719.3,54.1 L725.2,55.6 L725.6,57.9 L731.6,59.0 L732.0,61.5 L738.0,62.2 L738.4,64.8 L744.5,65.2 L744.8,67.9 L751.1,68.0 L751.4,70.8 L757.7,70.6 L758.0,73.4 L764.4,73.1 L764.7,75.9 L771.1,75.3 L771.4,78.1 L777.8,77.4 L778.1,80.2 L784.6,79.4 L785.0,82.1 L791.5,81.1 L791.8,83.9 L798.4,82.8 L798.7,85.5 L805.3,84.3 L805.7,86.9 L812.3,85.7 L812.7,88.2 L819.3,87.0 L819.7,89.4 L826.3,88.1 L826.7,90.5 L833.4,89.2 L833.8,91.4 L840.4,90.2 L840.9,92.3 L847.5,91.0 L848.1,93.0 L854.7,91.9 L855.3,93.7 L861.8,92.6 L862.5,94.3 L869.0,93.3 L869.7,94.8 L876.2,93.9 L876.9,95.3 L883.4,94.5 L884.1,95.7 L890.6,95.0 L891.4,96.1 L897.8,95.6 L898.6,96.5 L905.0,96.1 L905.9,96.8 L912.2,96.5 L913.2,97.1 L919.5,97.0 L920.4,97.4 L926.7,97.5 L927.7,97.7 L933.9,97.9 L935.0,98.0 L935.0,98.0 L934.0,97.5 L928.7,94.4 L927.7,94.1 L922.3,90.8 L921.3,90.6 L916.0,87.2 L914.9,87.2 L909.7,83.7 L908.5,83.8 L903.3,80.1 L902.1,80.4 L897.0,76.6 L895.7,77.0 L890.6,73.1 L889.3,73.7 L884.2,69.6 L882.9,70.4 L877.8,66.2 L876.5,67.1 L871.4,62.8 L870.0,63.9 L865.0,59.5 L863.6,60.8 L858.6,56.3 L857.1,57.7 L852.1,53.2 L850.6,54.7 L845.6,50.2 L844.0,51.8 L839.1,47.2 L837.5,49.0 L832.5,44.4 L830.9,46.2 L826.0,41.7 L824.3,43.6 L819.3,39.1 L817.6,41.1 L812.7,36.7 L811.0,38.7 L806.0,34.4 L804.2,36.5 L799.2,32.2 L797.5,34.4 L792.4,30.2 L790.7,32.4 L785.6,28.4 L783.8,30.6 L778.7,26.8 L776.9,29.0 L771.7,25.4 L770.0,27.6 L764.7,24.1 L763.0,26.3 L757.7,23.1 L755.9,25.2 L750.5,22.3 L748.8,24.3 L743.3,21.7 L741.7,23.6 L736.1,21.4 L734.4,23.2 L728.7,21.3 L727.1,23.0 L721.3,21.6 L719.8,23.0 L713.8,22.1 L712.3,23.4 L706.1,23.1 L704.7,24.1 L698.3,24.6 L697.0,25.4 L690.0,28.0Z" fill="#4a6148" stroke="#5f785c" stroke-width="0.9"/><path d="M695.4,35.0L690.0,28.0L698.2,24.9M701.2,40.2L695.4,29.6L706.0,23.5M707.2,45.0L702.2,31.5L713.6,22.7M713.4,49.3L709.1,33.4L721.1,22.3M719.6,53.3L715.9,35.4L728.5,22.2M725.9,57.0L722.7,37.3L735.8,22.3M732.2,60.5L729.5,39.3L743.0,22.7M738.7,63.8L736.3,41.2L750.2,23.4M745.2,66.8L743.1,43.2L757.3,24.2M751.7,69.6L749.9,45.1L764.4,25.3M758.3,72.2L756.7,47.1L771.4,26.6M765.0,74.6L763.5,49.0L778.3,28.0M771.7,76.9L770.3,50.9L785.2,29.7M778.5,79.0L777.1,52.9L792.1,31.5M785.3,80.9L783.9,54.8L798.9,33.5M792.2,82.6L790.7,56.8L805.6,35.6M799.1,84.2L797.5,58.7L812.3,37.9M806.0,85.7L804.3,60.7L819.0,40.3M813.0,87.0L811.1,62.6L825.6,42.8M820.0,88.3L817.9,64.6L832.2,45.5M827.0,89.4L824.8,66.5L838.8,48.3M834.1,90.4L831.6,68.4L845.3,51.2M841.2,91.3L838.4,70.4L851.8,54.2M848.4,92.1L845.2,72.3L858.3,57.2M855.5,92.8L852.0,74.3L864.8,60.4M862.7,93.5L858.8,76.2L871.2,63.6M869.9,94.1L865.6,78.2L877.6,66.9M877.1,94.6L872.4,80.1L884.0,70.2M884.3,95.2L879.2,82.1L890.4,73.6M891.5,95.6L886.0,84.0L896.8,77.1M898.8,96.0L892.8,85.9L903.2,80.5M906.0,96.5L899.6,87.9L909.6,84.0M913.2,96.8L906.4,89.8L915.9,87.5M920.5,97.2L913.2,91.8L922.3,91.0" fill="none" stroke="#637c60" stroke-opacity="0.45" stroke-width="1"/><path d="M690.0,28.0 L922.8,94.5" stroke="#1a2a18" stroke-opacity="0.35" stroke-width="1.2"/><path d="M680.0,50.0 L684.1,56.4 L684.8,57.8 L689.7,62.1 L690.2,63.7 L695.5,67.1 L695.9,69.0 L701.4,71.7 L701.8,73.7 L707.5,75.9 L707.9,78.1 L713.7,79.8 L714.1,82.0 L720.1,83.3 L720.4,85.7 L726.5,86.6 L726.8,89.0 L733.1,89.6 L733.4,92.0 L739.7,92.3 L740.0,94.7 L746.5,94.8 L746.7,97.1 L753.3,97.1 L753.6,99.3 L760.2,99.1 L760.5,101.3 L767.1,101.0 L767.5,103.1 L774.2,102.7 L774.6,104.7 L781.2,104.3 L781.7,106.1 L788.4,105.7 L788.9,107.4 L795.6,107.0 L796.1,108.5 L802.8,108.2 L803.4,109.5 L810.0,109.3 L810.7,110.5 L817.3,110.3 L818.1,111.3 L824.6,111.3 L825.4,112.1 L831.9,112.2 L832.8,112.9 L839.2,113.1 L840.2,113.6 L846.6,114.0 L847.6,114.3 L853.9,114.9 L855.0,115.0 L855.0,115.0 L854.1,114.4 L848.9,110.7 L847.9,110.3 L842.9,106.4 L841.8,106.2 L836.8,102.1 L835.7,102.1 L830.7,97.9 L829.5,98.0 L824.6,93.7 L823.4,94.0 L818.5,89.5 L817.2,90.0 L812.4,85.5 L811.0,86.1 L806.2,81.5 L804.7,82.3 L800.0,77.6 L798.5,78.6 L793.7,73.9 L792.1,75.0 L787.3,70.3 L785.7,71.5 L781.0,66.9 L779.3,68.2 L774.5,63.7 L772.8,65.1 L768.0,60.7 L766.2,62.2 L761.3,57.9 L759.6,59.4 L754.6,55.3 L752.9,56.9 L747.8,53.0 L746.1,54.7 L740.9,51.0 L739.1,52.7 L733.9,49.3 L732.1,50.9 L726.7,48.0 L725.0,49.5 L719.4,46.9 L717.8,48.3 L712.0,46.3 L710.4,47.5 L704.5,46.0 L702.9,47.1 L696.7,46.3 L695.2,47.2 L688.7,47.2 L687.3,47.9 L680.0,50.0Z" fill="#455c43" stroke="#5a7357" stroke-width="0.9"/><path d="M684.9,57.5L680.0,50.0L688.6,47.5M690.4,63.3L685.4,52.0L696.5,46.7M696.1,68.4L692.1,54.5L704.2,46.6M702.1,73.0L698.8,57.0L711.8,47.0M708.2,77.3L705.6,59.5L719.1,47.7M714.4,81.2L712.3,62.0L726.4,48.8M720.7,84.8L719.0,64.5L733.5,50.2M727.2,88.0L725.8,67.0L740.5,52.0M733.7,91.0L732.5,69.5L747.4,54.0M740.4,93.7L739.2,72.0L754.2,56.3M747.1,96.1L746.0,74.5L761.0,58.9M753.9,98.4L752.7,77.0L767.6,61.6M760.9,100.4L759.4,79.5L774.1,64.6M767.8,102.2L766.2,82.0L780.6,67.8M774.9,103.8L772.9,84.5L787.0,71.2M782.0,105.3L779.6,87.0L793.4,74.7M789.2,106.6L786.3,89.5L799.7,78.4M796.4,107.8L793.1,92.0L805.9,82.2M803.6,108.9L799.8,94.5L812.1,86.1M810.9,110.0L806.5,97.0L818.3,90.0M818.2,110.9L813.3,99.5L824.5,94.1M825.6,111.8L820.0,102.0L830.6,98.2M832.9,112.6L826.7,104.5L836.7,102.4M840.3,113.4L833.5,107.0L842.8,106.6" fill="none" stroke="#5e775b" stroke-opacity="0.45" stroke-width="1"/><path d="M680.0,50.0 L846.2,111.8" stroke="#1a2a18" stroke-opacity="0.35" stroke-width="1.2"/><path d="M-40.0,285.0 L-31.6,289.4 L-30.0,290.6 L-22.5,291.6 L-20.8,293.0 L-13.8,292.3 L-12.1,293.8 L-5.3,291.9 L-3.6,293.5 L2.9,290.6 L4.5,292.0 L10.8,288.3 L12.4,289.7 L18.6,285.4 L20.2,286.5 L26.2,281.8 L27.7,282.6 L33.7,277.7 L35.1,278.3 L41.1,273.3 L42.4,273.5 L48.4,268.5 L49.6,268.5 L55.7,263.7 L56.8,263.2 L62.9,258.7 L64.0,258.0 L64.0,258.0 L62.7,257.9 L55.2,256.9 L53.9,257.1 L46.4,255.9 L45.2,256.4 L37.6,255.0 L36.5,255.8 L28.9,254.3 L27.9,255.5 L20.3,254.1 L19.4,255.6 L11.8,254.4 L11.0,256.2 L3.6,255.4 L2.8,257.4 L-4.5,257.2 L-5.3,259.3 L-12.4,259.9 L-13.1,262.1 L-19.9,263.7 L-20.6,265.8 L-27.2,268.7 L-27.9,270.7 L-34.0,275.2 L-34.8,277.0 L-40.0,285.0Z" fill="#526d4e" stroke="#68855f" stroke-width="0.9"/><path d="M-30.1,290.3L-40.0,285.0L-33.9,275.6M-21.0,292.4L-33.6,283.3L-27.0,269.3M-12.3,293.1L-25.6,281.3L-19.7,264.4M-3.9,292.6L-17.6,279.2L-12.1,260.8M4.3,291.2L-9.6,277.1L-4.3,258.1M12.2,288.8L-1.6,275.0L3.8,256.3M20.0,285.7L6.4,273.0L12.0,255.2M27.5,281.9L14.4,270.9L20.5,254.8M35.0,277.7L22.4,268.8L29.0,254.9M42.3,273.0L30.4,266.7L37.7,255.4M49.6,268.1L38.4,264.6L46.4,256.2" fill="none" stroke="#68855f" stroke-opacity="0.45" stroke-width="1"/><path d="M-40.0,285.0 L58.8,259.4" stroke="#1a2a18" stroke-opacity="0.35" stroke-width="1.2"/><path d="M-80.0,470.0 L-65.8,473.0 L-62.7,474.2 L-52.9,472.9 L-49.3,474.5 L-41.4,471.3 L-37.5,473.3 L-30.9,468.7 L-26.7,470.9 L-21.3,465.2 L-16.9,467.7 L-12.5,460.9 L-8.0,463.5 L-4.4,455.9 L0.2,458.5 L3.0,450.2 L7.5,452.8 L9.7,443.9 L14.2,446.4 L15.9,437.0 L20.3,439.4 L21.6,429.6 L25.8,431.8 L26.8,421.7 L30.8,423.7 L31.6,413.4 L35.3,415.1 L36.0,404.7 L39.4,406.1 L40.1,395.7 L43.2,396.8 L43.9,386.4 L46.6,387.2 L47.4,376.9 L49.8,377.3 L50.8,367.2 L52.8,367.2 L54.1,357.3 L55.7,357.0 L57.3,347.4 L58.5,346.7 L60.4,337.5 L61.3,336.3 L63.5,327.5 L64.0,326.0 L64.0,326.0 L62.5,326.5 L53.7,328.7 L52.5,329.6 L43.3,331.5 L42.6,332.7 L33.0,334.3 L32.7,335.9 L22.8,337.2 L22.8,339.2 L12.7,340.2 L13.1,342.6 L2.8,343.4 L3.6,346.1 L-6.8,346.8 L-5.7,349.9 L-16.1,350.6 L-14.7,354.0 L-25.1,354.7 L-23.4,358.4 L-33.7,359.2 L-31.7,363.2 L-41.8,364.2 L-39.6,368.4 L-49.4,369.7 L-47.0,374.1 L-56.4,375.8 L-53.9,380.3 L-62.8,382.5 L-60.2,387.0 L-68.5,389.8 L-65.9,394.4 L-73.5,398.0 L-70.9,402.5 L-77.7,406.9 L-75.2,411.3 L-80.9,416.7 L-78.7,420.9 L-83.3,427.5 L-81.3,431.4 L-84.5,439.3 L-82.9,442.9 L-84.2,452.7 L-83.0,455.8 L-80.0,470.0Z" fill="#566f50" stroke="#6a8664" stroke-width="0.9"/><path d="M-63.2,473.7L-80.0,470.0L-83.7,453.2M-50.2,473.6L-74.8,464.8L-83.6,440.2M-38.6,472.1L-68.2,458.2L-82.1,428.6M-28.0,469.6L-61.7,451.7L-79.6,418.0M-18.4,466.1L-55.1,445.1L-76.1,408.4M-9.6,461.9L-48.6,438.6L-71.9,399.6M-1.6,456.8L-42.0,432.0L-66.8,391.6M5.8,451.1L-35.5,425.5L-61.1,384.2M12.5,444.7L-28.9,418.9L-54.7,377.5M18.6,437.7L-22.4,412.4L-47.7,371.4M24.1,430.1L-15.9,405.9L-40.1,365.9M29.2,422.1L-9.3,399.3L-32.1,360.8M33.8,413.6L-2.8,392.8L-23.6,356.2M38.0,404.7L3.8,386.2L-14.7,352.0M41.9,395.5L10.3,379.7L-5.5,348.1M45.5,386.1L16.9,373.1L3.9,344.5M48.9,376.4L23.4,366.6L13.6,341.1M52.1,366.5L30.0,360.0L23.5,337.9M55.2,356.4L36.5,353.5L33.6,334.8M58.1,346.3L43.1,346.9L43.7,331.9" fill="none" stroke="#6d8a66" stroke-opacity="0.45" stroke-width="1"/><path d="M-80.0,470.0 L56.8,333.2" stroke="#1a2a18" stroke-opacity="0.35" stroke-width="1.2"/><path d="M130.0,512.0 L123.5,507.9 L122.3,506.9 L116.0,505.4 L114.8,504.2 L108.6,503.9 L107.4,502.6 L101.2,503.3 L100.0,502.0 L93.9,503.4 L92.7,502.1 L86.7,504.1 L85.5,503.0 L79.5,505.4 L78.4,504.4 L72.4,507.1 L71.3,506.3 L65.3,509.2 L64.2,508.6 L58.2,511.6 L57.1,511.3 L51.2,514.2 L50.1,514.1 L44.1,516.9 L43.0,517.0 L37.1,519.6 L36.0,520.0 L36.0,520.0 L37.1,520.2 L43.4,521.7 L44.5,521.7 L50.9,523.5 L51.9,523.2 L58.3,525.0 L59.3,524.5 L65.7,526.4 L66.7,525.7 L73.1,527.5 L74.1,526.6 L80.4,528.2 L81.4,527.1 L87.7,528.4 L88.7,527.1 L94.9,528.0 L95.9,526.6 L102.1,526.9 L103.1,525.5 L109.3,525.1 L110.2,523.6 L116.3,522.3 L117.3,520.9 L123.3,518.4 L124.2,517.1 L130.0,512.0Z" fill="#4a6446" stroke="#5f7d5a" stroke-width="0.9"/><path d="M130.0,512.0 L40.7,519.6" stroke="#1a2a18" stroke-opacity="0.35" stroke-width="1.2"/><path d="M20.0,600.0 L34.3,605.1 L37.4,606.7 L47.3,606.4 L50.7,608.4 L58.8,605.5 L62.4,607.8 L68.9,603.0 L72.6,605.4 L77.9,599.1 L81.6,601.5 L85.9,594.0 L89.5,596.3 L93.1,587.7 L96.5,589.7 L99.4,580.4 L102.6,582.2 L105.1,572.3 L108.0,573.7 L110.3,563.5 L112.8,564.4 L115.0,554.1 L117.1,554.6 L119.3,544.3 L121.1,544.2 L123.5,534.2 L124.8,533.6 L127.4,523.9 L128.4,522.8 L131.4,513.5 L132.0,512.0 L132.0,512.0 L130.4,512.2 L120.6,512.9 L119.4,513.6 L109.3,513.8 L108.4,515.1 L98.1,515.0 L97.6,516.7 L87.1,516.4 L87.1,518.6 L76.5,518.3 L76.8,520.9 L66.4,520.7 L67.1,523.9 L56.9,524.0 L57.8,527.5 L48.1,528.1 L49.2,531.9 L40.1,533.3 L41.4,537.4 L33.1,539.8 L34.5,543.9 L27.2,547.6 L28.6,551.8 L22.4,557.0 L23.8,561.0 L19.1,568.2 L20.3,571.9 L17.6,581.5 L18.4,584.9 L20.0,600.0Z" fill="#42593f" stroke="#587355" stroke-width="0.9"/><path d="M36.9,606.1L20.0,600.0L18.1,582.2M49.9,607.4L26.0,595.3L19.9,569.2M61.4,606.5L33.4,589.4L23.4,558.3M71.4,604.0L40.9,583.6L28.3,549.1M80.4,600.0L48.4,577.7L34.3,541.3M88.3,594.7L55.8,571.8L41.3,534.9M95.3,588.2L63.3,566.0L49.3,529.7M101.4,580.7L70.8,560.1L58.0,525.4M107.0,572.3L78.2,554.2L67.4,522.1M111.9,563.3L85.7,548.4L77.4,519.4M116.4,553.6L93.2,542.5L87.9,517.3M120.5,543.5L100.6,536.6L98.7,515.7M124.4,533.1L108.1,530.8L109.7,514.3" fill="none" stroke="#5d7a58" stroke-opacity="0.45" stroke-width="1"/><path d="M20.0,600.0 L126.4,516.4" stroke="#1a2a18" stroke-opacity="0.35" stroke-width="1.2"/><path d="M115.0,610.0 L127.5,611.5 L130.2,612.3 L139.2,609.9 L142.1,610.9 L149.4,606.9 L152.5,608.1 L158.6,602.7 L161.8,604.0 L166.9,597.6 L170.1,598.9 L174.4,591.5 L177.5,592.7 L181.1,584.7 L184.0,585.7 L187.2,577.2 L189.9,578.0 L192.7,569.1 L195.2,569.7 L197.8,560.5 L200.0,560.8 L202.5,551.5 L204.4,551.4 L206.9,542.2 L208.5,541.8 L211.2,532.7 L212.4,532.0 L215.3,523.1 L216.2,522.0 L219.4,513.4 L220.0,512.0 L220.0,512.0 L218.5,512.5 L209.8,515.1 L208.6,515.9 L199.6,518.2 L198.7,519.4 L189.5,521.4 L189.0,523.0 L179.6,524.8 L179.4,526.7 L170.0,528.6 L170.1,530.8 L160.8,532.7 L161.2,535.3 L152.1,537.4 L152.7,540.3 L144.0,542.8 L144.8,545.8 L136.5,548.9 L137.5,552.0 L129.9,555.8 L131.0,559.1 L124.2,563.7 L125.3,567.0 L119.5,572.7 L120.5,575.9 L115.9,582.9 L116.7,585.9 L113.8,594.7 L114.4,597.4 L115.0,610.0Z" fill="#48614a" stroke="#5f7b5a" stroke-width="0.9"/><path d="M129.8,611.8L115.0,610.0L114.2,595.1M141.4,610.2L120.6,604.8L116.6,583.6M151.7,607.2L127.6,598.2L120.3,573.6M160.9,603.0L134.6,591.7L125.1,564.7M169.1,597.8L141.6,585.2L130.9,556.9M176.4,591.6L148.6,578.6L137.6,550.0M183.0,584.7L155.6,572.1L145.0,543.9M189.0,577.0L162.6,565.6L153.0,538.5M194.4,568.7L169.6,559.0L161.6,533.7M199.3,560.0L176.6,552.5L170.7,529.4M203.8,550.8L183.6,546.0L180.2,525.5M208.1,541.3L190.6,539.4L189.9,521.9M212.1,531.6L197.6,532.9L199.9,518.5" fill="none" stroke="#62805c" stroke-opacity="0.45" stroke-width="1"/><path d="M115.0,610.0 L214.8,516.9" stroke="#1a2a18" stroke-opacity="0.35" stroke-width="1.2"/><path d="M190.0,610.0 L202.0,611.7 L204.5,612.4 L213.2,610.4 L216.0,611.5 L223.2,607.8 L226.2,609.1 L232.3,604.2 L235.4,605.6 L240.6,599.6 L243.7,601.0 L248.1,594.2 L251.2,595.6 L255.0,588.1 L257.9,589.4 L261.3,581.3 L264.1,582.4 L267.1,574.0 L269.7,574.8 L272.4,566.2 L274.8,566.7 L277.4,557.9 L279.5,558.2 L282.1,549.4 L283.9,549.3 L286.6,540.5 L288.1,540.2 L290.9,531.6 L292.1,530.9 L295.1,522.5 L296.1,521.4 L299.4,513.4 L300.0,512.0 L300.0,512.0 L298.6,512.5 L290.2,514.8 L289.0,515.6 L280.4,517.6 L279.5,518.8 L270.6,520.6 L270.1,522.0 L261.1,523.7 L260.8,525.5 L251.7,527.0 L251.8,529.2 L242.7,530.8 L243.0,533.2 L234.1,534.9 L234.6,537.6 L225.9,539.6 L226.7,542.5 L218.3,544.9 L219.2,548.0 L211.3,550.9 L212.3,554.1 L205.1,557.7 L206.1,561.0 L199.6,565.4 L200.6,568.6 L195.1,574.1 L196.0,577.2 L191.5,584.0 L192.2,586.9 L189.2,595.3 L189.7,597.9 L190.0,610.0Z" fill="#3c553a" stroke="#52704f" stroke-width="0.9"/><path d="M204.1,612.0L190.0,610.0L189.6,595.7M215.4,610.8L195.5,605.1L192.1,584.7M225.4,608.2L202.4,599.0L195.8,575.0M234.5,604.6L209.2,592.9L200.5,566.4M242.7,600.0L216.1,586.7L206.0,558.8M250.2,594.5L223.0,580.6L212.3,552.0M256.9,588.3L229.9,574.5L219.3,546.0M263.1,581.3L236.8,568.4L226.9,540.7M268.8,573.9L243.6,562.2L235.0,535.9M274.0,565.8L250.5,556.1L243.5,531.7M278.8,557.4L257.4,550.0L252.4,527.8M283.4,548.7L264.2,543.9L261.6,524.3M287.7,539.7L271.1,537.7L271.1,521.1M291.8,530.5L278.0,531.6L280.7,518.0" fill="none" stroke="#56734f" stroke-opacity="0.45" stroke-width="1"/><path d="M190.0,610.0 L294.5,516.9" stroke="#1a2a18" stroke-opacity="0.35" stroke-width="1.2"/><path d="M250.0,610.0 L262.9,609.7 L265.7,610.0 L274.1,606.4 L277.2,606.9 L283.5,601.7 L286.8,602.5 L291.6,596.1 L295.0,596.8 L298.4,589.5 L301.8,590.3 L304.2,582.2 L307.4,582.8 L309.1,574.2 L312.0,574.6 L313.1,565.5 L315.8,565.8 L316.5,556.4 L318.8,556.4 L319.3,546.8 L321.2,546.5 L321.7,537.0 L323.2,536.4 L323.8,526.9 L325.0,526.0 L325.8,516.8 L326.5,515.5 L327.7,506.5 L328.0,505.0 L328.0,505.0 L326.6,505.7 L318.4,509.5 L317.4,510.5 L308.8,514.0 L308.2,515.3 L299.3,518.6 L299.2,520.3 L290.2,523.5 L290.5,525.4 L281.5,528.6 L282.1,530.9 L273.4,534.2 L274.4,536.7 L266.0,540.4 L267.3,543.1 L259.5,547.2 L261.0,550.1 L253.9,554.7 L255.6,557.7 L249.6,563.2 L251.3,566.2 L246.6,572.5 L248.2,575.5 L245.1,583.1 L246.5,585.9 L245.4,595.0 L246.6,597.6 L250.0,610.0Z" fill="#455f43" stroke="#5a7858" stroke-width="0.9"/><path d="M265.2,609.6L250.0,610.0L245.9,595.4M276.4,606.3L254.5,604.0L245.9,583.7M285.8,601.7L260.0,596.5L247.6,573.3M293.8,596.0L265.6,589.0L250.7,564.0M300.6,589.4L271.2,581.5L255.1,555.6M306.2,581.9L276.7,574.0L260.6,548.1M310.9,573.8L282.3,566.5L267.1,541.2M314.7,565.0L287.9,559.0L274.4,535.0M317.9,555.7L293.5,551.5L282.4,529.3M320.5,546.0L299.0,544.0L291.0,524.0M322.6,535.9L304.6,536.5L299.9,519.1M324.6,525.7L310.2,529.0L309.2,514.3" fill="none" stroke="#5d7a59" stroke-opacity="0.45" stroke-width="1"/><path d="M250.0,610.0 L324.1,510.2" stroke="#1a2a18" stroke-opacity="0.35" stroke-width="1.2"/><path d="M340.0,610.0 L354.7,613.4 L358.0,614.7 L367.7,613.2 L371.4,614.9 L378.8,611.3 L382.8,613.2 L388.5,608.0 L392.6,610.0 L396.9,603.5 L401.0,605.5 L404.1,597.9 L408.2,599.9 L410.4,591.3 L414.3,593.2 L415.8,583.9 L419.4,585.5 L420.3,575.7 L423.7,577.1 L424.2,566.9 L427.2,567.9 L427.6,557.6 L430.2,558.2 L430.5,547.8 L432.6,548.0 L433.0,537.8 L434.7,537.5 L435.3,527.5 L436.6,526.8 L437.5,517.0 L438.3,515.9 L439.7,506.6 L440.0,505.0 L440.0,505.0 L438.4,505.4 L429.2,507.2 L428.1,508.1 L418.4,509.5 L417.8,510.8 L407.8,511.9 L407.6,513.6 L397.4,514.5 L397.7,516.6 L387.3,517.4 L388.1,520.0 L377.8,520.8 L378.9,523.8 L368.8,524.8 L370.3,528.1 L360.6,529.5 L362.4,533.1 L353.2,535.0 L355.2,538.8 L346.8,541.4 L349.0,545.3 L341.5,548.8 L343.8,552.9 L337.4,557.5 L339.6,561.5 L334.7,567.4 L336.8,571.3 L333.6,578.9 L335.4,582.5 L334.5,592.2 L335.9,595.4 L340.0,610.0Z" fill="#47624a" stroke="#5d7a5b" stroke-width="0.9"/><path d="M357.4,614.1L340.0,610.0L335.1,592.8M370.4,614.0L345.0,604.8L334.6,579.8M381.6,612.0L351.2,598.2L335.9,568.6M391.2,608.7L357.5,591.6L338.8,558.8M399.5,604.1L363.8,585.1L343.0,550.3M406.7,598.4L370.0,578.5L348.3,542.8M412.8,591.7L376.2,571.9L354.7,536.4M418.0,584.1L382.5,565.4L362.0,530.9M422.3,575.8L388.8,558.8L370.2,526.1M426.0,566.8L395.0,552.2L379.0,522.0M429.1,557.2L401.2,545.7L388.4,518.4M431.7,547.2L407.5,539.1L398.3,515.3M434.0,536.9L413.8,532.6L408.5,512.5M436.1,526.3L420.0,526.0L418.9,509.9" fill="none" stroke="#5f7d5c" stroke-opacity="0.45" stroke-width="1"/><path d="M340.0,610.0 L435.0,510.2" stroke="#1a2a18" stroke-opacity="0.35" stroke-width="1.2"/><path d="M470.0,610.0 L483.9,615.3 L486.8,617.0 L496.8,617.0 L500.1,619.1 L508.3,616.7 L511.9,619.1 L518.8,615.0 L522.5,617.6 L528.3,612.0 L532.1,614.7 L537.0,607.8 L540.7,610.5 L544.9,602.6 L548.6,605.2 L552.2,596.5 L555.7,598.8 L558.8,589.5 L562.1,591.6 L565.0,581.8 L568.0,583.6 L570.6,573.5 L573.4,574.9 L575.9,564.7 L578.3,565.6 L580.9,555.5 L583.0,555.9 L585.7,546.0 L587.4,545.9 L590.3,536.2 L591.7,535.7 L594.8,526.4 L595.8,525.4 L599.3,516.5 L600.0,515.0 L600.0,515.0 L598.4,515.2 L588.9,515.8 L587.6,516.5 L577.7,516.6 L576.8,517.8 L566.7,517.6 L566.1,519.2 L555.8,518.8 L555.6,520.9 L545.2,520.3 L545.3,522.8 L534.9,522.2 L535.3,525.2 L525.0,524.7 L525.7,528.1 L515.5,527.8 L516.5,531.6 L506.7,531.8 L507.9,535.8 L498.5,536.6 L499.8,540.8 L491.0,542.5 L492.5,546.8 L484.4,549.4 L485.8,553.8 L478.7,557.7 L480.1,562.0 L474.0,567.3 L475.2,571.4 L470.5,578.6 L471.5,582.3 L468.5,591.8 L469.1,595.2 L470.0,610.0Z" fill="#456045" stroke="#5a7858" stroke-width="0.9"/><path d="M486.4,616.4L470.0,610.0L468.9,592.5M499.3,618.1L476.1,605.5L471.2,579.6M510.9,617.8L483.8,599.9L475.0,568.6M521.4,616.1L491.4,594.4L479.8,559.2M530.9,613.0L499.1,588.8L485.6,551.1M539.5,608.8L506.7,583.2L492.3,544.2M547.3,603.4L514.4,577.6L499.7,538.3M554.5,597.1L522.0,572.0L507.9,533.4M561.0,590.0L529.6,566.4L516.7,529.4M566.9,582.1L537.3,560.8L526.0,526.1M572.4,573.6L544.9,555.2L535.8,523.5M577.5,564.5L552.6,549.6L546.0,521.4M582.3,555.0L560.2,544.1L556.5,519.7M586.9,545.2L567.9,538.5L567.2,518.3M591.3,535.2L575.5,532.9L578.1,517.1" fill="none" stroke="#5e7c5b" stroke-opacity="0.45" stroke-width="1"/><path d="M470.0,610.0 L593.5,519.8" stroke="#1a2a18" stroke-opacity="0.35" stroke-width="1.2"/><path d="M232,522 L214,551" stroke="#7a9a4a" stroke-width="1.2"/></g>
  <g filter="url(#fT)"><ellipse cx="270" cy="80" rx="45" ry="14" fill="#0e1a0e" opacity="0.55"/><ellipse cx="380" cy="42" rx="40" ry="16" fill="#0e1a0e" opacity="0.4"/><ellipse cx="480" cy="80" rx="30" ry="12" fill="#0e1a0e" opacity="0.35"/><ellipse cx="200" cy="45" rx="30" ry="10" fill="#0e1a0e" opacity="0.35"/></g>
</svg>
<div class="tl" style="left:55.47px;transform:scaleX(0.912)">I</div>
<div class="tl" style="left:66.80px;transform:scaleX(0.900)">N</div>
<div class="tl" style="left:96.13px;transform:scaleX(1.026)">V</div>
<div class="tl" style="left:129.62px;transform:scaleX(0.641)">E</div>
<div class="tl" style="left:152.10px;transform:scaleX(0.766)">S</div>
<div class="tl" style="left:176.10px;transform:scaleX(0.833)">T</div>
<div class="tl" style="left:197.27px;transform:scaleX(1.064)">M</div>
<div class="tl" style="left:236.24px;transform:scaleX(0.630)">E</div>
<div class="tl" style="left:257.03px;transform:scaleX(0.986)">N</div>
<div class="tl" style="left:288.70px;transform:scaleX(0.811)">T</div>
<div class="tl" style="left:321.98px;transform:scaleX(0.811)">P</div>
<div class="tl" style="left:347.43px;transform:scaleX(0.833)">R</div>
<div class="tl" style="left:374.59px;transform:scaleX(1.006)">O</div>
<div class="tl" style="left:407.88px;transform:scaleX(0.917)">C</div>
<div class="tl" style="left:437.09px;transform:scaleX(0.656)">E</div>
<div class="tl" style="left:458.80px;transform:scaleX(0.831)">S</div>
<div class="tl" style="left:485.00px;transform:scaleX(0.759)">S</div>
<div class="panel"></div>
<svg id="dia" width="980" height="551" viewBox="0 0 980 551">
  <circle cx="293.5" cy="307.5" r="170.9" fill="none" stroke="#3799CF" stroke-width="33.2"/>
  <defs>
    <path id="arcTL" d="M 293.5 307.5 m -165 0 a 165 165 0 0 1 165 -165"/>
  </defs>
  <!-- arrows -->
  <path fill="#3799CF" d="M284.2 184 H301.2 V200.6 H309 L292.7 215.5 L276.4 200.6 H284.2 Z"/>
  <path fill="#3799CF" d="M284.2 289 H301.2 V305.3 H309 L292.7 320.4 L276.4 305.3 H284.2 Z"/>
  <path fill="#3799CF" d="M284.2 394 H301.2 V410.9 H309 L292.7 426 L276.4 410.9 H284.2 Z"/>
  <!-- boxes -->
  <rect x="212.4" y="110.2" width="165.2" height="75.8" rx="11" fill="#56AF1F"/>
  <rect x="192.2" y="215.5" width="201.7" height="75.1" rx="11" fill="#F9BA99"/>
  <rect x="192.2" y="320.9" width="201.7" height="75.3" rx="11" fill="#F9BA99"/>
  <rect x="211" y="426" width="165" height="75.3" rx="11" fill="#F37835"/>
  <!-- box text -->
  <g font-family="Liberation Sans" text-anchor="middle">
    <text x="293.2" y="141.3" font-size="22.2" fill="#fff">Investable</text>
    <text x="293.2" y="164.6" font-size="22.2" fill="#fff">Universe</text>
    <text x="294" y="241.2" font-size="17" fill="#333">Qualifies for Screening</text>
    <text x="294" y="259.4" font-size="17" fill="#333">Meets Criteria for</text>
    <text x="294" y="277.4" font-size="17" fill="#333">Review</text>
    <text x="292.5" y="354" font-size="17" fill="#333">Investment</text>
    <text x="290.8" y="372.5" font-size="17.3" fill="#333">Risk Analysis</text>
    <text x="289.2" y="453.6" font-size="22.2" font-weight="bold" fill="#fff">MSOS</text>
    <text x="292.3" y="473.4" font-size="17.2" fill="#fff">Portfolio</text>
    <text x="292.3" y="491.4" font-size="17" fill="#fff">Holdings</text>
  </g>
  <!-- ring labels -->
  <g id="ringlabels" font-family="Liberation Sans" font-size="20" fill="#fff" text-anchor="middle">
    <path id="rp0" d="M 459.5 307.5 A 166.0 166.0 0 1 1 127.5 307.5 A 166.0 166.0 0 1 1 459.5 307.5" fill="none"/>
    <text><textPath href="#rp0" startOffset="593.9">Active Mgmt.</textPath></text>
    <path id="rp1" d="M 457.5 307.5 A 164.0 164.0 0 1 1 129.5 307.5 A 164.0 164.0 0 1 1 457.5 307.5" fill="none"/>
    <text><textPath href="#rp1" startOffset="956.0">Risk Mgmt.</textPath></text>
    <path id="rp2" d="M 459.5 307.5 A 166.0 166.0 0 1 1 127.5 307.5 A 166.0 166.0 0 1 1 459.5 307.5" fill="none"/>
    <text><textPath href="#rp2" startOffset="78.2">Active Mgmt.</textPath></text>
    <path id="rp3" d="M 459.5 307.5 A 166.0 166.0 0 1 1 127.5 307.5 A 166.0 166.0 0 1 1 459.5 307.5" fill="none"/>
    <text><textPath href="#rp3" startOffset="443.3">Risk Mgmt.</textPath></text>
  </g>
  <!-- triangles -->
  <g fill="#D9D9D8" stroke="#666" stroke-width="2.2" stroke-linejoin="miter">
    <polygon points="197.4,164.5 167.0,160.1 193.4,194.9"/>
    <polygon points="411.1,187.1 411.6,157.2 379.8,187.1"/>
    <polygon points="464.4,322.2 442.0,300.6 487.0,300.6"/>
    <polygon points="386.4,452.2 389.0,421.5 417.1,454.9"/>
    <polygon points="176.7,433.9 207.5,431.2 178.7,464.6"/>
    <polygon points="121.8,302.0 99.3,323.4 144.3,323.4"/>
  </g>
</svg>

<div class="dot" style="left:520.5px;top:129.5px;background:#57AD23"></div>
<div class="h" style="top:121px;color:#57AD23;letter-spacing:1.25px">Investment Universe</div>
<div class="r" style="top:150.5px;letter-spacing:0.449px">U.S. companies working directly in or</div>
<div class="r" style="top:170.7px;letter-spacing:0.664px">primarily supporting the cannabis industry.</div>

<div class="dot" style="left:520.5px;top:238px;background:#F37A35"></div>
<div class="h" style="top:230px;color:#F37A35;letter-spacing:0.93px">Portfolio Construction</div>
<div class="r" style="top:260px;letter-spacing:0.519px">Uses a fundamental process to identify</div>
<div class="r" style="top:280.3px;letter-spacing:0.493px">cannabis-related companies establishing</div>
<div class="r" style="top:300.6px;letter-spacing:0.597px">dominant positions in their respective markets,</div>
<div class="r" style="top:321px;letter-spacing:0.625px">focusing on profitability and upside growth.</div>

<div class="dot" style="left:520.5px;top:382.5px;background:#3A98CE"></div>
<div class="h" style="top:374px;color:#3A98CE;letter-spacing:1.17px">Risk Management</div>
<div class="r" style="top:404.4px;letter-spacing:0.476px">The portfolio is actively managed and</div>
<div class="r" style="top:424.8px;letter-spacing:0.622px">monitored daily to add or remove companies;</div>
<div class="r" style="top:445px;letter-spacing:0.545px">adjust position sizes; and opportunistically</div>
<div class="r" style="top:465.2px;letter-spacing:0.566px">trade on mis-pricings in the market.</div>
</body></html>
